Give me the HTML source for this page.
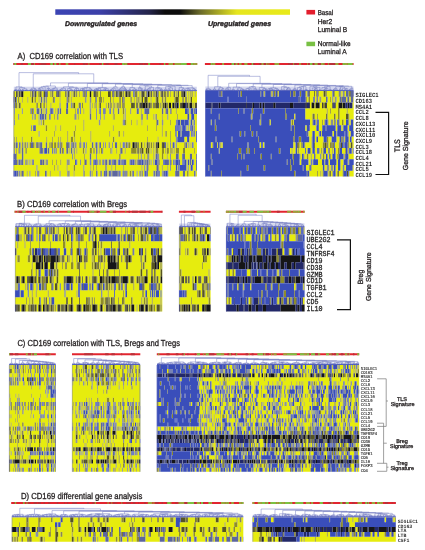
<!DOCTYPE html>
<html><head><meta charset="utf-8"><title>CD169 heatmaps</title>
<style>
html,body{margin:0;padding:0;background:#fff;width:425px;height:550px;overflow:hidden}
svg{display:block}
text{text-rendering:geometricPrecision}
.t{font-family:"Liberation Sans",Arial,sans-serif;fill:#231f20}
.s{stroke:#231f20;stroke-width:0.3px}
.s3{stroke:#231f20;stroke-width:0.35px}
.m{font-family:"Liberation Mono","DejaVu Sans Mono",monospace;fill:#2a2a2a;font-weight:bold}
</style></head>
<body>
<svg xmlns="http://www.w3.org/2000/svg" width="425" height="550" viewBox="0 0 425 550">
<defs>
<linearGradient id="cb" x1="55.3" y1="0" x2="290" y2="0" gradientUnits="userSpaceOnUse">
<stop offset="0" stop-color="#3b44b4"/>
<stop offset="0.19" stop-color="#3c40a8"/>
<stop offset="0.40" stop-color="#24244a"/>
<stop offset="0.467" stop-color="#0c0c0c"/>
<stop offset="0.531" stop-color="#0c0c0c"/>
<stop offset="0.617" stop-color="#6a6a2a"/>
<stop offset="0.774" stop-color="#e6e61e"/>
<stop offset="1" stop-color="#e8ea1a"/>
</linearGradient>
</defs>
<!-- colour bar -->
<rect x="55.3" y="9.3" width="234.7" height="5.5" fill="url(#cb)"/>
<text class="t s3" x="65.1" y="25.9" font-size="6.9" font-weight="bold" font-style="italic" textLength="72.1" lengthAdjust="spacingAndGlyphs">Downregulated genes</text>
<text class="t s3" x="207.9" y="26.2" font-size="7" font-weight="bold" font-style="italic" textLength="63.3" lengthAdjust="spacingAndGlyphs">Upregulated genes</text>
<!-- legend -->
<rect x="306.4" y="9.9" width="8.7" height="4.6" fill="#e31e2d"/>
<rect x="306.4" y="41.7" width="8.7" height="4.5" fill="#78c043"/>
<g class="t s" font-size="7.2">
<text x="317.7" y="15.2" textLength="15.5" lengthAdjust="spacingAndGlyphs">Basal</text>
<text x="317.7" y="23.8" textLength="14.5" lengthAdjust="spacingAndGlyphs">Her2</text>
<text x="317.7" y="32.4" textLength="29.6" lengthAdjust="spacingAndGlyphs">Luminal B</text>
<text x="317.7" y="46.2" textLength="32.9" lengthAdjust="spacingAndGlyphs">Normal-like</text>
<text x="317.7" y="54.4" textLength="29" lengthAdjust="spacingAndGlyphs">Luminal A</text>
</g>
<!-- titles -->
<g class="t s" font-size="8.7">
<text x="17.6" y="59.0" textLength="105.4" lengthAdjust="spacingAndGlyphs">A)&#160; CD169 correlation with TLS</text>
<text x="17.1" y="207.3" textLength="110" lengthAdjust="spacingAndGlyphs">B) CD169 correlation with Bregs</text>
<text x="17.4" y="346.2" textLength="162.6" lengthAdjust="spacingAndGlyphs">C) CD169 correlation with TLS, Bregs and Tregs</text>
<text x="20.9" y="499.2" textLength="121.4" lengthAdjust="spacingAndGlyphs">D) CD169 differential gene analysis</text>
</g>
<!-- annotation bars -->
<g>
<path stroke="#e2252f" stroke-width="2" d="M13.5 64H197.2"/>
<path stroke="#b8323a" stroke-width="2" d="M13.5 64h0.8M20.9 64h2M26.9 64h1M30.9 64h3.2M38.9 64h0.8M40.5 64h3.2M43.7 64h2.6M58.3 64h0.8M74.3 64h1M82.9 64h2.6M86.3 64h0.8M99.1 64h1M100.1 64h1M105.5 64h3.2M114.5 64h2M116.5 64h1M127.3 64h1M139.1 64h2.6M141.7 64h1.4M144.1 64h2.6M159.3 64h1M160.3 64h0.8"/>
<path stroke="#7cc242" stroke-width="2" d="M14.3 64h2M27.9 64h2M29.9 64h1M50.3 64h2.6M54.3 64h2M88.5 64h0.8M101.9 64h1.4M122.1 64h2.6M148.1 64h2M163.9 64h1.4M180.9 64h3.2M184.1 64h2.6M190.7 64h2.6M195.9 64h0.8"/>
<path stroke="#9aa83c" stroke-width="2" d="M34.1 64h0.8M59.1 64h1.4M65.7 64h2.6M124.7 64h2.6M168.5 64h2M170.5 64h2.6M174.5 64h3.2M177.7 64h3.2M193.3 64h2.6M196.7 64h0.5"/>
<path stroke="#e2252f" stroke-width="2" d="M204.9 64H353.6"/>
<path stroke="#b8323a" stroke-width="2" d="M234.1 64h1.4M253.1 64h2M258.9 64h2.6M263.5 64h2.6M267.5 64h1M288.1 64h1M289.1 64h3.2M294.1 64h3.2M302.1 64h0.8M307.9 64h2M312.5 64h2M317.7 64h3.2M329.5 64h2.6M332.1 64h3.2"/>
<path stroke="#7cc242" stroke-width="2" d="M210.7 64h2M231.5 64h2.6M239.3 64h0.8M251.7 64h1.4M293.3 64h0.8M299.3 64h1M309.9 64h2.6M323.5 64h1M327.9 64h0.8M342.5 64h1.4M343.9 64h1M347.5 64h2.6M350.1 64h2"/>
<path stroke="#9aa83c" stroke-width="2" d="M212.7 64h2.6M222.1 64h2M235.5 64h2M240.1 64h1.4M244.3 64h3.2M261.5 64h2M266.1 64h1.4M268.5 64h0.8M274.5 64h1.4M275.9 64h3.2M300.3 64h0.8M307.1 64h0.8M314.5 64h3.2M320.9 64h2.6M335.3 64h3.2M344.9 64h2.6M352.1 64h0.8"/>
<path stroke="#e2252f" stroke-width="2" d="M14.6 211.8H162.4"/>
<path stroke="#b8323a" stroke-width="2" d="M18.4 211.8h2.6M21 211.8h1.4M27.4 211.8h1M31 211.8h1.4M42.6 211.8h1M57.2 211.8h1M73.2 211.8h0.8M87.4 211.8h0.8M88.2 211.8h1M96.4 211.8h2M112.8 211.8h3.2M128.6 211.8h1.4M132 211.8h2.6M134.6 211.8h3.2M139.4 211.8h3.2M142.6 211.8h3.2M148.6 211.8h2M161.6 211.8h0.8"/>
<path stroke="#7cc242" stroke-width="2" d="M17.4 211.8h1M22.4 211.8h3.2M32.4 211.8h2.6M39.6 211.8h1M52.2 211.8h3.2M58.2 211.8h0.8M67.4 211.8h3.2M91.2 211.8h0.8M92 211.8h2.6M99.8 211.8h2.6M102.4 211.8h1.4M103.8 211.8h2.6M125.4 211.8h0.8M150.6 211.8h2.6"/>
<path stroke="#9aa83c" stroke-width="2" d="M14.6 211.8h0.8M36 211.8h0.8M37.6 211.8h2M43.6 211.8h1.4M48.2 211.8h2M89.2 211.8h2M95.4 211.8h1M109.6 211.8h3.2"/>
<path stroke="#e2252f" stroke-width="2" d="M178.9 211.8H210.6"/>
<path stroke="#b8323a" stroke-width="2" d="M183.5 211.8h2M191.5 211.8h0.8M192.3 211.8h2.6"/>
<path stroke="#7cc242" stroke-width="2" d="M197.9 211.8h1.4"/>
<path stroke="#9aa83c" stroke-width="2" d="M195.9 211.8h1M196.9 211.8h1M199.3 211.8h1M203.5 211.8h1"/>
<path stroke="#e2252f" stroke-width="2" d="M225.9 211.8H304.6"/>
<path stroke="#b8323a" stroke-width="2" d="M236.5 211.8h1M238.5 211.8h3.2M241.7 211.8h1M269.5 211.8h0.8M276.9 211.8h1.4M278.3 211.8h1.4"/>
<path stroke="#7cc242" stroke-width="2" d="M228.7 211.8h2M233.9 211.8h2.6M237.5 211.8h1M242.7 211.8h3.2M249.5 211.8h0.8M250.3 211.8h2.6M252.9 211.8h1M257.1 211.8h3.2M260.3 211.8h1.4M261.7 211.8h1.4M266.3 211.8h3.2M270.3 211.8h0.8M290.3 211.8h1M295.9 211.8h1M297.7 211.8h1.4"/>
<path stroke="#9aa83c" stroke-width="2" d="M225.9 211.8h2M227.9 211.8h0.8M230.7 211.8h3.2M245.9 211.8h0.8M263.1 211.8h3.2M287.1 211.8h3.2M292.7 211.8h3.2M296.9 211.8h0.8M299.1 211.8h2M303.1 211.8h1.4M304.5 211.8h0.1"/>
<path stroke="#e2252f" stroke-width="2" d="M9 354.3H55.8"/>
<path stroke="#b8323a" stroke-width="2" d="M9.8 354.3h3.2M15 354.3h1.4M16.4 354.3h1M17.4 354.3h1M27.8 354.3h3.2M32.4 354.3h1.4M45.4 354.3h0.8M46.2 354.3h2.6M48.8 354.3h0.8"/>
<path stroke="#7cc242" stroke-width="2" d="M9 354.3h0.8M33.8 354.3h3.2"/>
<path stroke="#9aa83c" stroke-width="2" d="M25.8 354.3h2M31 354.3h1.4M49.6 354.3h0.8"/>
<path stroke="#e2252f" stroke-width="2" d="M72 354.3H140.3"/>
<path stroke="#b8323a" stroke-width="2" d="M84.2 354.3h1.4M85.6 354.3h2M87.6 354.3h2M89.6 354.3h2.6M92.2 354.3h0.8M105.2 354.3h2M107.2 354.3h1.4M111.4 354.3h2M113.4 354.3h1.4M121.2 354.3h1M130.8 354.3h3.2M134 354.3h0.8"/>
<path stroke="#e2252f" stroke-width="2" d="M156.8 354.3H359.2"/>
<path stroke="#b8323a" stroke-width="2" d="M166.4 354.3h3.2M175.8 354.3h2.6M181.8 354.3h1M182.8 354.3h1M187.4 354.3h1M194.8 354.3h1M208.8 354.3h2.6M211.4 354.3h1M212.4 354.3h2M227.4 354.3h2M230.8 354.3h1.4M234.8 354.3h1.4M245.6 354.3h1.4M247 354.3h1M251.6 354.3h1M252.6 354.3h1M263 354.3h0.8M265.4 354.3h1M266.4 354.3h2.6M309.2 354.3h0.8M315 354.3h3.2M331.4 354.3h1.4M333.6 354.3h2.6M340.8 354.3h2.6M347.4 354.3h1.4M353 354.3h1.4"/>
<path stroke="#7cc242" stroke-width="2" d="M158.2 354.3h1M183.8 354.3h1M196.8 354.3h3.2M203.4 354.3h0.8M205.6 354.3h3.2M216.4 354.3h2M218.4 354.3h2.6M236.2 354.3h1M248.8 354.3h0.8M257.4 354.3h1.4M258.8 354.3h3.2M262 354.3h1M286.4 354.3h3.2M289.6 354.3h3.2M292.8 354.3h3.2M296 354.3h0.8M300 354.3h3.2M303.2 354.3h0.8M306.6 354.3h2.6M311 354.3h2M313 354.3h2M318.2 354.3h1M326 354.3h3.2M330.6 354.3h0.8M336.2 354.3h1M337.2 354.3h1.4M357.8 354.3h1.4"/>
<path stroke="#9aa83c" stroke-width="2" d="M221 354.3h3.2M229.4 354.3h1.4M263.8 354.3h0.8M264.6 354.3h0.8M271 354.3h1.4M273.4 354.3h3.2M283.2 354.3h3.2M304 354.3h2.6M319.2 354.3h1M344.8 354.3h2.6M348.8 354.3h1M357 354.3h0.8"/>
<path stroke="#e2252f" stroke-width="2" d="M11.2 503H243.4"/>
<path stroke="#b8323a" stroke-width="2" d="M13.8 503h1M28.4 503h2M33.6 503h3.2M37.8 503h3.2M43.6 503h1.4M48.2 503h2M56.8 503h1.4M64 503h0.8M66.8 503h1.4M72.2 503h2M74.2 503h0.8M75 503h0.8M75.8 503h1M87 503h2M92.2 503h2.6M110 503h1.4M113 503h2.6M116.4 503h0.8M122.2 503h0.8M126.2 503h2M128.2 503h2.6M132.8 503h2.6M138 503h0.8M144.2 503h0.8M145 503h0.8M155.4 503h3.2M161.6 503h1.4M166.2 503h1M175.4 503h1.4M177.6 503h1M184.2 503h3.2M194 503h2M203 503h1.4"/>
<path stroke="#7cc242" stroke-width="2" d="M23.2 503h1.4M26.6 503h0.8M167.2 503h3.2M178.6 503h1M187.4 503h3.2M190.6 503h1.4M192 503h2M201 503h2M208.4 503h1.4M209.8 503h0.8M224.2 503h1.4M227 503h0.8M241.6 503h1.8"/>
<path stroke="#9aa83c" stroke-width="2" d="M14.8 503h1.4M94.8 503h1M107.6 503h1M111.4 503h0.8M121.4 503h0.8M147.8 503h2.6M150.4 503h2M153.4 503h1M170.4 503h1M179.6 503h1.4M181 503h3.2M196.8 503h3.2M210.6 503h1.4M221 503h3.2M225.6 503h1.4M227.8 503h1.4M231.2 503h2.6M239 503h2.6"/>
<path stroke="#e2252f" stroke-width="2" d="M252.5 503H395.8"/>
<path stroke="#b8323a" stroke-width="2" d="M328.3 503h3.2M343.1 503h2.6M352.1 503h2.6M367.3 503h0.8M384.9 503h3.2M391.7 503h1M395.3 503h0.5"/>
<path stroke="#7cc242" stroke-width="2" d="M261.9 503h0.8M262.7 503h0.8M263.5 503h2M266.3 503h2M270.3 503h1.4M271.7 503h2.6M274.3 503h0.8M275.1 503h1.4M278.7 503h3.2M284.5 503h1M285.5 503h0.8M286.3 503h1M287.3 503h2.6M290.9 503h1.4M295.9 503h0.8M296.7 503h2.6M299.3 503h2M301.3 503h2M309.1 503h0.8M310.9 503h0.8M319.7 503h3.2M340.3 503h2M345.7 503h3.2M365.3 503h2M368.1 503h1M377.1 503h1.4M378.5 503h0.8M381.3 503h0.8"/>
<path stroke="#9aa83c" stroke-width="2" d="M252.5 503h2M257.7 503h1M258.7 503h3.2M265.5 503h0.8M276.5 503h0.8M277.3 503h1.4M281.9 503h2.6M289.9 503h1M294.9 503h1M305.9 503h3.2M311.7 503h1.4M331.5 503h1M357.5 503h2M359.5 503h2.6M371.7 503h2M373.7 503h1.4M379.3 503h2M382.1 503h0.8"/>
</g>
<!-- dendrograms -->
<g fill="none" stroke="#6870bc" stroke-width="0.45">
<rect x="13.8" y="86.7" width="183" height="4.5" fill="#d4d7ee" stroke="none"/><path d="M15.21 91.2V90.76H15.95V91.2M14.33 91.2V90.08H15.58V90.76M14.96 90.08V89.49H16.97V91.2M17.94 91.2V90.85H18.77V91.2M19.71 91.2V90.61H20.39V91.2M20.05 90.61V89.86H20.97V91.2M18.35 90.85V89.28H20.51V89.86M21.6 91.2V90.6H22.33V91.2M23.44 91.2V90.67H24.15V91.2M22.92 91.2V90.2H23.79V90.67M21.96 90.6V89.88H23.36V90.2M25.65 91.2V90.82H26.73V91.2M24.79 91.2V90.5H26.19V90.82M27.48 91.2V90.87H28.29V91.2M25.49 90.5V90.08H27.88V90.87M22.66 89.88V88.89H26.69V90.08M19.43 89.28V87.69H24.67V88.89M15.96 89.49V86.87H22.05V87.69M29.48 91.2V90.39H30.73V91.2M32.97 91.2V90.58H33.78V91.2M31.87 91.2V89.87H33.37V90.58M30.11 90.39V89.56H32.62V89.87M35.9 91.2V90.4H36.94V91.2M35.19 91.2V89.57H36.42V90.4M34.45 91.2V88.69H35.81V89.57M31.36 89.56V88.26H35.13V88.69M40.07 91.2V90.52H40.76V91.2M40.41 90.52V89.98H41.33V91.2M39.18 91.2V89.12H40.87V89.98M38.14 91.2V88.72H40.02V89.12M42.22 91.2V90.75H42.98V91.2M42.6 90.75V90.41H43.41V91.2M39.08 88.72V87.92H43.01V90.41M43.99 91.2V90.87H44.84V91.2M44.41 90.87V90.4H45.88V91.2M41.05 87.92V86.72H45.15V90.4M48.72 91.2V90.85H49.54V91.2M48 91.2V89.97H49.13V90.85M48.57 89.97V89.07H50.5V91.2M46.99 91.2V88.52H49.53V89.07M43.1 86.72V86.29H48.26V88.52M52.19 91.2V90.69H52.99V91.2M52.59 90.69V90.04H53.8V91.2M51.25 91.2V89.19H53.2V90.04M52.23 89.19V88.69H55.02V91.2M57.48 91.2V90.61H58.52V91.2M56.26 91.2V89.95H58V90.61M53.62 88.69V88.05H57.13V89.95M45.68 86.29V85.99H55.38V88.05M59.12 91.2V90.8H59.88V91.2M61.14 91.2V90.85H61.88V91.2M60.7 91.2V90.37H61.51V90.85M59.5 90.8V89.82H61.11V90.37M60.3 89.82V89.16H63.02V91.2M64.19 91.2V90.56H65.1V91.2M64.64 90.56V90.03H66.06V91.2M61.66 89.16V88.19H65.35V90.03M67.17 91.2V90.74H68.12V91.2M68.9 91.2V90.68H69.87V91.2M69.39 90.68V90.09H71.04V91.2M71.96 91.2V90.88H72.94V91.2M70.22 90.09V89.75H72.45V90.88M67.65 90.74V88.49H71.33V89.75M74.1 91.2V90.77H75.01V91.2M75.88 91.2V90.57H76.54V91.2M76.21 90.57V90.03H77.09V91.2M74.55 90.77V89.01H76.65V90.03M77.67 91.2V90.71H78.49V91.2M78.08 90.71V90.16H79.39V91.2M75.6 89.01V88.46H78.73V90.16M69.49 88.49V87.34H77.17V88.46M63.51 88.19V86.8H73.33V87.34M80.1 91.2V90.78H80.82V91.2M81.55 91.2V90.76H82.2V91.2M81.88 90.76V90.11H82.59V91.2M82.23 90.11V89.72H83.3V91.2M84.43 91.2V90.69H85.4V91.2M82.77 89.72V89.21H84.92V90.69M80.46 90.78V88.69H83.84V89.21M87.12 91.2V90.85H87.94V91.2M86.17 91.2V90.42H87.53V90.85M82.15 88.69V88.19H86.85V90.42M88.64 91.2V90.65H89.32V91.2M89.91 91.2V90.88H90.63V91.2M90.27 90.88V90.49H91.27V91.2M91.86 91.2V90.6H92.52V91.2M90.77 90.49V89.58H92.19V90.6M88.98 90.65V88.87H91.48V89.58M84.5 88.19V87.59H90.23V88.87M93.27 91.2V90.68H94.05V91.2M93.66 90.68V90.31H94.67V91.2M94.16 90.31V89.94H95.28V91.2M97.12 91.2V90.41H98.04V91.2M98.77 91.2V90.47H99.47V91.2M97.58 90.41V89.84H99.12V90.47M96.08 91.2V89.44H98.35V89.84M94.72 89.94V89.08H97.22V89.44M100.95 91.2V90.48H101.63V91.2M100.19 91.2V90.01H101.29V90.48M95.97 89.08V88.52H100.74V90.01M102.5 91.2V90.82H103.5V91.2M104.42 91.2V90.49H105.12V91.2M104.77 90.49V90.03H105.6V91.2M105.18 90.03V89.71H106.21V91.2M103 90.82V89.17H105.7V89.71M107.06 91.2V90.8H108.05V91.2M107.55 90.8V90.41H108.91V91.2M104.35 89.17V88.7H108.23V90.41M98.35 88.52V87.57H106.29V88.7M110.41 91.2V90.8H111.14V91.2M109.59 91.2V90.22H110.78V90.8M110.18 90.22V89.9H111.95V91.2M113.15 91.2V90.84H114.01V91.2M111.07 89.9V89.11H113.58V90.84M114.78 91.2V90.58H115.7V91.2M112.32 89.11V88.16H115.24V90.58M116.54 91.2V90.47H117.64V91.2M113.78 88.16V86.82H117.09V90.47M119.13 91.2V90.62H119.8V91.2M119.47 90.62V90.11H120.75V91.2M118.62 91.2V89.28H120.11V90.11M119.36 89.28V88.94H121.79V91.2M120.58 88.94V87.85H122.94V91.2M126.61 91.2V90.54H127.28V91.2M125.82 91.2V89.78H126.94V90.54M125.33 91.2V89.38H126.38V89.78M124.74 91.2V88.64H125.85V89.38M123.94 91.2V87.76H125.29V88.64M121.76 87.85V86.65H124.62V87.76M127.98 91.2V90.76H128.91V91.2M128.45 90.76V90.21H129.79V91.2M129.12 90.21V89.37H130.72V91.2M131.74 91.2V90.7H132.56V91.2M133.37 91.2V90.88H134.22V91.2M132.15 90.7V90.05H133.8V90.88M135.37 91.2V90.77H136.16V91.2M134.67 91.2V90.14H135.77V90.77M135.22 90.14V89.43H137.07V91.2M132.97 90.05V89H136.14V89.43M129.92 89.37V87.59H134.56V89M138.05 91.2V90.87H138.87V91.2M141.32 91.2V90.5H142.08V91.2M140.66 91.2V89.96H141.7V90.5M141.18 89.96V89.14H142.97V91.2M139.85 91.2V88.21H142.08V89.14M138.46 90.87V87.76H140.97V88.21M143.97 91.2V90.6H144.62V91.2M144.3 90.6V90.05H145.07V91.2M144.68 90.05V89.17H145.77V91.2M147.19 91.2V90.89H147.84V91.2M147.52 90.89V90.46H148.5V91.2M146.53 91.2V89.73H148.01V90.46M147.27 89.73V89.07H149.3V91.2M150.24 91.2V90.76H151.16V91.2M148.29 89.07V88.29H150.7V90.76M152.04 91.2V90.55H152.89V91.2M152.47 90.55V90.2H153.52V91.2M152.99 90.2V89.81H154.15V91.2M149.49 88.29V87.39H153.57V89.81M145.23 89.17V86.08H151.53V87.39M139.71 87.76V85.78H148.38V86.08M155.2 91.2V90.72H156.5V91.2M157.42 91.2V90.69H158.33V91.2M160.08 91.2V90.79H160.82V91.2M160.45 90.79V90.13H161.72V91.2M159.44 91.2V89.82H161.09V90.13M162.35 91.2V90.83H163.09V91.2M160.26 89.82V89.34H162.72V90.83M157.87 90.69V88.22H161.49V89.34M155.85 90.72V87.74H159.68V88.22M165.05 91.2V90.64H165.81V91.2M164.04 91.2V90.13H165.43V90.64M164.73 90.13V89.22H166.57V91.2M167.5 91.2V90.76H168.3V91.2M170.18 91.2V90.45H170.96V91.2M169.13 91.2V90.06H170.57V90.45M167.9 90.76V89.08H169.85V90.06M171.31 91.2V90.85H172.11V91.2M171.71 90.85V90.3H173.21V91.2M168.87 89.08V87.94H172.46V90.3M165.65 89.22V86.62H170.67V87.94M175.41 91.2V90.39H176.53V91.2M174.28 91.2V89.95H175.97V90.39M168.16 86.62V86.18H175.12V89.95M177.69 91.2V90.89H178.47V91.2M178.08 90.89V90.5H178.98V91.2M179.47 91.2V90.64H180.17V91.2M178.53 90.5V89.92H179.82V90.64M181.2 91.2V90.55H182.14V91.2M182.77 91.2V90.51H183.48V91.2M181.67 90.55V89.64H183.12V90.51M182.4 89.64V88.7H184.49V91.2M179.18 89.92V87.6H183.44V88.7M171.64 86.18V85.88H181.31V87.6M185.35 91.2V90.57H186.12V91.2M187.16 91.2V90.5H187.98V91.2M188.73 91.2V90.82H189.81V91.2M190.81 91.2V90.83H191.47V91.2M189.27 90.82V90.18H191.14V90.83M187.57 90.5V89.25H190.2V90.18M185.74 90.57V88.35H188.89V89.25M192.31 91.2V90.74H193.19V91.2M193.78 91.2V90.58H194.54V91.2M195.78 91.2V90.69H196.5V91.2M195.16 91.2V89.99H196.14V90.69M194.16 90.58V89.44H195.65V89.99M192.75 90.74V88.66H194.91V89.44M187.31 88.35V87.98H193.83V88.66M176.48 85.88V85.58H192.2V87.98M157.77 87.74V85.28H188.27V85.58M144.05 85.78V84.98H180.64V85.28M132.24 87.59V84.68H171.49V84.98M123.19 86.65V84.38H161.68V84.68M115.44 86.82V84.08H152.06V84.38M102.32 87.57V83.78H142.9V84.08M87.36 87.59V83.48H132.76V83.78M68.42 86.8V83.18H121.41V83.48M50.53 85.99V82.88H108.16V83.18M33.25 88.26V73.8H93.75V82.88M19.01 86.87V72.6H78.63V73.8"/><path stroke="#4a56b8" stroke-width="0.9" d="M13.8 90.85H196.8"/>
<rect x="205.4" y="86.5" width="148.1" height="4.5" fill="#d4d7ee" stroke="none"/><path d="M207.27 91V90.41H207.93V91M206.57 91V89.81H207.6V90.41M205.86 91V89.24H207.09V89.81M208.44 91V90.44H209.36V91M210.88 91V90.43H211.54V91M210.24 91V89.8H211.21V90.43M208.9 90.44V89.33H210.73V89.8M206.47 89.24V88.85H209.82V89.33M212.33 91V90.5H213.11V91M213.72 91V90.29H214.49V91M212.72 90.5V89.88H214.1V90.29M215.92 91V90.43H216.58V91M215.23 91V89.91H216.25V90.43M213.41 89.88V89.12H215.74V89.91M217.42 91V90.41H218.19V91M217.81 90.41V89.86H218.71V91M219.54 91V90.51H220.24V91M218.26 89.86V89.12H219.89V90.51M220.79 91V90.33H221.69V91M221.24 90.33V89.66H222.76V91M222 89.66V88.68H223.9V91M219.07 89.12V87.75H222.95V88.68M214.58 89.12V86.75H221.01V87.75M226.25 91V90.27H227.01V91M225.07 91V89.87H226.63V90.27M228.31 91V90.53H229V91M228.65 90.53V90.1H229.46V91M227.5 91V89.4H229.05V90.1M225.85 89.87V88.31H228.28V89.4M229.97 91V90.5H230.69V91M227.06 88.31V87.38H230.33V90.5M232.13 91V90.6H232.88V91M231.47 91V90.25H232.5V90.6M234.57 91V90.65H235.3V91M233.81 91V90.26H234.94V90.65M231.99 90.25V89.62H234.37V90.26M236.33 91V90.56H237.49V91M238.33 91V90.57H238.99V91M236.91 90.56V89.74H238.66V90.57M239.88 91V90.3H240.79V91M243.04 91V90.42H243.75V91M241.91 91V89.98H243.39V90.42M242.65 89.98V89.62H244.53V91M240.34 90.3V89.17H243.59V89.62M237.79 89.74V87.98H241.96V89.17M233.18 89.62V87.15H239.88V87.98M245.99 91V90.59H246.98V91M245.37 91V89.91H246.48V90.59M248.23 91V90.37H249.06V91M248.65 90.37V89.49H249.78V91M245.93 89.91V88.66H249.21V89.49M250.7 91V90.3H251.55V91M247.57 88.66V88.09H251.13V90.3M252.64 91V90.33H253.61V91M249.35 88.09V86.85H253.12V90.33M255.92 91V90.5H256.67V91M256.29 90.5V89.89H257.44V91M255.26 91V89.29H256.86V89.89M254.37 91V88.36H256.06V89.29M251.24 86.85V86.55H255.22V88.36M259.24 91V90.57H260.28V91M259.76 90.57V90.18H261.18V91M258.2 91V89.88H260.47V90.18M263.21 91V90.22H264.2V91M262.11 91V89.61H263.71V90.22M265.63 91V90.36H266.38V91M264.9 91V89.56H266.01V90.36M265.45 89.56V89.25H266.93V91M262.91 89.61V88.5H266.19V89.25M259.34 89.88V87.57H264.55V88.5M269.06 91V90.37H269.86V91M269.46 90.37V89.55H270.37V91M267.85 91V88.88H269.91V89.55M271.78 91V90.34H272.63V91M272.2 90.34V89.64H273.78V91M271.1 91V89.2H272.99V89.64M268.88 88.88V88.43H272.05V89.2M274.52 91V90.28H275.19V91M276.18 91V90.64H276.89V91M278.63 91V90.53H279.47V91M277.65 91V89.63H279.05V90.53M276.53 90.64V89.15H278.35V89.63M274.85 90.28V88.43H277.44V89.15M270.46 88.43V87.86H276.15V88.43M280.29 91V90.45H281.27V91M280.78 90.45V89.7H282.47V91M284.13 91V90.22H284.98V91M283.34 91V89.91H284.55V90.22M285.67 91V90.28H286.36V91M286.01 90.28V89.95H286.86V91M286.44 89.95V89.38H287.41V91M286.93 89.38V88.53H288.1V91M288.76 91V90.5H289.52V91M290.34 91V90.28H291.33V91M289.14 90.5V89.31H290.84V90.28M287.51 88.53V88.02H289.99V89.31M283.95 89.91V87.36H288.75V88.02M281.63 89.7V86.6H286.35V87.36M292.4 91V90.34H293.08V91M292.74 90.34V89.69H293.69V91M293.21 89.69V89.2H294.63V91M296.06 91V90.34H296.72V91M295.36 91V89.6H296.39V90.34M293.92 89.2V88.68H295.87V89.6M297.52 91V90.6H298.23V91M297.1 91V89.97H297.87V90.6M299.29 91V90.22H300.19V91M299.74 90.22V89.34H300.95V91M300.35 89.34V88.72H301.94V91M297.49 89.97V87.62H301.14V88.72M303.09 91V90.58H303.98V91M299.32 87.62V86.73H303.53V90.58M307.37 91V90.7H308.17V91M306.18 91V90.06H307.77V90.7M304.93 91V89.44H306.98V90.06M301.43 86.73V86.43H305.95V89.44M308.73 91V90.66H309.51V91M310.3 91V90.4H311.04V91M309.12 90.66V90.05H310.67V90.4M311.84 91V90.53H312.65V91M313.38 91V90.55H314.21V91M313.79 90.55V89.76H315.17V91M314.48 89.76V89.11H316.09V91M316.96 91V90.39H317.65V91M315.29 89.11V88.66H317.3V90.39M312.25 90.53V88H316.3V88.66M319.45 91V90.63H320.18V91M318.43 91V90.32H319.81V90.63M319.12 90.32V89.69H320.76V91M314.27 88V87.37H319.94V89.69M309.9 90.05V86.6H317.11V87.37M321.54 91V90.52H322.38V91M323.1 91V90.43H323.82V91M323.46 90.43V89.83H324.65V91M324.05 89.83V89.29H325.46V91M324.76 89.29V88.77H326.51V91M327.59 91V90.3H328.34V91M325.63 88.77V88.25H327.96V90.3M321.96 90.52V87.59H326.8V88.25M331.26 91V90.66H332.04V91M330.35 91V89.97H331.65V90.66M329.21 91V89.42H331V89.97M324.38 87.59V86.6H330.11V89.42M333.76 91V90.2H334.74V91M332.92 91V89.65H334.25V90.2M333.58 89.65V89.12H335.69V91M337.15 91V90.56H337.86V91M336.36 91V89.8H337.51V90.56M334.64 89.12V88.34H336.93V89.8M338.7 91V90.39H339.66V91M339.18 90.39V89.65H340.33V91M339.76 89.65V88.72H341V91M342.64 91V90.51H343.4V91M341.74 91V89.66H343.02V90.51M343.93 91V90.4H344.83V91M345.94 91V90.42H346.79V91M344.38 90.4V89.56H346.36V90.42M347.52 91V90.3H348.27V91M345.37 89.56V88.78H347.9V90.3M342.38 89.66V88.32H346.63V88.78M340.38 88.72V87.03H344.51V88.32M335.78 88.34V86.6H342.44V87.03M349.82 91V90.35H350.75V91M349.09 91V89.77H350.28V90.35M349.68 89.77V89.21H351.82V91M350.75 89.21V88.3H352.88V91M339.11 86.6V86.3H351.81V88.3M327.24 86.6V86H348.64V86.3M313.5 86.6V85.7H343.29V86M303.69 86.43V85.4H335.84V85.7M294.9 88.68V85.1H327.8V85.4M283.99 86.6V84.8H319.58V85.1M273.31 87.86V84.5H310.68V84.8M261.94 87.57V84.2H301.34V84.5M253.23 86.55V83.9H291.49V84.2M236.53 87.15V83.6H281.92V83.9M228.7 87.38V83.3H270.57V83.6M217.8 86.75V76.34H260.1V83.3M208.14 88.85V75.3H249.53V76.34"/><path stroke="#4a56b8" stroke-width="0.9" d="M205.4 90.65H353.5"/>
<rect x="15.2" y="223.63" width="146.9" height="3.57" fill="#d4d7ee" stroke="none"/><path d="M16.3 227.2V226.84H17.16V227.2M15.64 227.2V226.23H16.73V226.84M18.22 227.2V226.6H18.87V227.2M19.48 227.2V226.53H20.29V227.2M18.55 226.6V225.87H19.88V226.53M21.08 227.2V226.63H21.87V227.2M22.65 227.2V226.79H23.3V227.2M22.97 226.79V226.34H24.12V227.2M23.55 226.34V225.9H24.96V227.2M21.48 226.63V224.83H24.25V225.9M25.84 227.2V226.67H26.57V227.2M26.2 226.67V226H27.02V227.2M22.86 224.83V224.25H26.61V226M19.21 225.87V223.87H24.74V224.25M16.18 226.23V223.57H21.98V223.87M28.33 227.2V226.48H29.1V227.2M27.71 227.2V226.13H28.71V226.48M30.28 227.2V226.85H31.27V227.2M30.78 226.85V226.25H32.1V227.2M28.21 226.13V224.99H31.44V226.25M19.08 223.57V223.27H29.83V224.99M33.81 227.2V226.64H34.54V227.2M32.99 227.2V226.11H34.17V226.64M35.36 227.2V226.71H36.06V227.2M33.58 226.11V225.28H35.71V226.71M37.06 227.2V226.88H37.78V227.2M36.5 227.2V226.25H37.42V226.88M34.65 225.28V224.22H36.96V226.25M38.56 227.2V226.8H39.24V227.2M38.9 226.8V226.28H40.12V227.2M41.33 227.2V226.54H42.47V227.2M39.51 226.28V225.67H41.9V226.54M35.8 224.22V223.87H40.71V225.67M43.35 227.2V226.56H44.24V227.2M43.79 226.56V225.73H45.36V227.2M46.48 227.2V226.77H47.15V227.2M46.81 226.77V225.92H47.91V227.2M44.58 225.73V225.27H47.36V225.92M49.6 227.2V226.46H50.54V227.2M48.8 227.2V225.62H50.07V226.46M49.43 225.62V224.85H51.49V227.2M52.43 227.2V226.57H53.42V227.2M55.81 227.2V226.6H56.67V227.2M54.95 227.2V226.21H56.24V226.6M54.36 227.2V225.64H55.59V226.21M52.92 226.57V225.11H54.98V225.64M50.46 224.85V223.87H53.95V225.11M45.97 225.27V223.57H52.21V223.87M58.07 227.2V226.72H58.81V227.2M57.3 227.2V226.09H58.44V226.72M59.64 227.2V226.72H60.34V227.2M61.67 227.2V226.49H62.44V227.2M60.87 227.2V225.83H62.06V226.49M59.99 226.72V225.15H61.46V225.83M57.87 226.09V224.08H60.73V225.15M63.66 227.2V226.89H64.62V227.2M62.94 227.2V226.4H64.14V226.89M63.54 226.4V225.94H65.48V227.2M59.3 224.08V223.78H64.51V225.94M66.81 227.2V226.46H67.53V227.2M66.26 227.2V225.73H67.17V226.46M66.72 225.73V225.07H68.55V227.2M69.71 227.2V226.48H70.45V227.2M69.27 227.2V225.9H70.08V226.48M67.63 225.07V224.05H69.67V225.9M61.91 223.78V223.48H68.65V224.05M73.2 227.2V226.57H73.88V227.2M72.52 227.2V225.85H73.54V226.57M71.59 227.2V225.05H73.03V225.85M74.66 227.2V226.69H75.4V227.2M72.31 225.05V224.59H75.03V226.69M76.19 227.2V226.67H76.95V227.2M76.57 226.67V225.94H77.77V227.2M73.67 224.59V223.87H77.17V225.94M81.06 227.2V226.55H82.02V227.2M79.94 227.2V226.07H81.54V226.55M78.82 227.2V225.07H80.74V226.07M79.78 225.07V224.37H83.08V227.2M84.06 227.2V226.89H85V227.2M86.07 227.2V226.75H86.91V227.2M86.49 226.75V226.25H87.52V227.2M88.21 227.2V226.8H89.24V227.2M87.01 226.25V225.87H88.72V226.8M90.43 227.2V226.74H91.45V227.2M87.86 225.87V225.15H90.94V226.74M84.53 226.89V224.11H89.4V225.15M92.23 227.2V226.75H92.99V227.2M94.95 227.2V226.85H95.76V227.2M93.94 227.2V226.31H95.36V226.85M92.61 226.75V225.93H94.65V226.31M86.97 224.11V223.81H93.63V225.93M96.52 227.2V226.58H97.41V227.2M96.97 226.58V225.99H98.12V227.2M98.84 227.2V226.89H99.64V227.2M99.24 226.89V226.5H100.46V227.2M99.85 226.5V225.67H101.53V227.2M97.54 225.99V225H100.69V225.67M102.55 227.2V226.48H103.31V227.2M102.93 226.48V225.96H103.83V227.2M103.38 225.96V225.49H104.58V227.2M105.28 227.2V226.79H105.94V227.2M103.98 225.49V224.51H105.61V226.79M107 227.2V226.7H107.72V227.2M106.64 227.2V226.13H107.36V226.7M107 226.13V225.59H108.91V227.2M104.79 224.51V224.19H107.95V225.59M110.74 227.2V226.6H111.39V227.2M109.9 227.2V225.87H111.06V226.6M106.37 224.19V223.87H110.48V225.87M112.99 227.2V226.77H113.73V227.2M113.36 226.77V226.36H114.44V227.2M112.16 227.2V225.5H113.9V226.36M115.04 227.2V226.47H115.84V227.2M115.44 226.47V225.75H116.58V227.2M117.25 227.2V226.78H118.15V227.2M116.01 225.75V225.05H117.7V226.78M120.37 227.2V226.62H121.06V227.2M119.31 227.2V225.88H120.71V226.62M116.86 225.05V224.18H120.01V225.88M113.03 225.5V223.87H118.44V224.18M121.88 227.2V226.78H122.84V227.2M123.38 227.2V226.71H124.07V227.2M122.36 226.78V226.01H123.73V226.71M123.04 226.01V225.17H125.01V227.2M126.01 227.2V226.6H127.15V227.2M124.03 225.17V224.78H126.58V226.6M115.73 223.87V223.57H125.3V224.78M128.03 227.2V226.83H128.88V227.2M130.82 227.2V226.52H131.61V227.2M129.97 227.2V225.66H131.22V226.52M128.46 226.83V224.6H130.6V225.66M132.35 227.2V226.44H133.12V227.2M134.76 227.2V226.85H135.65V227.2M134.04 227.2V226.24H135.21V226.85M134.63 226.24V225.68H136.75V227.2M137.82 227.2V226.82H138.95V227.2M135.69 225.68V225.36H138.38V226.82M132.74 226.44V224.67H137.04V225.36M140.03 227.2V226.87H140.96V227.2M140.5 226.87V226.29H142.02V227.2M141.26 226.29V225.71H143.17V227.2M134.89 224.67V223.87H142.21V225.71M129.53 224.6V223.57H138.55V223.87M144.15 227.2V226.9H144.89V227.2M146.53 227.2V226.47H147.45V227.2M145.53 227.2V226H146.99V226.47M144.52 226.9V225.55H146.26V226M148.16 227.2V226.86H148.9V227.2M148.53 226.86V226.06H149.44V227.2M145.39 225.55V224.74H148.98V226.06M150.18 227.2V226.7H151.22V227.2M152.15 227.2V226.71H153.09V227.2M154.09 227.2V226.76H154.87V227.2M152.62 226.71V225.85H154.48V226.76M150.7 226.7V224.91H153.55V225.85M155.7 227.2V226.57H156.48V227.2M158.36 227.2V226.81H159.33V227.2M158.84 226.81V226.38H160.14V227.2M157.29 227.2V225.37H159.49V226.38M156.09 226.57V224.39H158.39V225.37M160.75 227.2V226.48H161.56V227.2M157.24 224.39V224.05H161.16V226.48M152.12 224.91V223.75H159.2V224.05M147.19 224.74V223.45H157.43V223.75M134.04 223.57V223.15H154.87V223.45M120.52 223.57V222.85H149.66V223.15M108.43 223.87V222.55H142.38V222.85M99.12 225V222.25H133.89V222.55M90.3 223.81V221.95H125.19V222.25M81.43 224.37V221.65H116.47V221.95M75.42 223.87V221.35H107.71V221.65M65.28 223.48V221.05H99.64V221.35M49.09 223.57V220.75H91.05V221.05M38.26 223.87V216.14H80.56V220.75M24.45 223.27V215.3H69.98V216.14"/><path stroke="#4a56b8" stroke-width="0.9" d="M15.2 226.85H162.1"/>
<rect x="179.2" y="223.54" width="31.2" height="3.66" fill="#d4d7ee" stroke="none"/><path d="M179.62 227.2V226.72H180.38V227.2M180 226.72V226.25H181.03V227.2M181.76 227.2V226.62H182.51V227.2M180.52 226.25V225.66H182.14V226.62M183.26 227.2V226.78H184.07V227.2M184.73 227.2V226.62H185.61V227.2M183.66 226.78V226.26H185.17V226.62M186.78 227.2V226.51H187.62V227.2M188.12 227.2V226.72H188.78V227.2M187.2 226.51V225.62H188.45V226.72M189.53 227.2V226.44H190.32V227.2M191.08 227.2V226.48H192.01V227.2M193.77 227.2V226.66H194.46V227.2M194.12 226.66V226.01H195.13V227.2M192.98 227.2V225.14H194.62V226.01M196.83 227.2V226.88H197.71V227.2M195.98 227.2V226.36H197.27V226.88M196.62 226.36V225.96H198.46V227.2M199.98 227.2V226.63H200.68V227.2M203.67 227.2V226.79H204.4V227.2M202.98 227.2V226.46H204.04V226.79M202.42 227.2V225.79H203.51V226.46M201.61 227.2V225H202.96V225.79M206.32 227.2V226.65H207.12V227.2M206.72 226.65V225.91H208.08V227.2M209 227.2V226.49H209.87V227.2M207.4 225.91V225.41H209.44V226.49M205.26 227.2V225.05H208.93V225.41M202.29 225V224.7H208.01V225.05M200.33 226.63V224.4H206.58V224.7M199.28 227.2V224.1H205.02V224.4M197.54 225.96V223.8H203.58V224.1M193.8 225.14V223.5H202.07V223.8M191.55 226.48V223.2H200V223.5M189.92 226.44V222.9H197.89V223.2M187.83 225.62V222.44H195.9V222.9M184.41 226.26V215.73H193.88V222.44M181.33 225.66V215H191.51V215.73"/><path stroke="#4a56b8" stroke-width="0.9" d="M179.2 226.85H210.4"/>
<rect x="226.2" y="223.3" width="78.2" height="3.9" fill="#d4d7ee" stroke="none"/><path d="M227.68 227.2V226.7H228.37V227.2M226.79 227.2V225.88H228.03V226.7M229.37 227.2V226.62H230.12V227.2M230.69 227.2V226.78H231.48V227.2M231.09 226.78V225.97H232.23V227.2M231.66 225.97V225.03H232.92V227.2M229.74 226.62V224.25H232.29V225.03M233.45 227.2V226.53H234.19V227.2M231.02 224.25V223.56H233.82V226.53M227.41 225.88V223.26H232.42V223.56M235.14 227.2V226.63H236.09V227.2M235.62 226.63V226.01H237.16V227.2M236.39 226.01V225.17H238.1V227.2M237.24 225.17V224.36H239.01V227.2M240.13 227.2V226.54H240.91V227.2M240.52 226.54V225.66H241.71V227.2M242.56 227.2V226.7H243.4V227.2M242.98 226.7V226.23H244.52V227.2M241.11 225.66V225.14H243.75V226.23M245.93 227.2V226.67H246.8V227.2M245.37 227.2V225.92H246.37V226.67M242.43 225.14V223.94H245.87V225.92M250.29 227.2V226.75H251.09V227.2M249.46 227.2V226.07H250.69V226.75M248.73 227.2V225.48H250.08V226.07M247.84 227.2V224.75H249.4V225.48M251.48 227.2V226.63H252.15V227.2M251.82 226.63V226.13H253.12V227.2M252.47 226.13V225.19H254.04V227.2M248.62 224.75V224.19H253.25V225.19M254.84 227.2V226.42H255.83V227.2M250.94 224.19V223.56H255.34V226.42M258.05 227.2V226.82H258.92V227.2M258.48 226.82V226.04H259.64V227.2M259.06 226.04V225.5H260.48V227.2M257.05 227.2V225.01H259.77V225.5M261.67 227.2V226.79H262.54V227.2M263.12 227.2V226.57H263.94V227.2M265.79 227.2V226.53H266.46V227.2M266.13 226.53V225.96H267.4V227.2M264.98 227.2V225.19H266.76V225.96M265.87 225.19V224.25H268.34V227.2M263.53 226.57V223.56H267.11V224.25M262.1 226.79V223.26H265.32V223.56M271.39 227.2V226.63H272.2V227.2M271.8 226.63V226.3H272.98V227.2M270.31 227.2V225.47H272.39V226.3M269.26 227.2V224.49H271.35V225.47M273.97 227.2V226.74H274.78V227.2M274.37 226.74V226.23H275.54V227.2M274.96 226.23V225.8H276.48V227.2M278.69 227.2V226.79H279.53V227.2M277.55 227.2V226.33H279.11V226.79M280.57 227.2V226.55H281.31V227.2M280.04 227.2V225.82H280.94V226.55M278.33 226.33V224.79H280.49V225.82M282.29 227.2V226.63H283.14V227.2M284.03 227.2V226.74H284.96V227.2M284.5 226.74V225.97H285.61V227.2M286.3 227.2V226.68H287.11V227.2M287.99 227.2V226.89H288.93V227.2M286.7 226.68V225.81H288.46V226.89M285.06 225.97V225.24H287.58V225.81M282.72 226.63V224.48H286.32V225.24M291.08 227.2V226.86H292.26V227.2M289.93 227.2V226.54H291.67V226.86M293.3 227.2V226.56H294.13V227.2M293.72 226.56V226.21H294.76V227.2M295.53 227.2V226.7H296.25V227.2M295.89 226.7V226.36H296.89V227.2M298.9 227.2V226.51H299.62V227.2M297.82 227.2V225.85H299.26V226.51M296.39 226.36V225.27H298.54V225.85M294.24 226.21V224.39H297.47V225.27M301.45 227.2V226.66H302.11V227.2M300.38 227.2V226.31H301.78V226.66M302.72 227.2V226.86H303.39V227.2M303.05 226.86V226.28H304.02V227.2M301.08 226.31V225.21H303.54V226.28M295.85 224.39V224.09H302.31V225.21M290.8 226.54V223.79H300.69V224.09M284.52 224.48V223.49H298.22V223.79M279.41 224.79V223.19H294.8V223.49M275.72 225.8V222.89H290.95V223.19M270.31 224.49V222.59H287.14V222.89M263.71 223.26V222.29H282.93V222.59M258.41 225.01V221.99H278.13V222.29M253.14 223.56V221.69H273.2V221.99M244.15 223.94V221.39H268.18V221.69M238.13 224.36V215.3H262.17V221.39M229.91 223.26V214.2H256.16V215.3"/><path stroke="#4a56b8" stroke-width="0.9" d="M226.2 226.85H304.4"/>
<rect x="9.2" y="362.98" width="46.4" height="1.92" fill="#d4d7ee" stroke="none"/><path d="M9.71 364.9V364.47H10.51V364.9M10.11 364.47V363.89H11.28V364.9M12.03 364.9V364.47H12.92V364.9M10.7 363.89V363.21H12.48V364.47M15.37 364.9V364.52H16.17V364.9M16.94 364.9V364.58H18.09V364.9M15.77 364.52V363.68H17.52V364.58M14.19 364.9V363.3H16.64V363.68M18.94 364.9V364.27H19.67V364.9M20.55 364.9V364.39H21.21V364.9M20.88 364.39V363.84H22.08V364.9M24.29 364.9V364.49H25.01V364.9M23.77 364.9V364.02H24.65V364.49M23.07 364.9V363.17H24.21V364.02M21.48 363.84V362.87H23.64V363.17M25.75 364.9V364.54H26.42V364.9M27.46 364.9V364.12H28.4V364.9M27.93 364.12V363.51H28.99V364.9M28.46 363.51V363.11H29.8V364.9M26.08 364.54V362.81H29.13V363.11M30.81 364.9V364.49H31.62V364.9M33.43 364.9V364.22H34.12V364.9M32.48 364.9V363.54H33.78V364.22M35.52 364.9V364.25H36.34V364.9M34.73 364.9V363.65H35.93V364.25M33.13 363.54V363.19H35.33V363.65M38.51 364.9V364.35H39.44V364.9M40.32 364.9V364.34H41.16V364.9M38.98 364.35V363.47H40.74V364.34M37.32 364.9V363.11H39.86V363.47M41.96 364.9V364.55H42.72V364.9M42.34 364.55V364.13H43.31V364.9M44.04 364.9V364.57H44.73V364.9M44.38 364.57V363.88H45.35V364.9M46.16 364.9V364.48H46.81V364.9M47.85 364.9V364.39H48.62V364.9M47.27 364.9V363.86H48.24V364.39M46.48 364.48V363.2H47.75V363.86M44.87 363.88V362.9H47.12V363.2M51.13 364.9V364.39H51.85V364.9M50.36 364.9V363.94H51.49V364.39M49.62 364.9V363.54H50.92V363.94M52.65 364.9V364.29H53.46V364.9M52.2 364.9V363.71H53.05V364.29M54.52 364.9V364.21H55.3V364.9M52.63 363.71V363.19H54.91V364.21M50.27 363.54V362.89H53.77V363.19M45.99 362.9V362.59H52.89V362.89M42.82 364.13V362.29H51.17V362.59M38.59 363.11V361.99H49.08V362.29M34.23 363.19V361.69H46.46V361.99M31.21 364.49V361.39H43.4V361.69M27.61 362.81V361.09H40.35V361.39M22.56 362.87V360.79H37.17V361.09M19.31 364.27V360.49H33.52V360.79M15.42 363.3V359.02H29.96V360.49M11.59 363.21V358.5H26.33V359.02"/><path stroke="#4a56b8" stroke-width="0.9" d="M9.2 364.55H55.6"/>
<rect x="72.2" y="362.98" width="67.9" height="1.92" fill="#d4d7ee" stroke="none"/><path d="M72.45 364.9V364.52H73.11V364.9M74.12 364.9V364.09H75.24V364.9M72.78 364.52V363.29H74.68V364.09M76.08 364.9V364.56H76.87V364.9M78.72 364.9V364.48H79.42V364.9M80.16 364.9V364.42H80.87V364.9M79.07 364.48V363.59H80.51V364.42M77.92 364.9V363.11H79.79V363.59M76.48 364.56V362.81H78.86V363.11M81.58 364.9V364.27H82.24V364.9M83.14 364.9V364.19H83.92V364.9M83.53 364.19V363.5H84.52V364.9M81.91 364.27V363.11H84.03V363.5M85.25 364.9V364.32H86.01V364.9M86.86 364.9V364.17H87.6V364.9M87.23 364.17V363.52H88.09V364.9M87.66 363.52V363.11H88.83V364.9M85.63 364.32V362.81H88.24V363.11M82.97 363.11V362.51H86.94V362.81M89.62 364.9V364.43H90.37V364.9M91.24 364.9V364.35H91.97V364.9M90 364.43V363.73H91.61V364.35M90.8 363.73V363.14H92.86V364.9M94.05 364.9V364.25H95.02V364.9M91.83 363.14V362.84H94.53V364.25M96.61 364.9V364.37H97.29V364.9M98.02 364.9V364.48H98.87V364.9M96.95 364.37V363.82H98.44V364.48M95.77 364.9V363.11H97.7V363.82M96.73 363.11V362.81H99.8V364.9M100.93 364.9V364.17H101.74V364.9M101.34 364.17V363.39H102.23V364.9M101.78 363.39V363.09H102.85V364.9M102.32 363.09V362.79H103.74V364.9M105.93 364.9V364.24H106.73V364.9M104.92 364.9V363.33H106.33V364.24M107.95 364.9V364.57H108.8V364.9M107.44 364.9V364.19H108.37V364.57M110.4 364.9V364.44H111.47V364.9M109.67 364.9V363.57H110.94V364.44M107.91 364.19V363.14H110.3V363.57M113.23 364.9V364.37H113.9V364.9M113.57 364.37V363.91H114.45V364.9M114.01 363.91V363.38H114.98V364.9M112.48 364.9V363.08H114.5V363.38M109.1 363.14V362.78H113.49V363.08M116.64 364.9V364.57H117.6V364.9M115.69 364.9V363.84H117.12V364.57M116.4 363.84V363.49H118.53V364.9M119.47 364.9V364.53H120.2V364.9M117.47 363.49V363.11H119.84V364.53M121.05 364.9V364.41H121.77V364.9M118.65 363.11V362.81H121.41V364.41M123.27 364.9V364.19H124.1V364.9M122.31 364.9V363.74H123.68V364.19M123 363.74V363.11H124.92V364.9M126.38 364.9V364.54H127.24V364.9M125.74 364.9V363.79H126.81V364.54M128.74 364.9V364.57H129.45V364.9M128.06 364.9V364.08H129.1V364.57M130.22 364.9V364.25H130.89V364.9M128.58 364.08V363.11H130.56V364.25M126.28 363.79V362.81H129.57V363.11M131.77 364.9V364.16H132.85V364.9M132.31 364.16V363.64H133.74V364.9M135.31 364.9V364.49H136.16V364.9M134.55 364.9V363.97H135.74V364.49M135.14 363.97V363.25H137.1V364.9M133.03 363.64V362.95H136.12V363.25M138.66 364.9V364.49H139.65V364.9M137.83 364.9V363.71H139.16V364.49M134.57 362.95V362.65H138.5V363.71M127.92 362.81V362.35H137.52V362.65M123.96 363.11V362.05H135.12V362.35M120.03 362.81V361.75H132.33V362.05M111.3 362.78V361.45H129.25V361.75M105.63 363.33V361.15H124.76V361.45M103.03 362.79V360.85H119.98V361.15M98.27 362.81V360.55H115.74V360.85M93.18 362.84V360.25H111.37V360.55M84.95 362.51V359.95H106.83V360.25M77.67 362.81V358.96H101.36V359.95M73.73 363.29V358.5H95.43V358.96"/><path stroke="#4a56b8" stroke-width="0.9" d="M72.2 364.55H140.1"/>
<rect x="157" y="362.98" width="202" height="1.92" fill="#d4d7ee" stroke="none"/><path d="M158.57 364.9V364.29H159.32V364.9M157.57 364.9V363.6H158.95V364.29M158.26 363.6V363.27H159.98V364.9M160.84 364.9V364.41H161.96V364.9M161.4 364.41V363.63H163.06V364.9M164.13 364.9V364.51H164.87V364.9M164.5 364.51V363.83H165.24V364.9M162.23 363.63V363.11H164.87V363.83M159.12 363.27V362.81H163.55V363.11M167.13 364.9V364.5H167.84V364.9M168.41 364.9V364.29H169.3V364.9M167.49 364.5V363.76H168.86V364.29M166.01 364.9V363.11H168.17V363.76M170.02 364.9V364.32H170.82V364.9M167.09 363.11V362.81H170.42V364.32M172.37 364.9V364.23H173.18V364.9M171.6 364.9V363.48H172.78V364.23M168.76 362.81V362.51H172.19V363.48M175.26 364.9V364.14H176.24V364.9M175.75 364.14V363.75H177.21V364.9M174.07 364.9V363.26H176.48V363.75M178.93 364.9V364.29H179.61V364.9M179.27 364.29V363.74H180.56V364.9M179.91 363.74V363.18H181.4V364.9M178.25 364.9V362.88H180.66V363.18M175.28 363.26V362.58H179.46V362.88M170.47 362.51V362.21H177.37V362.58M182.14 364.9V364.41H183V364.9M185.32 364.9V364.18H186V364.9M184.66 364.9V363.58H185.66V364.18M183.92 364.9V363.11H185.16V363.58M182.57 364.41V362.81H184.54V363.11M173.92 362.21V361.91H183.56V362.81M186.52 364.9V364.57H187.27V364.9M186.89 364.57V364.15H188.09V364.9M187.49 364.15V363.2H188.97V364.9M190.88 364.9V364.34H191.88V364.9M189.92 364.9V363.97H191.38V364.34M193.35 364.9V364.1H194.36V364.9M192.61 364.9V363.54H193.86V364.1M190.65 363.97V363.11H193.23V363.54M188.23 363.2V362.81H191.94V363.11M195.33 364.9V364.53H196.02V364.9M197.08 364.9V364.4H197.76V364.9M196.5 364.9V363.78H197.42V364.4M196.96 363.78V363.11H198.7V364.9M197.83 363.11V362.81H199.79V364.9M195.67 364.53V362.51H198.81V362.81M201.68 364.9V364.56H202.49V364.9M202.09 364.56V364.03H203.52V364.9M202.8 364.03V363.29H204.49V364.9M200.84 364.9V362.99H203.65V363.29M206.27 364.9V364.53H206.96V364.9M206.61 364.53V363.93H207.84V364.9M205.44 364.9V363.21H207.22V363.93M202.24 362.99V362.69H206.33V363.21M197.24 362.51V362.21H204.29V362.69M190.09 362.81V361.91H200.76V362.21M209.69 364.9V364.31H210.42V364.9M208.93 364.9V363.84H210.05V364.31M209.49 363.84V363.11H211.39V364.9M212.58 364.9V364.24H213.33V364.9M212.07 364.9V363.92H212.96V364.24M212.51 363.92V363.47H214.31V364.9M210.44 363.11V362.81H213.41V363.47M215.36 364.9V364.14H216.21V364.9M211.93 362.81V362.51H215.79V364.14M218.15 364.9V364.51H218.82V364.9M218.49 364.51V364.06H219.2V364.9M218.84 364.06V363.22H219.76V364.9M217.11 364.9V362.92H219.3V363.22M220.44 364.9V364.49H221.09V364.9M218.21 362.92V362.62H220.76V364.49M213.86 362.51V362.21H219.48V362.62M221.69 364.9V364.12H222.58V364.9M225 364.9V364.23H225.67V364.9M225.33 364.23V363.69H226.28V364.9M224.29 364.9V363.17H225.81V363.69M223.55 364.9V362.87H225.05V363.17M224.3 362.87V362.57H227.08V364.9M222.13 364.12V362.27H225.69V362.57M228.73 364.9V364.37H229.42V364.9M229.07 364.37V363.83H230.12V364.9M229.6 363.83V363.39H230.61V364.9M228.09 364.9V363.09H230.11V363.39M231.51 364.9V364.19H232.33V364.9M229.1 363.09V362.79H231.92V364.19M223.91 362.27V361.97H230.51V362.79M233.06 364.9V364.4H233.85V364.9M234.51 364.9V364.33H235.42V364.9M234.96 364.33V363.77H236.27V364.9M233.46 364.4V363.36H235.61V363.77M236.98 364.9V364.26H237.79V364.9M234.53 363.36V363.06H237.38V364.26M239.12 364.9V364.4H239.87V364.9M238.47 364.9V364.09H239.5V364.4M238.98 364.09V363.19H240.73V364.9M239.86 363.19V362.89H241.69V364.9M235.96 363.06V362.59H240.77V362.89M242.78 364.9V364.32H243.64V364.9M243.21 364.32V363.72H244.3V364.9M245.21 364.9V364.49H246.09V364.9M243.76 363.72V363.4H245.65V364.49M246.65 364.9V364.45H247.3V364.9M246.98 364.45V364.03H248.17V364.9M247.57 364.03V363.65H249.12V364.9M244.7 363.4V363.1H248.35V363.65M250.24 364.9V364.21H251.09V364.9M252.84 364.9V364.47H253.69V364.9M251.89 364.9V364.02H253.26V364.47M250.67 364.21V363.51H252.58V364.02M254.89 364.9V364.2H255.62V364.9M254.4 364.9V363.64H255.25V364.2M258.01 364.9V364.09H259.11V364.9M256.82 364.9V363.73H258.56V364.09M254.83 363.64V363.11H257.69V363.73M251.62 363.51V362.81H256.26V363.11M259.95 364.9V364.16H260.76V364.9M260.36 364.16V363.82H261.5V364.9M262.38 364.9V364.51H263.44V364.9M264.16 364.9V364.32H264.81V364.9M264.48 364.32V363.87H265.35V364.9M265.96 364.9V364.32H266.97V364.9M264.92 363.87V363.37H266.46V364.32M268.06 364.9V364.44H268.98V364.9M265.69 363.37V363.07H268.52V364.44M262.91 364.51V362.77H267.11V363.07M260.93 363.82V362.47H265.01V362.77M271.07 364.9V364.25H271.75V364.9M270.02 364.9V363.44H271.41V364.25M270.72 363.44V363.11H272.38V364.9M271.55 363.11V362.81H273.17V364.9M274.95 364.9V364.53H275.69V364.9M274.17 364.9V363.8H275.32V364.53M276.54 364.9V364.46H277.45V364.9M274.75 363.8V363.18H277V364.46M272.36 362.81V362.51H275.87V363.18M279.2 364.9V364.56H279.98V364.9M278.39 364.9V363.79H279.59V364.56M281.72 364.9V364.51H282.43V364.9M282.08 364.51V363.65H283.19V364.9M280.75 364.9V363.11H282.63V363.65M281.69 363.11V362.81H284.24V364.9M278.99 363.79V362.51H282.97V362.81M286.07 364.9V364.35H286.8V364.9M285.19 364.9V363.59H286.43V364.35M288.14 364.9V364.24H288.79V364.9M287.54 364.9V363.77H288.46V364.24M289.9 364.9V364.57H290.74V364.9M288 363.77V363.3H290.32V364.57M285.81 363.59V363H289.16V363.3M280.98 362.51V362.21H287.49V363M274.11 362.51V361.91H284.23V362.21M291.26 364.9V364.39H292.08V364.9M291.67 364.39V363.61H293.09V364.9M294.02 364.9V364.59H294.79V364.9M292.38 363.61V363.17H294.4V364.59M295.46 364.9V364.53H296.37V364.9M293.39 363.17V362.87H295.91V364.53M298.29 364.9V364.11H299.23V364.9M298.76 364.11V363.32H300.16V364.9M297.43 364.9V363.02H299.46V363.32M294.65 362.87V362.57H298.45V363.02M301.07 364.9V364.34H301.98V364.9M301.53 364.34V363.61H302.86V364.9M304.06 364.9V364.5H305.24V364.9M306.36 364.9V364.25H307.19V364.9M304.65 364.5V363.89H306.78V364.25M302.19 363.61V363.11H305.71V363.89M308.72 364.9V364.44H309.59V364.9M307.87 364.9V363.99H309.16V364.44M303.95 363.11V362.81H308.51V363.99M310.4 364.9V364.17H311.11V364.9M311.95 364.9V364.24H312.81V364.9M312.38 364.24V363.82H313.45V364.9M315.08 364.9V364.48H316.12V364.9M314.08 364.9V363.8H315.6V364.48M312.91 363.82V363.49H314.84V363.8M310.75 364.17V363.11H313.88V363.49M317.08 364.9V364.57H317.8V364.9M317.44 364.57V363.89H318.25V364.9M317.85 363.89V363.46H318.98V364.9M318.41 363.46V363.11H319.86V364.9M320.76 364.9V364.49H321.57V364.9M322.25 364.9V364.43H323.16V364.9M321.16 364.49V363.91H322.71V364.43M321.93 363.91V363.11H324.33V364.9M319.14 363.11V362.81H323.13V363.11M312.32 363.11V362.51H321.13V362.81M325.47 364.9V364.42H326.28V364.9M327.63 364.9V364.15H328.47V364.9M326.97 364.9V363.57H328.05V364.15M330.03 364.9V364.21H330.74V364.9M330.39 364.21V363.56H331.34V364.9M329.32 364.9V363.11H330.87V363.56M330.09 363.11V362.81H332.3V364.9M327.51 363.57V362.51H331.2V362.81M325.87 364.42V362.21H329.35V362.51M316.73 362.51V361.91H327.61V362.21M334.94 364.9V364.38H335.94V364.9M334.2 364.9V363.64H335.44V364.38M333.43 364.9V363.11H334.82V363.64M336.96 364.9V364.44H337.88V364.9M334.13 363.11V362.81H337.42V364.44M338.66 364.9V364.36H339.52V364.9M335.77 362.81V362.51H339.09V364.36M340.49 364.9V364.41H341.21V364.9M340.85 364.41V363.75H342V364.9M341.42 363.75V363.21H343.16V364.9M337.43 362.51V362.21H342.29V363.21M344.11 364.9V364.3H344.83V364.9M344.47 364.3V363.88H345.86V364.9M347.63 364.9V364.43H348.39V364.9M348.01 364.43V363.82H349.21V364.9M346.95 364.9V363.11H348.61V363.82M349.7 364.9V364.53H350.56V364.9M350.13 364.53V363.94H351.5V364.9M347.78 363.11V362.81H350.81V363.94M345.17 363.88V362.51H349.3V362.81M352.39 364.9V364.27H353.15V364.9M353.83 364.9V364.27H354.53V364.9M352.77 364.27V363.44H354.18V364.27M353.47 363.44V363.11H355.2V364.9M347.23 362.51V362.21H354.34V363.11M339.86 362.21V361.91H350.78V362.21M356.67 364.9V364.15H357.5V364.9M355.89 364.9V363.45H357.09V364.15M356.49 363.45V363.11H358.05V364.9M357.27 363.11V362.81H358.66V364.9M345.32 361.91V361.61H357.96V362.81M322.17 361.91V361.31H354.8V361.61M306.23 362.81V361.01H346.65V361.31M296.55 362.57V360.71H336.54V361.01M279.17 361.91V360.41H326.54V360.71M262.97 362.47V360.11H314.7V360.41M253.94 362.81V359.81H301.77V360.11M246.52 363.1V359.51H289.81V359.81M238.37 362.59V359.21H278.99V359.51M227.21 361.97V358.91H268.83V359.21M216.67 362.21V358.61H258.43V358.91M195.43 361.91V358.31H247.99V358.61M178.74 361.91V358.01H234.85V358.31M161.33 362.81V357.71H220.82V358.01"/><path stroke="#4a56b8" stroke-width="0.9" d="M157 364.55H359"/>
<rect x="11.9" y="514.6" width="231.3" height="2.7" fill="#d4d7ee" stroke="none"/><path d="M13.52 517.3V516.69H14.19V517.3M12.79 517.3V516.08H13.86V516.69M12.2 517.3V515.7H13.32V516.08M15.02 517.3V516.6H15.79V517.3M15.4 516.6V515.92H16.39V517.3M12.76 515.7V515.03H15.89V515.92M17.57 517.3V516.58H18.27V517.3M17.12 517.3V516.07H17.92V516.58M20.19 517.3V516.58H20.87V517.3M19.34 517.3V515.76H20.53V516.58M17.52 516.07V514.93H19.93V515.76M14.33 515.03V514.63H18.73V514.93M21.74 517.3V516.61H22.63V517.3M23.49 517.3V516.98H24.32V517.3M22.18 516.61V515.99H23.91V516.98M16.53 514.63V514.33H23.05V515.99M25.21 517.3V516.57H26.36V517.3M27.32 517.3V516.8H28.23V517.3M27.77 516.8V516.13H29.24V517.3M25.79 516.57V515.42H28.5V516.13M30.25 517.3V516.81H31V517.3M30.63 516.81V516.18H31.71V517.3M27.14 515.42V514.92H31.17V516.18M32.72 517.3V516.71H33.55V517.3M33.14 516.71V516.22H34.24V517.3M29.16 514.92V514.62H33.69V516.22M35.92 517.3V516.74H36.65V517.3M35.02 517.3V515.97H36.28V516.74M39.13 517.3V516.81H39.86V517.3M38.37 517.3V516.07H39.5V516.81M37.48 517.3V515.48H38.93V516.07M38.21 515.48V515H40.64V517.3M35.65 515.97V514.7H39.43V515M31.42 514.62V514.32H37.54V514.7M44.19 517.3V516.75H45.16V517.3M43.29 517.3V516.03H44.68V516.75M42.61 517.3V515.67H43.98V516.03M41.68 517.3V515.24H43.3V515.67M46.09 517.3V516.71H46.91V517.3M42.49 515.24V514.8H46.5V516.71M47.37 517.3V516.61H48.26V517.3M44.5 514.8V514.5H47.82V516.61M51.33 517.3V516.68H52.32V517.3M50.54 517.3V515.89H51.83V516.68M51.18 515.89V514.99H53.24V517.3M49.54 517.3V514.69H52.21V514.99M46.16 514.5V514.2H50.87V514.69M53.81 517.3V516.68H54.64V517.3M56.89 517.3V516.67H57.57V517.3M58.27 517.3V516.67H59.1V517.3M57.23 516.67V515.95H58.68V516.67M55.87 517.3V515.48H57.95V515.95M54.22 516.68V514.98H56.91V515.48M48.52 514.2V513.9H55.57V514.98M60.4 517.3V516.67H61.31V517.3M59.77 517.3V516.23H60.86V516.67M60.31 516.23V515.28H62.28V517.3M63.22 517.3V516.94H63.96V517.3M63.59 516.94V516.43H64.66V517.3M64.12 516.43V515.97H65.6V517.3M67.32 517.3V516.94H68.03V517.3M66.59 517.3V516.35H67.67V516.94M64.86 515.97V514.82H67.13V516.35M61.3 515.28V514.52H66V514.82M69.17 517.3V516.71H70.31V517.3M71.55 517.3V516.64H72.22V517.3M71.09 517.3V516.1H71.88V516.64M69.74 516.71V515.2H71.49V516.1M74.01 517.3V516.99H74.67V517.3M75.36 517.3V516.85H76.02V517.3M74.34 516.99V516.24H75.69V516.85M73.12 517.3V515.52H75.01V516.24M70.61 515.2V514.78H74.06V515.52M77.78 517.3V516.86H78.57V517.3M76.67 517.3V516.56H78.17V516.86M72.34 514.78V514.48H77.42V516.56M79.15 517.3V516.7H80.12V517.3M81.07 517.3V516.64H82.02V517.3M83.07 517.3V516.95H83.98V517.3M81.55 516.64V515.84H83.52V516.95M79.63 516.7V514.93H82.53V515.84M84.89 517.3V516.68H85.66V517.3M81.08 514.93V514.63H85.27V516.68M74.88 514.48V514.18H83.18V514.63M86.89 517.3V516.82H87.64V517.3M86.15 517.3V516.09H87.27V516.82M86.71 516.09V515.19H88.44V517.3M87.57 515.19V514.84H89.63V517.3M88.6 514.84V514.54H90.79V517.3M91.58 517.3V516.93H92.27V517.3M89.69 514.54V514.24H91.93V516.93M92.88 517.3V516.75H93.63V517.3M93.25 516.75V516.03H94.86V517.3M95.95 517.3V516.64H96.68V517.3M94.06 516.03V515.52H96.32V516.64M97.25 517.3V516.6H97.9V517.3M97.58 516.6V516.13H98.6V517.3M99.35 517.3V516.81H100.13V517.3M98.09 516.13V515.2H99.74V516.81M95.19 515.52V514.78H98.92V515.2M101.05 517.3V516.63H102.03V517.3M101.54 516.63V516.12H103.08V517.3M104.44 517.3V516.59H105.11V517.3M103.91 517.3V516.25H104.78V516.59M102.31 516.12V515.35H104.35V516.25M97.05 514.78V514.48H103.33V515.35M90.81 514.24V513.94H100.19V514.48M106.94 517.3V516.72H107.83V517.3M105.96 517.3V516.13H107.39V516.72M108.8 517.3V516.61H109.7V517.3M106.67 516.13V515.21H109.25V516.61M110.61 517.3V516.56H111.37V517.3M110.99 516.56V515.81H112.17V517.3M107.96 515.21V514.78H111.58V515.81M95.5 513.94V513.64H109.77V514.78M113.73 517.3V516.76H114.49V517.3M113.04 517.3V516.11H114.11V516.76M116.13 517.3V516.69H117.03V517.3M115.22 517.3V516.38H116.58V516.69M113.57 516.11V515.74H115.9V516.38M117.75 517.3V516.71H118.47V517.3M114.74 515.74V514.78H118.11V516.71M119.1 517.3V516.55H119.9V517.3M116.42 514.78V514.48H119.5V516.55M122.02 517.3V516.55H123.01V517.3M120.95 517.3V516.12H122.51V516.55M121.73 516.12V515.55H123.81V517.3M117.96 514.48V514.18H122.77V515.55M125.44 517.3V516.9H126.33V517.3M125.88 516.9V516.13H127.11V517.3M124.62 517.3V515.53H126.49V516.13M127.94 517.3V516.62H128.71V517.3M125.56 515.53V515.2H128.33V516.62M130.3 517.3V516.94H131.1V517.3M129.39 517.3V516.55H130.7V516.94M126.94 515.2V514.78H130.05V516.55M120.37 514.18V513.88H128.49V514.78M131.96 517.3V516.82H132.75V517.3M133.45 517.3V516.53H134.27V517.3M135.29 517.3V516.78H136.39V517.3M133.86 516.53V515.92H135.84V516.78M132.36 516.82V514.84H134.85V515.92M137.34 517.3V516.94H138.07V517.3M139.75 517.3V516.9H140.49V517.3M138.91 517.3V516.52H140.12V516.9M137.71 516.94V516.07H139.51V516.52M141.9 517.3V516.98H142.81V517.3M141.25 517.3V516.65H142.36V516.98M141.8 516.65V516.12H143.87V517.3M138.61 516.07V515.43H142.84V516.12M144.99 517.3V516.55H145.73V517.3M146.42 517.3V516.76H147.42V517.3M145.36 516.55V515.66H146.92V516.76M146.14 515.66V514.78H148.55V517.3M140.72 515.43V514.48H147.35V514.78M133.6 514.84V514.18H144.04V514.48M150.42 517.3V516.82H151.19V517.3M149.69 517.3V516H150.8V516.82M153.05 517.3V516.6H153.74V517.3M152.26 517.3V516.26H153.39V516.6M150.25 516V515.47H152.83V516.26M154.39 517.3V516.61H155.05V517.3M157.02 517.3V516.88H157.93V517.3M156.05 517.3V516.29H157.47V516.88M154.72 516.61V515.95H156.76V516.29M151.54 515.47V514.78H155.74V515.95M160.2 517.3V516.86H161.11V517.3M159.53 517.3V516.14H160.65V516.86M158.87 517.3V515.69H160.09V516.14M162.03 517.3V516.77H163.08V517.3M164.22 517.3V516.59H164.96V517.3M164.59 516.59V515.97H165.69V517.3M162.56 516.77V514.89H165.14V515.97M159.48 515.69V514.59H163.85V514.89M166.66 517.3V516.57H167.48V517.3M167.07 516.57V515.93H168.3V517.3M161.66 514.59V514.29H167.69V515.93M170.25 517.3V516.53H171.24V517.3M169.2 517.3V515.84H170.75V516.53M169.97 515.84V515.14H172.08V517.3M164.67 514.29V513.99H171.03V515.14M153.64 514.78V513.69H167.85V513.99M173.74 517.3V516.61H174.57V517.3M174.16 516.61V516.09H175.55V517.3M172.93 517.3V515.61H174.85V516.09M177.2 517.3V516.83H177.89V517.3M176.48 517.3V516.03H177.54V516.83M173.89 515.61V515.11H177.01V516.03M179.98 517.3V516.88H180.67V517.3M179.26 517.3V516.51H180.32V516.88M178.6 517.3V515.87H179.79V516.51M181.15 517.3V516.65H181.84V517.3M182.66 517.3V516.73H183.52V517.3M181.49 516.65V515.75H183.09V516.73M179.19 515.87V514.93H182.29V515.75M184.87 517.3V516.68H185.55V517.3M184.29 517.3V516.34H185.21V516.68M186.53 517.3V516.76H187.41V517.3M186.97 516.76V516.44H187.98V517.3M187.48 516.44V516.09H188.58V517.3M184.75 516.34V514.98H188.03V516.09M180.74 514.93V514.63H186.39V514.98M175.45 515.11V514.33H183.57V514.63M189.15 517.3V516.58H189.89V517.3M190.93 517.3V516.96H191.73V517.3M189.52 516.58V515.64H191.33V516.96M192.31 517.3V516.81H193.3V517.3M190.43 515.64V514.85H192.8V516.81M194.37 517.3V516.74H195.42V517.3M194.9 516.74V516.37H196.48V517.3M191.62 514.85V514.55H195.69V516.37M197.13 517.3V516.55H197.92V517.3M198.81 517.3V516.96H199.59V517.3M197.53 516.55V516.19H199.2V516.96M200.63 517.3V516.88H201.38V517.3M198.37 516.19V515.29H201.01V516.88M193.65 514.55V514.25H199.69V515.29M202.04 517.3V516.79H202.99V517.3M203.99 517.3V516.96H204.71V517.3M204.35 516.96V516.13H205.33V517.3M204.84 516.13V515.8H206.22V517.3M207.31 517.3V516.67H208.11V517.3M205.53 515.8V515H207.71V516.67M202.51 516.79V514.7H206.62V515M209.64 517.3V516.56H210.77V517.3M208.66 517.3V515.97H210.2V516.56M212.32 517.3V516.67H213.27V517.3M211.65 517.3V516.29H212.79V516.67M212.22 516.29V515.85H214.27V517.3M215.27 517.3V516.88H216.2V517.3M215.74 516.88V516.32H217.15V517.3M216.44 516.32V515.88H218.21V517.3M219.03 517.3V516.77H219.8V517.3M219.41 516.77V516.44H220.46V517.3M217.33 515.88V514.78H219.94V516.44M213.25 515.85V514.48H218.63V514.78M209.43 515.97V514.18H215.94V514.48M204.57 514.7V513.88H212.68V514.18M221.01 517.3V516.98H221.82V517.3M223.3 517.3V516.69H224.11V517.3M222.7 517.3V515.99H223.7V516.69M225.01 517.3V516.73H225.66V517.3M223.2 515.99V515.6H225.34V516.73M221.41 516.98V515.27H224.27V515.6M208.63 513.88V513.58H222.84V515.27M226.28 517.3V516.67H227.18V517.3M228.34 517.3V516.67H229.47V517.3M231.28 517.3V516.96H231.95V517.3M230.49 517.3V516.11H231.62V516.96M232.77 517.3V516.87H233.61V517.3M231.05 516.11V515.75H233.19V516.87M228.9 516.67V515.23H232.12V515.75M226.73 516.67V514.78H230.51V515.23M235.12 517.3V516.64H236V517.3M234.29 517.3V516.24H235.56V516.64M228.62 514.78V514.48H234.93V516.24M236.97 517.3V516.94H237.78V517.3M237.37 516.94V516.2H238.44V517.3M237.9 516.2V515.34H239.36V517.3M241.01 517.3V516.52H242.02V517.3M241.52 516.52V515.97H242.88V517.3M240.19 517.3V515.35H242.2V515.97M238.63 515.34V514.78H241.19V515.35M231.77 514.48V514.18H239.91V514.78M215.73 513.58V513.28H237.88V514.18M196.67 514.25V512.98H232.34V513.28M179.51 514.33V512.68H223.42V512.98M160.74 513.69V512.38H212.45V512.68M138.82 514.18V512.08H199.52V512.38M124.43 513.88V511.78H184.34V512.08M102.64 513.64V511.48H169.37V511.78M79.03 514.18V511.18H152.68V511.48M63.65 514.52V510.88H134.27V511.18M52.04 513.9V510.58H116.61V510.88M34.48 514.32V508.85H100.47V510.58M19.79 514.33V508.3H83.97V508.85"/><path stroke="#4a56b8" stroke-width="0.9" d="M11.9 516.95H243.2"/>
<rect x="252.6" y="514.81" width="143" height="2.49" fill="#d4d7ee" stroke="none"/><path d="M253.22 517.3V516.64H254.33V517.3M256.15 517.3V516.76H257V517.3M255.31 517.3V515.86H256.58V516.76M253.77 516.64V514.98H255.94V515.86M258.03 517.3V516.57H258.75V517.3M259.51 517.3V516.91H260.31V517.3M258.39 516.57V516H259.91V516.91M260.79 517.3V516.8H261.55V517.3M259.15 516V515.03H261.17V516.8M254.86 514.98V514.68H260.16V515.03M263.89 517.3V516.59H264.57V517.3M263.14 517.3V515.84H264.23V516.59M262.46 517.3V515.54H263.68V515.84M264.99 517.3V516.79H265.74V517.3M267.56 517.3V516.78H268.46V517.3M266.69 517.3V516.1H268.01V516.78M265.37 516.79V515.42H267.35V516.1M263.07 515.54V514.98H266.36V515.42M257.51 514.68V514.38H264.72V514.98M270.02 517.3V516.57H270.73V517.3M269.38 517.3V515.99H270.37V516.57M269.87 515.99V515.58H271.71V517.3M273.41 517.3V516.94H274.24V517.3M272.46 517.3V516.57H273.82V516.94M273.14 516.57V516.17H274.8V517.3M273.97 516.17V515.24H275.59V517.3M270.79 515.58V514.94H274.78V515.24M276.6 517.3V516.62H277.69V517.3M272.79 514.94V514.64H277.15V516.62M280.45 517.3V516.96H281.33V517.3M279.52 517.3V516.64H280.89V516.96M278.63 517.3V516.2H280.21V516.64M282.52 517.3V516.94H283.41V517.3M281.99 517.3V516.45H282.97V516.94M286.84 517.3V516.8H287.54V517.3M286.05 517.3V516.2H287.19V516.8M285.21 517.3V515.44H286.62V516.2M284.45 517.3V514.98H285.92V515.44M289.09 517.3V516.53H289.92V517.3M288.34 517.3V515.92H289.51V516.53M285.18 514.98V514.68H288.92V515.92M290.84 517.3V516.68H291.52V517.3M291.18 516.68V516.23H292.12V517.3M291.65 516.23V515.81H292.75V517.3M287.05 514.68V514.38H292.2V515.81M282.48 516.45V514.08H289.63V514.38M279.42 516.2V513.78H286.05V514.08M293.82 517.3V516.94H294.51V517.3M293.37 517.3V516.26H294.16V516.94M296.56 517.3V516.77H297.39V517.3M296.97 516.77V516.12H298.46V517.3M299.56 517.3V516.72H300.35V517.3M297.72 516.12V515.71H299.96V516.72M295.69 517.3V515.36H298.84V515.71M293.77 516.26V514.98H297.26V515.36M300.73 517.3V516.66H301.46V517.3M301.09 516.66V515.88H302.29V517.3M301.69 515.88V515.44H303.05V517.3M306.37 517.3V516.91H307.05V517.3M305.36 517.3V516.32H306.71V516.91M304.15 517.3V515.57H306.03V516.32M307.63 517.3V516.84H308.41V517.3M308.02 516.84V516.06H309.11V517.3M308.57 516.06V515.24H309.69V517.3M309.13 515.24V514.94H310.51V517.3M305.09 515.57V514.64H309.82V514.94M302.37 515.44V514.34H307.46V514.64M312.21 517.3V516.88H312.96V517.3M311.38 517.3V516.23H312.58V516.88M313.53 517.3V516.53H314.41V517.3M315.33 517.3V517H316V517.3M313.97 516.53V516.02H315.67V517M316.96 517.3V516.49H318.23V517.3M314.82 516.02V515.19H317.59V516.49M311.98 516.23V514.89H316.21V515.19M320.49 517.3V516.75H321.3V517.3M322.15 517.3V516.59H323.05V517.3M320.89 516.75V515.68H322.6V516.59M319.37 517.3V514.99H321.75V515.68M323.71 517.3V516.96H324.44V517.3M325.86 517.3V516.79H326.61V517.3M325.16 517.3V516.11H326.23V516.79M327.63 517.3V516.93H328.47V517.3M328.05 516.93V516.3H329.07V517.3M328.56 516.3V515.75H329.77V517.3M325.7 516.11V515.08H329.16V515.75M324.08 516.96V514.78H327.43V515.08M320.56 514.99V514.48H325.75V514.78M331.19 517.3V516.82H331.95V517.3M330.38 517.3V516.34H331.57V516.82M330.97 516.34V515.72H332.63V517.3M331.8 515.72V515.18H333.63V517.3M332.72 515.18V514.88H334.78V517.3M335.85 517.3V516.96H336.79V517.3M337.95 517.3V516.84H338.72V517.3M337.51 517.3V516.07H338.33V516.84M336.32 516.96V515.75H337.92V516.07M340.75 517.3V516.78H341.48V517.3M341.12 516.78V516.01H342.25V517.3M339.92 517.3V515.21H341.68V516.01M337.12 515.75V514.91H340.8V515.21M343.76 517.3V516.85H344.53V517.3M343 517.3V515.98H344.14V516.85M338.96 514.91V514.61H343.57V515.98M346.59 517.3V516.76H347.42V517.3M345.66 517.3V516.38H347V516.76M346.33 516.38V515.4H348.43V517.3M349.96 517.3V516.9H350.72V517.3M351.54 517.3V516.65H352.28V517.3M351.91 516.65V516H353.09V517.3M350.34 516.9V515.67H352.5V516M349.34 517.3V514.98H351.42V515.67M347.38 515.4V514.68H350.38V514.98M354.83 517.3V516.83H355.56V517.3M353.95 517.3V516.12H355.19V516.83M354.57 516.12V515.4H356.35V517.3M356.95 517.3V516.94H357.67V517.3M355.46 515.4V514.98H357.31V516.94M359.32 517.3V516.71H360V517.3M360.75 517.3V516.59H361.44V517.3M359.66 516.71V516.25H361.09V516.59M358.66 517.3V515.51H360.38V516.25M363.76 517.3V516.84H364.45V517.3M364.1 516.84V516.5H365.03V517.3M363.01 517.3V515.85H364.57V516.5M362.23 517.3V514.98H363.79V515.85M365.78 517.3V516.52H366.71V517.3M363.01 514.98V514.68H366.25V516.52M368.9 517.3V516.65H369.6V517.3M369.25 516.65V515.93H370.37V517.3M371.87 517.3V516.67H372.59V517.3M371.26 517.3V516.09H372.23V516.67M369.81 515.93V515.17H371.75V516.09M367.72 517.3V514.87H370.78V515.17M364.63 514.68V514.38H369.25V514.87M359.52 515.51V514.08H366.94V514.38M373.46 517.3V516.89H374.55V517.3M374 516.89V516.27H375.77V517.3M376.87 517.3V516.62H377.57V517.3M377.22 516.62V515.99H377.99V517.3M378.7 517.3V516.82H379.36V517.3M377.61 515.99V515.61H379.03V516.82M381.08 517.3V516.92H381.86V517.3M380.49 517.3V516.2H381.47V516.92M379.81 517.3V515.67H380.98V516.2M383.78 517.3V516.87H384.73V517.3M382.79 517.3V516.04H384.26V516.87M387.09 517.3V516.6H387.89V517.3M387.49 516.6V515.91H388.65V517.3M386.39 517.3V515.17H388.07V515.91M385.57 517.3V514.87H387.23V515.17M383.52 516.04V514.57H386.4V514.87M380.4 515.67V514.27H384.96V514.57M378.32 515.61V513.97H382.68V514.27M374.89 516.27V513.67H380.5V513.97M391.4 517.3V516.94H392.34V517.3M390.5 517.3V516.04H391.87V516.94M389.52 517.3V515.08H391.18V516.04M393.06 517.3V516.78H393.74V517.3M394.75 517.3V516.8H395.46V517.3M393.4 516.78V516.03H395.1V516.8M390.35 515.08V514.78H394.25V516.03M377.69 513.67V513.37H392.3V514.78M363.23 514.08V513.07H388.65V513.37M356.39 514.98V512.77H382.29V513.07M348.88 514.68V512.47H375.82V512.77M341.27 514.61V512.17H369.08V512.47M333.75 514.88V511.87H362.13V512.17M323.16 514.48V511.57H355.03V511.87M314.09 514.89V511.27H347.06V511.57M304.91 514.34V510.97H338.82V511.27M295.51 514.98V510.67H330.34V510.97M282.74 513.78V510.37H321.64V510.67M274.97 514.64V509.59H311.91V510.37M261.11 514.38V509H302.67V509.59"/><path stroke="#4a56b8" stroke-width="0.9" d="M252.6 516.95H395.6"/>
</g>
<!-- heatmaps -->
<g fill="none">
<path stroke="#e6ec0e" stroke-width="5.67" d="M14.9 94.14h1.4M17.7 94.14h0.7M23.3 94.14h7M31 94.14h0.7M33.8 94.14h0.7M36.6 94.14h2.1M39.4 94.14h0.7M41.5 94.14h2.1M47.8 94.14h2.8M51.3 94.14h0.7M53.4 94.14h2.8M60.4 94.14h4.9M66.7 94.14h0.7M69.5 94.14h2.1M72.3 94.14h1.4M75.1 94.14h0.7M77.2 94.14h2.1M80 94.14h2.8M84.9 94.14h0.7M87 94.14h2.8M91.2 94.14h2.1M98.2 94.14h2.1M101 94.14h7M110.8 94.14h1.4M114.3 94.14h1.4M122 94.14h0.7M124.1 94.14h1.4M131.1 94.14h2.1M137.4 94.14h2.1M140.2 94.14h0.7M145.1 94.14h0.7M150 94.14h0.7M152.1 94.14h1.4M154.9 94.14h0.7M158.4 94.14h2.1M163.3 94.14h0.7M166.1 94.14h0.7M168.9 94.14h1.4M171 94.14h2.8M175.2 94.14h1.4M177.3 94.14h0.7M178.7 94.14h2.8M186.4 94.14h2.1M189.2 94.14h1.4M191.3 94.14h0.7M192.7 94.14h2.1M195.5 94.14h1.5M17 99.81h1.4M19.1 99.81h2.8M22.6 99.81h4.9M28.2 99.81h3.5M33.1 99.81h1.4M35.9 99.81h2.8M39.4 99.81h1.4M42.2 99.81h1.4M45 99.81h0.7M47.1 99.81h5.6M54.8 99.81h4.9M60.4 99.81h6.3M69.5 99.81h1.4M71.6 99.81h13.3M86.3 99.81h3.5M91.2 99.81h4.2M96.8 99.81h2.1M101.7 99.81h1.4M103.8 99.81h6.3M110.8 99.81h2.1M113.6 99.81h5.6M120.6 99.81h1.4M124.8 99.81h5.6M131.8 99.81h2.1M134.6 99.81h1.4M136.7 99.81h0.7M138.8 99.81h0.7M140.2 99.81h1.4M143 99.81h1.4M147.9 99.81h2.8M151.4 99.81h4.2M158.4 99.81h3.5M163.3 99.81h1.4M166.1 99.81h8.4M178.7 99.81h3.5M183.6 99.81h1.4M187.1 99.81h1.4M189.2 99.81h1.4M192 99.81h5M17 105.48h0.7M18.4 105.48h0.7M20.5 105.48h16.1M38 105.48h2.1M41.5 105.48h2.1M45 105.48h1.4M47.1 105.48h3.5M51.3 105.48h8.4M60.4 105.48h5.6M68.1 105.48h2.8M71.6 105.48h0.7M75.1 105.48h3.5M80.7 105.48h1.4M82.8 105.48h7M90.5 105.48h1.4M92.6 105.48h2.1M95.4 105.48h0.7M96.8 105.48h2.1M99.6 105.48h0.7M101 105.48h4.9M106.6 105.48h1.4M109.4 105.48h0.7M111.5 105.48h1.4M113.6 105.48h0.7M115 105.48h0.7M116.4 105.48h0.7M118.5 105.48h0.7M120.6 105.48h1.4M124.8 105.48h6.3M134.6 105.48h1.4M138.1 105.48h0.7M150.7 105.48h0.7M152.1 105.48h1.4M159.1 105.48h1.4M161.2 105.48h1.4M167.5 105.48h1.4M171 105.48h1.4M174.5 105.48h0.7M178.7 105.48h1.4M188.5 105.48h0.7M192 105.48h0.7M193.4 105.48h1.4M13.5 111.16h0.7M14.9 111.16h7M22.6 111.16h7.7M33.8 111.16h2.8M39.4 111.16h1.4M42.2 111.16h1.4M44.3 111.16h1.4M47.1 111.16h2.8M53.4 111.16h2.1M56.2 111.16h1.4M59 111.16h0.7M61.1 111.16h4.9M68.1 111.16h7M75.8 111.16h1.4M78.6 111.16h1.4M80.7 111.16h2.8M84.2 111.16h5.6M91.2 111.16h4.9M96.8 111.16h2.1M101 111.16h2.1M105.9 111.16h3.5M110.8 111.16h2.1M114.3 111.16h3.5M119.2 111.16h3.5M124.1 111.16h0.7M125.5 111.16h4.9M131.1 111.16h5.6M138.8 111.16h2.1M141.6 111.16h2.8M149.3 111.16h12.6M163.3 111.16h2.1M168.2 111.16h2.1M171.7 111.16h4.2M176.6 111.16h8.4M189.2 111.16h1.4M193.4 111.16h0.7M13.5 116.83h0.7M14.9 116.83h3.5M19.1 116.83h13.3M33.1 116.83h1.4M35.9 116.83h2.8M39.4 116.83h0.7M44.3 116.83h0.7M46.4 116.83h2.8M50.6 116.83h3.5M54.8 116.83h2.1M58.3 116.83h16.1M76.5 116.83h1.4M78.6 116.83h11.2M91.2 116.83h4.9M96.8 116.83h3.5M101 116.83h2.8M104.5 116.83h8.4M113.6 116.83h0.7M115 116.83h8.4M124.1 116.83h0.7M125.5 116.83h15.4M143 116.83h3.5M147.9 116.83h5.6M154.2 116.83h1.4M157 116.83h4.9M162.6 116.83h4.9M168.2 116.83h9.1M178 116.83h9.1M189.2 116.83h2.1M194.1 116.83h2.8M13.5 122.5h0.7M14.9 122.5h23.8M39.4 122.5h1.4M41.5 122.5h1.4M44.3 122.5h39.2M84.2 122.5h14.7M100.3 122.5h22.4M126.2 122.5h4.9M131.8 122.5h4.9M137.4 122.5h4.2M142.3 122.5h14M158.4 122.5h3.5M163.3 122.5h7M171 122.5h4.9M180.1 122.5h0.7M189.2 122.5h1.4M192 122.5h0.7M193.4 122.5h0.7M194.8 122.5h2.1M13.5 128.18h17.5M31.7 128.18h1.4M35.9 128.18h9.8M47.1 128.18h8.4M56.2 128.18h4.2M61.1 128.18h14M75.8 128.18h7.7M84.2 128.18h28.7M113.6 128.18h33.6M147.9 128.18h8.4M157 128.18h4.9M162.6 128.18h12.6M180.8 128.18h0.7M186.4 128.18h1.4M188.5 128.18h1.4M193.4 128.18h0.7M194.8 128.18h2.2M13.5 133.85h25.2M39.4 133.85h14.7M54.8 133.85h12.6M68.1 133.85h5.6M75.1 133.85h15.4M91.2 133.85h18.2M110.1 133.85h8.4M119.9 133.85h3.5M124.1 133.85h37.8M162.6 133.85h2.8M166.8 133.85h3.5M171 133.85h4.2M176.6 133.85h1.4M180.8 133.85h0.7M189.9 133.85h1.4M192.7 133.85h0.7M194.8 133.85h1.4M13.5 139.52h0.7M14.9 139.52h1.4M17 139.52h4.9M22.6 139.52h8.4M32.4 139.52h14M47.1 139.52h4.9M52.7 139.52h5.6M59 139.52h1.4M61.1 139.52h6.3M68.1 139.52h2.8M73 139.52h1.4M75.1 139.52h4.9M80.7 139.52h9.8M91.2 139.52h21.7M114.3 139.52h32.9M147.9 139.52h9.8M158.4 139.52h11.9M171 139.52h4.9M176.6 139.52h0.7M184.3 139.52h2.8M189.2 139.52h7M13.5 145.2h0.7M14.9 145.2h0.7M17.7 145.2h1.4M20.5 145.2h1.4M23.3 145.2h1.4M26.1 145.2h0.7M28.2 145.2h1.4M34.5 145.2h1.4M42.2 145.2h3.5M47.1 145.2h2.1M49.9 145.2h0.7M52.7 145.2h1.4M56.2 145.2h1.4M59 145.2h0.7M62.5 145.2h3.5M69.5 145.2h1.4M74.4 145.2h0.7M76.5 145.2h2.8M81.4 145.2h1.4M84.9 145.2h1.4M87 145.2h4.9M93.3 145.2h2.1M97.5 145.2h1.4M101 145.2h2.1M103.8 145.2h1.4M105.9 145.2h2.8M110.1 145.2h2.1M112.9 145.2h2.1M117.1 145.2h2.8M120.6 145.2h2.1M124.8 145.2h0.7M127.6 145.2h0.7M130.4 145.2h2.1M137.4 145.2h0.7M138.8 145.2h2.1M142.3 145.2h2.1M145.1 145.2h1.4M150 145.2h0.7M152.1 145.2h1.4M154.2 145.2h1.4M159.1 145.2h2.8M166.1 145.2h1.4M168.2 145.2h2.1M171 145.2h1.4M174.5 145.2h1.4M176.6 145.2h7.7M187.1 145.2h1.4M189.2 145.2h1.4M191.3 145.2h0.7M193.4 145.2h3.6M13.5 150.87h0.7M14.9 150.87h1.4M17 150.87h1.4M19.8 150.87h0.7M21.2 150.87h0.7M23.3 150.87h2.1M26.8 150.87h12.6M42.9 150.87h0.7M47.1 150.87h0.7M49.2 150.87h2.8M53.4 150.87h0.7M54.8 150.87h0.7M56.9 150.87h2.8M61.1 150.87h0.7M63.9 150.87h2.1M68.1 150.87h0.7M69.5 150.87h1.4M72.3 150.87h1.4M75.1 150.87h1.4M77.2 150.87h5.6M84.2 150.87h1.4M86.3 150.87h3.5M91.9 150.87h1.4M94.7 150.87h1.4M97.5 150.87h1.4M99.6 150.87h1.4M103.1 150.87h7M110.8 150.87h0.7M112.2 150.87h4.2M117.1 150.87h2.8M122.7 150.87h2.1M125.5 150.87h5.6M136 150.87h0.7M139.5 150.87h0.7M143.7 150.87h2.1M149.3 150.87h1.4M151.4 150.87h2.1M154.2 150.87h1.4M158.4 150.87h3.5M164 150.87h1.4M166.1 150.87h0.7M168.9 150.87h1.4M171.7 150.87h0.7M173.1 150.87h0.7M174.5 150.87h1.4M178.7 150.87h4.2M185 150.87h9.1M194.8 150.87h2.2M17 156.54h4.9M23.3 156.54h49M73 156.54h1.4M75.1 156.54h9.1M84.9 156.54h4.9M91.2 156.54h4.9M96.8 156.54h22.4M120.6 156.54h17.5M138.8 156.54h2.1M141.6 156.54h2.8M145.1 156.54h2.1M149.3 156.54h4.2M154.2 156.54h1.4M159.1 156.54h2.8M163.3 156.54h3.5M167.5 156.54h2.8M171 156.54h4.9M178.7 156.54h3.5M185 156.54h4.9M192 156.54h4.2M17.7 162.22h0.7M23.3 162.22h2.1M26.8 162.22h0.7M28.2 162.22h1.4M30.3 162.22h1.4M33.8 162.22h6.3M44.3 162.22h1.4M47.8 162.22h4.2M52.7 162.22h3.5M56.9 162.22h3.5M61.1 162.22h5.6M69.5 162.22h5.6M77.2 162.22h2.8M80.7 162.22h3.5M87 162.22h2.8M91.2 162.22h2.1M98.2 162.22h0.7M99.6 162.22h0.7M101 162.22h1.4M103.8 162.22h0.7M107.3 162.22h1.4M110.8 162.22h0.7M116.4 162.22h1.4M120.6 162.22h0.7M126.2 162.22h3.5M134.6 162.22h0.7M136 162.22h0.7M143.7 162.22h0.7M148.6 162.22h0.7M150 162.22h0.7M151.4 162.22h2.1M154.2 162.22h0.7M159.8 162.22h3.5M168.9 162.22h0.7M171.7 162.22h1.4M174.5 162.22h0.7M180.1 162.22h2.1M186.4 162.22h1.4M189.2 162.22h0.7M191.3 162.22h0.7M194.1 162.22h2.1M13.5 167.89h23.1M37.3 167.89h16.8M54.8 167.89h2.8M58.3 167.89h8.4M67.4 167.89h6.3M75.1 167.89h8.4M84.2 167.89h6.3M91.2 167.89h2.1M94 167.89h2.1M96.8 167.89h8.4M106.6 167.89h4.9M112.2 167.89h2.8M115.7 167.89h7.7M124.1 167.89h17.5M142.3 167.89h2.1M145.1 167.89h1.4M148.6 167.89h7.7M159.1 167.89h2.8M162.6 167.89h4.9M168.2 167.89h2.1M171 167.89h4.9M177.3 167.89h0.7M178.7 167.89h0.7M186.4 167.89h1.4M188.5 167.89h2.1M192.7 167.89h3.5M18.4 173.56h0.7M20.5 173.56h0.7M24 173.56h2.8M27.5 173.56h2.1M30.3 173.56h4.9M35.9 173.56h1.4M39.4 173.56h5.6M47.1 173.56h2.8M50.6 173.56h9.1M60.4 173.56h7M69.5 173.56h4.2M74.4 173.56h9.1M84.9 173.56h4.9M91.2 173.56h0.7M92.6 173.56h3.5M97.5 173.56h2.8M101.7 173.56h2.1M107.3 173.56h1.4M111.5 173.56h0.7M120.6 173.56h2.1M127.6 173.56h2.1M131.1 173.56h0.7M133.9 173.56h2.8M137.4 173.56h2.1M140.9 173.56h0.7M143 173.56h1.4M147.9 173.56h5.6M154.9 173.56h0.7M159.8 173.56h2.1M162.6 173.56h0.7M168.2 173.56h7M179.4 173.56h3.5M185 173.56h2.1M188.5 173.56h5.6M195.5 173.56h1.4"/>
<path stroke="#8e8c2a" stroke-width="5.67" d="M13.5 94.14h1.4M18.4 94.14h0.7M20.5 94.14h0.7M30.3 94.14h0.7M31.7 94.14h0.7M35.9 94.14h0.7M52.7 94.14h0.7M59 94.14h0.7M66 94.14h0.7M71.6 94.14h0.7M76.5 94.14h0.7M79.3 94.14h0.7M93.3 94.14h0.7M94.7 94.14h0.7M96.1 94.14h2.1M118.5 94.14h0.7M123.4 94.14h0.7M127.6 94.14h0.7M130.4 94.14h0.7M134.6 94.14h1.4M136.7 94.14h0.7M139.5 94.14h0.7M140.9 94.14h0.7M144.4 94.14h0.7M145.8 94.14h0.7M149.3 94.14h0.7M154.2 94.14h0.7M160.5 94.14h0.7M164.7 94.14h1.4M166.8 94.14h0.7M168.2 94.14h0.7M170.3 94.14h0.7M174.5 94.14h0.7M185 94.14h0.7M188.5 94.14h0.7M192 94.14h0.7M194.8 94.14h0.7M21.9 99.81h0.7M27.5 99.81h0.7M34.5 99.81h1.4M38.7 99.81h0.7M46.4 99.81h0.7M52.7 99.81h1.4M59.7 99.81h0.7M68.1 99.81h1.4M70.9 99.81h0.7M84.9 99.81h0.7M98.9 99.81h2.1M103.1 99.81h0.7M112.9 99.81h0.7M119.2 99.81h0.7M122.7 99.81h0.7M124.1 99.81h0.7M130.4 99.81h1.4M133.9 99.81h0.7M136 99.81h0.7M137.4 99.81h1.4M139.5 99.81h0.7M147.2 99.81h0.7M150.7 99.81h0.7M155.6 99.81h0.7M162.6 99.81h0.7M164.7 99.81h0.7M174.5 99.81h1.4M182.2 99.81h0.7M185 99.81h0.7M186.4 99.81h0.7M188.5 99.81h0.7M13.5 105.48h0.7M14.9 105.48h1.4M17.7 105.48h0.7M37.3 105.48h0.7M44.3 105.48h0.7M46.4 105.48h0.7M50.6 105.48h0.7M66 105.48h0.7M72.3 105.48h1.4M78.6 105.48h0.7M91.9 105.48h0.7M96.1 105.48h0.7M105.9 105.48h0.7M108.7 105.48h0.7M110.1 105.48h0.7M112.9 105.48h0.7M114.3 105.48h0.7M115.7 105.48h0.7M117.1 105.48h0.7M119.2 105.48h0.7M122 105.48h0.7M123.4 105.48h1.4M136 105.48h0.7M137.4 105.48h0.7M138.8 105.48h0.7M147.9 105.48h0.7M154.2 105.48h2.1M164 105.48h0.7M166.1 105.48h0.7M30.3 111.16h0.7M31.7 111.16h1.4M43.6 111.16h0.7M55.5 111.16h0.7M75.1 111.16h0.7M83.5 111.16h0.7M90.5 111.16h0.7M98.9 111.16h0.7M105.2 111.16h0.7M113.6 111.16h0.7M122.7 111.16h1.4M140.9 111.16h0.7M165.4 111.16h0.7M171 111.16h0.7M175.9 111.16h0.7M14.2 116.83h0.7M35.2 116.83h0.7M54.1 116.83h0.7M56.9 116.83h0.7M74.4 116.83h0.7M75.8 116.83h0.7M77.9 116.83h0.7M112.9 116.83h0.7M114.3 116.83h0.7M123.4 116.83h0.7M140.9 116.83h0.7M142.3 116.83h0.7M146.5 116.83h0.7M153.5 116.83h0.7M156.3 116.83h0.7M161.9 116.83h0.7M177.3 116.83h0.7M187.1 116.83h0.7M38.7 122.5h0.7M42.9 122.5h1.4M83.5 122.5h0.7M99.6 122.5h0.7M122.7 122.5h0.7M124.8 122.5h1.4M131.1 122.5h0.7M136.7 122.5h0.7M141.6 122.5h0.7M156.3 122.5h0.7M162.6 122.5h0.7M170.3 122.5h0.7M45.7 128.18h1.4M55.5 128.18h0.7M60.4 128.18h0.7M75.1 128.18h0.7M83.5 128.18h0.7M112.9 128.18h0.7M147.2 128.18h0.7M156.3 128.18h0.7M161.9 128.18h0.7M54.1 133.85h0.7M67.4 133.85h0.7M73.7 133.85h1.4M90.5 133.85h0.7M109.4 133.85h0.7M118.5 133.85h1.4M123.4 133.85h0.7M161.9 133.85h0.7M165.4 133.85h1.4M170.3 133.85h0.7M14.2 139.52h0.7M16.3 139.52h0.7M21.9 139.52h0.7M31 139.52h1.4M46.4 139.52h0.7M52 139.52h0.7M58.3 139.52h0.7M60.4 139.52h0.7M67.4 139.52h0.7M70.9 139.52h2.1M74.4 139.52h0.7M80 139.52h0.7M90.5 139.52h0.7M112.9 139.52h1.4M147.2 139.52h0.7M157.7 139.52h0.7M170.3 139.52h0.7M25.4 145.2h0.7M27.5 145.2h0.7M29.6 145.2h1.4M33.1 145.2h1.4M38 145.2h0.7M39.4 145.2h0.7M49.2 145.2h0.7M51.3 145.2h0.7M54.1 145.2h2.1M61.1 145.2h1.4M71.6 145.2h0.7M75.8 145.2h0.7M79.3 145.2h0.7M80.7 145.2h0.7M82.8 145.2h0.7M98.9 145.2h0.7M109.4 145.2h0.7M119.9 145.2h0.7M125.5 145.2h0.7M128.3 145.2h2.1M134.6 145.2h0.7M144.4 145.2h0.7M146.5 145.2h0.7M147.9 145.2h0.7M149.3 145.2h0.7M150.7 145.2h1.4M155.6 145.2h0.7M167.5 145.2h0.7M172.4 145.2h0.7M184.3 145.2h1.4M190.6 145.2h0.7M16.3 150.87h0.7M18.4 150.87h0.7M20.5 150.87h0.7M25.4 150.87h1.4M39.4 150.87h0.7M43.6 150.87h0.7M52.7 150.87h0.7M56.2 150.87h0.7M61.8 150.87h1.4M66 150.87h0.7M68.8 150.87h0.7M74.4 150.87h0.7M76.5 150.87h0.7M82.8 150.87h1.4M89.8 150.87h2.1M93.3 150.87h1.4M98.9 150.87h0.7M101 150.87h1.4M110.1 150.87h0.7M116.4 150.87h0.7M119.9 150.87h0.7M122 150.87h0.7M124.8 150.87h0.7M131.1 150.87h4.9M137.4 150.87h0.7M138.8 150.87h0.7M140.9 150.87h0.7M143 150.87h0.7M147.2 150.87h0.7M150.7 150.87h0.7M153.5 150.87h0.7M155.6 150.87h0.7M157 150.87h1.4M161.9 150.87h2.1M165.4 150.87h0.7M166.8 150.87h2.1M170.3 150.87h1.4M172.4 150.87h0.7M173.8 150.87h0.7M175.9 150.87h2.1M182.9 150.87h1.4M194.1 150.87h0.7M16.3 156.54h0.7M74.4 156.54h0.7M84.2 156.54h0.7M119.2 156.54h1.4M138.1 156.54h0.7M144.4 156.54h0.7M147.2 156.54h0.7M148.6 156.54h0.7M153.5 156.54h0.7M157.7 156.54h0.7M161.9 156.54h1.4M166.8 156.54h0.7M17 162.22h0.7M20.5 162.22h0.7M26.1 162.22h0.7M31.7 162.22h0.7M42.2 162.22h0.7M46.4 162.22h0.7M52 162.22h0.7M56.2 162.22h0.7M60.4 162.22h0.7M66.7 162.22h0.7M68.1 162.22h0.7M84.2 162.22h0.7M86.3 162.22h0.7M97.5 162.22h0.7M100.3 162.22h0.7M104.5 162.22h0.7M111.5 162.22h0.7M135.3 162.22h0.7M137.4 162.22h0.7M145.8 162.22h0.7M149.3 162.22h0.7M157.7 162.22h0.7M159.1 162.22h0.7M169.6 162.22h0.7M171 162.22h0.7M54.1 167.89h0.7M57.6 167.89h0.7M66.7 167.89h0.7M73.7 167.89h1.4M90.5 167.89h0.7M93.3 167.89h0.7M96.1 167.89h0.7M105.2 167.89h0.7M111.5 167.89h0.7M115 167.89h0.7M123.4 167.89h0.7M141.6 167.89h0.7M147.9 167.89h0.7M156.3 167.89h0.7M158.4 167.89h0.7M161.9 167.89h0.7M167.5 167.89h0.7M19.8 173.56h0.7M21.2 173.56h0.7M23.3 173.56h0.7M26.8 173.56h0.7M35.2 173.56h0.7M38.7 173.56h0.7M46.4 173.56h0.7M49.9 173.56h0.7M68.1 173.56h0.7M73.7 173.56h0.7M84.2 173.56h0.7M91.9 173.56h0.7M100.3 173.56h0.7M117.8 173.56h0.7M124.1 173.56h0.7M125.5 173.56h0.7M126.9 173.56h0.7M129.7 173.56h1.4M131.8 173.56h0.7M140.2 173.56h0.7M142.3 173.56h0.7M187.1 173.56h1.4"/>
<path stroke="#565524" stroke-width="5.67" d="M17 94.14h0.7M19.8 94.14h0.7M34.5 94.14h0.7M40.1 94.14h1.4M43.6 94.14h1.4M47.1 94.14h0.7M50.6 94.14h0.7M52 94.14h0.7M56.2 94.14h0.7M59.7 94.14h0.7M65.3 94.14h0.7M68.8 94.14h0.7M74.4 94.14h0.7M75.8 94.14h0.7M82.8 94.14h0.7M84.2 94.14h0.7M100.3 94.14h0.7M108 94.14h2.8M112.2 94.14h0.7M115.7 94.14h0.7M117.1 94.14h0.7M119.2 94.14h2.8M122.7 94.14h0.7M126.9 94.14h0.7M128.3 94.14h2.1M136 94.14h0.7M141.6 94.14h0.7M143 94.14h1.4M146.5 94.14h0.7M151.4 94.14h0.7M153.5 94.14h0.7M155.6 94.14h0.7M161.2 94.14h0.7M162.6 94.14h0.7M164 94.14h0.7M167.5 94.14h0.7M176.6 94.14h0.7M182.2 94.14h1.4M190.6 94.14h0.7M13.5 99.81h0.7M14.9 99.81h1.4M18.4 99.81h0.7M31.7 99.81h1.4M44.3 99.81h0.7M66.7 99.81h0.7M90.5 99.81h0.7M95.4 99.81h0.7M101 99.81h0.7M110.1 99.81h0.7M119.9 99.81h0.7M122 99.81h0.7M141.6 99.81h1.4M144.4 99.81h2.8M156.3 99.81h2.1M161.9 99.81h0.7M165.4 99.81h0.7M175.9 99.81h2.8M182.9 99.81h0.7M185.7 99.81h0.7M190.6 99.81h1.4M16.3 105.48h0.7M19.1 105.48h1.4M36.6 105.48h0.7M40.1 105.48h1.4M43.6 105.48h0.7M73.7 105.48h1.4M79.3 105.48h0.7M82.1 105.48h0.7M94.7 105.48h0.7M98.9 105.48h0.7M108 105.48h0.7M110.8 105.48h0.7M117.8 105.48h0.7M119.9 105.48h0.7M122.7 105.48h0.7M131.1 105.48h2.8M139.5 105.48h0.7M140.9 105.48h1.4M145.1 105.48h0.7M147.2 105.48h0.7M148.6 105.48h0.7M150 105.48h0.7M151.4 105.48h0.7M157 105.48h1.4M160.5 105.48h0.7M162.6 105.48h1.4M180.1 105.48h2.1M187.8 105.48h0.7M189.2 105.48h0.7M192.7 105.48h0.7M194.8 105.48h1.4M196.9 105.48h0.1M57.6 111.16h0.7M14.2 145.2h0.7M21.9 145.2h0.7M24.7 145.2h0.7M35.9 145.2h0.7M37.3 145.2h0.7M50.6 145.2h0.7M52 145.2h0.7M57.6 145.2h0.7M59.7 145.2h0.7M66 145.2h0.7M68.1 145.2h0.7M73 145.2h0.7M126.2 145.2h0.7M135.3 145.2h1.4M138.1 145.2h0.7M140.9 145.2h1.4M148.6 145.2h0.7M153.5 145.2h0.7M157 145.2h0.7M162.6 145.2h1.4M136.7 150.87h0.7M138.1 150.87h0.7M140.2 150.87h0.7M141.6 150.87h1.4M145.8 150.87h1.4M147.9 150.87h1.4M156.3 150.87h0.7M178 150.87h0.7M184.3 150.87h0.7"/>
<path stroke="#161618" stroke-width="5.67" d="M16.3 94.14h0.7M19.1 94.14h0.7M21.2 94.14h2.1M32.4 94.14h0.7M35.2 94.14h0.7M38.7 94.14h0.7M56.9 94.14h0.7M58.3 94.14h0.7M68.1 94.14h0.7M73.7 94.14h0.7M85.6 94.14h0.7M89.8 94.14h1.4M94 94.14h0.7M95.4 94.14h0.7M113.6 94.14h0.7M116.4 94.14h0.7M125.5 94.14h1.4M142.3 94.14h0.7M147.9 94.14h1.4M150.7 94.14h0.7M156.3 94.14h0.7M157.7 94.14h0.7M161.9 94.14h0.7M173.8 94.14h0.7M178 94.14h0.7M181.5 94.14h0.7M183.6 94.14h1.4M100.3 105.48h0.7M133.9 105.48h0.7M136.7 105.48h0.7M140.2 105.48h0.7M142.3 105.48h2.8M145.8 105.48h1.4M149.3 105.48h0.7M153.5 105.48h0.7M156.3 105.48h0.7M158.4 105.48h0.7M164.7 105.48h1.4M166.8 105.48h0.7M168.9 105.48h2.1M172.4 105.48h2.1M175.2 105.48h0.7M176.6 105.48h1.4M182.2 105.48h2.8M186.4 105.48h1.4M189.9 105.48h2.1M196.2 105.48h0.7M132.5 145.2h2.1M136.7 145.2h0.7M147.2 145.2h0.7M156.3 145.2h0.7M157.7 145.2h1.4M161.9 145.2h0.7M164 145.2h0.7"/>
<path stroke="#222868" stroke-width="5.67" d="M175.9 105.48h0.7M178 105.48h0.7M185 105.48h1.4"/>
<path stroke="#5c669e" stroke-width="5.67" d="M33.1 94.14h0.7M45 94.14h2.1M57.6 94.14h0.7M67.4 94.14h0.7M83.5 94.14h0.7M86.3 94.14h0.7M112.9 94.14h0.7M117.8 94.14h0.7M133.2 94.14h1.4M147.2 94.14h0.7M157 94.14h0.7M185.7 94.14h0.7M14.2 99.81h0.7M16.3 99.81h0.7M40.8 99.81h1.4M43.6 99.81h0.7M45.7 99.81h0.7M54.1 99.81h0.7M67.4 99.81h0.7M85.6 99.81h0.7M89.8 99.81h0.7M96.1 99.81h0.7M123.4 99.81h0.7M14.2 111.16h0.7M21.9 111.16h0.7M31 111.16h0.7M33.1 111.16h0.7M36.6 111.16h2.8M40.8 111.16h1.4M46.4 111.16h0.7M50.6 111.16h1.4M52.7 111.16h0.7M59.7 111.16h1.4M66 111.16h2.1M77.2 111.16h0.7M89.8 111.16h0.7M96.1 111.16h0.7M99.6 111.16h0.7M103.1 111.16h0.7M104.5 111.16h0.7M109.4 111.16h0.7M112.9 111.16h0.7M117.8 111.16h1.4M124.8 111.16h0.7M130.4 111.16h0.7M136.7 111.16h2.1M144.4 111.16h4.9M161.9 111.16h1.4M166.1 111.16h2.1M170.3 111.16h0.7M187.1 111.16h1.4M194.1 111.16h1.4M18.4 116.83h0.7M32.4 116.83h0.7M34.5 116.83h0.7M38.7 116.83h0.7M41.5 116.83h2.8M45 116.83h1.4M49.2 116.83h1.4M75.1 116.83h0.7M89.8 116.83h1.4M96.1 116.83h0.7M100.3 116.83h0.7M103.8 116.83h0.7M124.8 116.83h0.7M141.6 116.83h0.7M147.2 116.83h0.7M155.6 116.83h0.7M167.5 116.83h0.7M14.2 122.5h0.7M40.8 122.5h0.7M98.9 122.5h0.7M123.4 122.5h1.4M157 122.5h1.4M161.9 122.5h0.7M175.9 122.5h0.7M177.3 122.5h0.7M184.3 122.5h0.7M188.5 122.5h0.7M31 128.18h0.7M33.1 128.18h2.8M176.6 128.18h0.7M178.7 128.18h0.7M180.1 128.18h0.7M181.5 128.18h0.7M185.7 128.18h0.7M187.8 128.18h0.7M189.9 128.18h0.7M191.3 128.18h2.1M194.1 128.18h0.7M38.7 133.85h0.7M175.2 133.85h0.7M180.1 133.85h0.7M189.2 133.85h0.7M192 133.85h0.7M193.4 133.85h1.4M15.6 145.2h2.1M19.1 145.2h1.4M22.6 145.2h0.7M26.8 145.2h0.7M31 145.2h2.1M36.6 145.2h0.7M38.7 145.2h0.7M40.1 145.2h2.1M45.7 145.2h1.4M58.3 145.2h0.7M60.4 145.2h0.7M66.7 145.2h1.4M70.9 145.2h0.7M72.3 145.2h0.7M73.7 145.2h0.7M75.1 145.2h0.7M80 145.2h0.7M83.5 145.2h0.7M86.3 145.2h0.7M91.9 145.2h1.4M95.4 145.2h2.1M99.6 145.2h1.4M103.1 145.2h0.7M105.2 145.2h0.7M108.7 145.2h0.7M112.2 145.2h0.7M115 145.2h2.1M122.7 145.2h0.7M124.1 145.2h0.7M126.9 145.2h0.7M164.7 145.2h1.4M170.3 145.2h0.7M175.9 145.2h0.7M185.7 145.2h1.4M188.5 145.2h0.7M192 145.2h0.7M14.2 150.87h0.7M19.1 150.87h0.7M21.9 150.87h1.4M40.1 150.87h2.8M47.8 150.87h1.4M54.1 150.87h0.7M55.5 150.87h0.7M59.7 150.87h1.4M63.2 150.87h0.7M66.7 150.87h1.4M70.9 150.87h1.4M73.7 150.87h0.7M85.6 150.87h0.7M96.1 150.87h1.4M102.4 150.87h0.7M111.5 150.87h0.7M120.6 150.87h1.4M13.5 156.54h2.8M21.9 156.54h1.4M72.3 156.54h0.7M89.8 156.54h1.4M96.1 156.54h0.7M140.9 156.54h0.7M147.9 156.54h0.7M155.6 156.54h2.1M158.4 156.54h0.7M170.3 156.54h0.7M175.9 156.54h2.8M182.2 156.54h2.8M189.9 156.54h2.1M196.2 156.54h0.8M14.9 162.22h2.1M18.4 162.22h2.1M21.2 162.22h2.1M25.4 162.22h0.7M27.5 162.22h0.7M29.6 162.22h0.7M32.4 162.22h1.4M40.1 162.22h2.1M42.9 162.22h1.4M45.7 162.22h0.7M47.1 162.22h0.7M67.4 162.22h0.7M68.8 162.22h0.7M76.5 162.22h0.7M80 162.22h0.7M84.9 162.22h1.4M89.8 162.22h0.7M93.3 162.22h0.7M94.7 162.22h1.4M96.8 162.22h0.7M98.9 162.22h0.7M102.4 162.22h1.4M105.2 162.22h2.1M108.7 162.22h1.4M112.2 162.22h0.7M113.6 162.22h2.8M117.8 162.22h0.7M119.9 162.22h0.7M121.3 162.22h1.4M123.4 162.22h2.8M130.4 162.22h2.1M133.9 162.22h0.7M136.7 162.22h0.7M138.1 162.22h3.5M143 162.22h0.7M144.4 162.22h1.4M146.5 162.22h2.1M150.7 162.22h0.7M153.5 162.22h0.7M157 162.22h0.7M158.4 162.22h0.7M164.7 162.22h4.2M173.1 162.22h0.7M175.2 162.22h0.7M178.7 162.22h1.4M182.2 162.22h0.7M183.6 162.22h0.7M189.9 162.22h1.4M193.4 162.22h0.7M36.6 167.89h0.7M83.5 167.89h0.7M105.9 167.89h0.7M144.4 167.89h0.7M146.5 167.89h1.4M157 167.89h1.4M170.3 167.89h0.7M13.5 173.56h0.7M16.3 173.56h2.1M19.1 173.56h0.7M21.9 173.56h1.4M29.6 173.56h0.7M37.3 173.56h1.4M45 173.56h1.4M59.7 173.56h0.7M67.4 173.56h0.7M68.8 173.56h0.7M83.5 173.56h0.7M89.8 173.56h0.7M96.1 173.56h1.4M101 173.56h0.7M103.8 173.56h1.4M105.9 173.56h1.4M108.7 173.56h1.4M110.8 173.56h0.7M112.2 173.56h5.6M118.5 173.56h0.7M119.9 173.56h0.7M123.4 173.56h0.7M126.2 173.56h0.7M132.5 173.56h1.4M136.7 173.56h0.7M139.5 173.56h0.7M141.6 173.56h0.7M144.4 173.56h0.7M146.5 173.56h1.4M153.5 173.56h1.4M155.6 173.56h2.1M158.4 173.56h1.4M161.9 173.56h0.7M163.3 173.56h2.1M167.5 173.56h0.7M175.2 173.56h4.2M182.9 173.56h2.1M194.1 173.56h1.4M196.9 173.56h0.1"/>
<path stroke="#3a4eba" stroke-width="5.67" d="M14.2 105.48h0.7M59.7 105.48h0.7M66.7 105.48h1.4M70.9 105.48h0.7M80 105.48h0.7M89.8 105.48h0.7M45.7 111.16h0.7M49.9 111.16h0.7M52 111.16h0.7M58.3 111.16h0.7M77.9 111.16h0.7M80 111.16h0.7M100.3 111.16h0.7M103.8 111.16h0.7M110.1 111.16h0.7M185 111.16h2.1M188.5 111.16h0.7M190.6 111.16h2.8M195.5 111.16h1.5M40.1 116.83h1.4M57.6 116.83h0.7M187.8 116.83h1.4M191.3 116.83h2.8M196.9 116.83h0.1M176.6 122.5h0.7M178 122.5h2.1M180.8 122.5h3.5M185 122.5h3.5M190.6 122.5h1.4M192.7 122.5h0.7M194.1 122.5h0.7M196.9 122.5h0.1M175.2 128.18h1.4M177.3 128.18h1.4M179.4 128.18h0.7M182.2 128.18h3.5M190.6 128.18h0.7M175.9 133.85h0.7M178 133.85h2.1M181.5 133.85h7.7M191.3 133.85h0.7M196.2 133.85h0.8M175.9 139.52h0.7M177.3 139.52h7M187.1 139.52h2.1M196.2 139.52h0.8M68.8 145.2h0.7M84.2 145.2h0.7M123.4 145.2h0.7M173.1 145.2h1.4M192.7 145.2h0.7M44.3 150.87h2.8M52 150.87h0.7M13.5 162.22h1.4M75.1 162.22h1.4M90.5 162.22h0.7M94 162.22h0.7M96.1 162.22h0.7M110.1 162.22h0.7M112.9 162.22h0.7M118.5 162.22h1.4M122.7 162.22h0.7M129.7 162.22h0.7M132.5 162.22h1.4M141.6 162.22h1.4M154.9 162.22h2.1M163.3 162.22h1.4M170.3 162.22h0.7M173.8 162.22h0.7M175.9 162.22h2.8M182.9 162.22h0.7M184.3 162.22h2.1M187.8 162.22h1.4M192 162.22h1.4M196.2 162.22h0.8M175.9 167.89h1.4M178 167.89h0.7M179.4 167.89h7M187.8 167.89h0.7M190.6 167.89h2.1M196.2 167.89h0.8M14.2 173.56h2.1M90.5 173.56h0.7M105.2 173.56h0.7M110.1 173.56h0.7M119.2 173.56h0.7M122.7 173.56h0.7M124.8 173.56h0.7M145.1 173.56h1.4M157.7 173.56h0.7M165.4 173.56h2.1"/>
<path stroke="#6f76c2" stroke-width="0.6" stroke-opacity="0.75" d="M13.8 91.3V176.4"/>
<path stroke="#e6ec0e" stroke-width="5.69" d="M263.6 93.94h0.8M271.6 93.94h0.8M278 93.94h0.8M306 93.94h0.8M310 93.94h4M314.8 93.94h1.6M318.8 93.94h4.8M326.8 93.94h5.6M334.8 93.94h4M341.2 93.94h1.6M344.4 93.94h1.6M306.8 99.63h1.6M310 99.63h3.2M314.8 99.63h1.6M318 99.63h1.6M321.2 99.63h4.8M327.6 99.63h2.4M330.8 99.63h1.6M333.2 99.63h1.6M336.4 99.63h3.2M346 99.63h0.8M349.2 99.63h1.6M353.2 99.63h0.5M310 105.32h1.6M314.8 105.32h0.8M319.6 105.32h2.4M326.8 105.32h5.6M335.6 105.32h2.4M352.4 105.32h1.3M305.2 111h21.6M327.6 111h2.4M330.8 111h7.2M339.6 111h7.2M347.6 111h6.1M251.6 116.69h0.8M294 116.69h0.8M305.2 116.69h7.2M314.8 116.69h2.4M318 116.69h8M327.6 116.69h6.4M335.6 116.69h2.4M339.6 116.69h6.4M349.2 116.69h4.5M210.8 122.38h0.8M259.6 122.38h0.8M270 122.38h0.8M290.8 122.38h0.8M293.2 122.38h0.8M310 122.38h2.4M315.6 122.38h0.8M318.8 122.38h3.2M322.8 122.38h1.6M328.4 122.38h2.4M333.2 122.38h0.8M335.6 122.38h1.6M339.6 122.38h2.4M343.6 122.38h2.4M349.2 122.38h1.6M353.2 122.38h0.5M305.2 128.06h1.6M310 128.06h6.4M318.8 128.06h3.2M335.6 128.06h1.6M341.2 128.06h1.6M347.6 128.06h1.6M353.2 128.06h0.5M308.4 133.75h4M314.8 133.75h4M321.2 133.75h0.8M332.4 133.75h1.6M336.4 133.75h0.8M348.4 133.75h2.4M309.2 139.44h2.4M314.8 139.44h1.6M318 139.44h5.6M328.4 139.44h3.2M336.4 139.44h3.2M344.4 139.44h0.8M349.2 139.44h0.8M351.6 139.44h2.1M210.8 145.12h1.6M217.2 145.12h0.8M219.6 145.12h0.8M221.2 145.12h1.6M247.6 145.12h0.8M259.6 145.12h1.6M262.8 145.12h1.6M293.2 145.12h2.4M299.6 145.12h1.6M305.2 145.12h6.4M314.8 145.12h8M328.4 145.12h1.6M334.8 145.12h4M349.2 145.12h1.6M352.4 145.12h1.3M218.8 150.81h0.8M290 150.81h1.6M292.4 150.81h3.2M297.2 150.81h0.8M298.8 150.81h6.4M306 150.81h1.6M310.8 150.81h1.6M314.8 150.81h2.4M319.6 150.81h1.6M322 150.81h0.8M326 150.81h2.4M330 150.81h2.4M333.2 150.81h0.8M335.6 150.81h2.4M342 150.81h3.2M347.6 150.81h0.8M352.4 150.81h0.8M300.4 156.5h1.6M304.4 156.5h2.4M308.4 156.5h2.4M311.6 156.5h2.4M315.6 156.5h4.8M321.2 156.5h1.6M324.4 156.5h1.6M327.6 156.5h1.6M330.8 156.5h1.6M335.6 156.5h1.6M343.6 156.5h0.8M348.4 156.5h5.3M299.6 162.18h1.6M308.4 162.18h2.4M312.4 162.18h0.8M318 162.18h4M324.4 162.18h0.8M328.4 162.18h1.6M336.4 162.18h1.6M340.4 162.18h3.2M348.4 162.18h0.8M306 167.87h3.2M311.6 167.87h11.2M324.4 167.87h2.4M329.2 167.87h1.6M333.2 167.87h0.8M335.6 167.87h2.4M340.4 167.87h2.4M344.4 167.87h1.6M353.2 167.87h0.5M309.2 173.56h8M318 173.56h2.4M321.2 173.56h1.6M328.4 173.56h0.8M330.8 173.56h1.6M335.6 173.56h1.6M338.8 173.56h4M349.2 173.56h4.5"/>
<path stroke="#8e8c2a" stroke-width="5.69" d="M221.2 93.94h0.8M240.4 93.94h1.6M260.4 93.94h0.8M264.4 93.94h0.8M270.8 93.94h0.8M272.4 93.94h0.8M274 93.94h1.6M277.2 93.94h0.8M290 93.94h0.8M293.2 93.94h2.4M299.6 93.94h1.6M305.2 93.94h0.8M306.8 93.94h0.8M318 93.94h0.8M325.2 93.94h1.6M334 93.94h0.8M340.4 93.94h0.8M348.4 93.94h1.6M306 99.63h0.8M308.4 99.63h1.6M316.4 99.63h0.8M320.4 99.63h0.8M330 99.63h0.8M334.8 99.63h0.8M341.2 99.63h0.8M346.8 99.63h0.8M314 105.32h0.8M322.8 105.32h2.4M338 105.32h0.8M342 105.32h0.8M210.8 111h0.8M238 111h0.8M243.6 111h0.8M251.6 111h1.6M262.8 111h1.6M285.2 111h0.8M326.8 111h0.8M330 111h0.8M338 111h1.6M346.8 111h0.8M218.8 116.69h0.8M250.8 116.69h0.8M260.4 116.69h0.8M285.2 116.69h1.6M294.8 116.69h0.8M312.4 116.69h0.8M314 116.69h0.8M317.2 116.69h0.8M326.8 116.69h0.8M334.8 116.69h0.8M338 116.69h1.6M348.4 116.69h0.8M214.8 122.38h0.8M260.4 122.38h0.8M269.2 122.38h0.8M291.6 122.38h1.6M312.4 122.38h0.8M316.4 122.38h0.8M322 122.38h0.8M324.4 122.38h0.8M327.6 122.38h0.8M330.8 122.38h0.8M332.4 122.38h0.8M334 122.38h0.8M338.8 122.38h0.8M342 122.38h1.6M348.4 122.38h0.8M214.8 128.06h1.6M250 128.06h0.8M290.8 128.06h0.8M294 128.06h0.8M239.6 133.75h1.6M244.4 133.75h0.8M251.6 133.75h1.6M256.4 133.75h0.8M294 133.75h0.8M215.6 139.44h0.8M231.6 139.44h0.8M258 139.44h0.8M275.6 139.44h0.8M293.2 139.44h1.6M298.8 139.44h2.4M311.6 139.44h0.8M326.8 139.44h1.6M341.2 139.44h1.6M343.6 139.44h0.8M348.4 139.44h0.8M212.4 145.12h0.8M220.4 145.12h0.8M298 145.12h1.6M301.2 145.12h1.6M304.4 145.12h0.8M311.6 145.12h0.8M322.8 145.12h1.6M326 145.12h0.8M327.6 145.12h0.8M330 145.12h1.6M332.4 145.12h1.6M338.8 145.12h0.8M343.6 145.12h0.8M348.4 145.12h0.8M238.8 150.81h2.4M246 150.81h1.6M248.4 150.81h1.6M254 150.81h0.8M278.8 150.81h1.6M291.6 150.81h0.8M298 150.81h0.8M310 150.81h0.8M318.8 150.81h0.8M321.2 150.81h0.8M322.8 150.81h0.8M329.2 150.81h0.8M332.4 150.81h0.8M338 150.81h1.6M345.2 150.81h0.8M348.4 150.81h0.8M351.6 150.81h0.8M210.8 156.5h0.8M237.2 156.5h0.8M241.2 156.5h0.8M243.6 156.5h0.8M260.4 156.5h1.6M270.8 156.5h0.8M292.4 156.5h1.6M299.6 156.5h0.8M303.6 156.5h0.8M306.8 156.5h1.6M310.8 156.5h0.8M314.8 156.5h0.8M322.8 156.5h1.6M330 156.5h0.8M337.2 156.5h1.6M344.4 156.5h0.8M211.6 162.18h0.8M286.8 162.18h0.8M290 162.18h0.8M293.2 162.18h0.8M208.4 167.87h0.8M246.8 167.87h1.6M263.6 167.87h1.6M290 167.87h1.6M302.8 167.87h0.8M309.2 167.87h0.8M310.8 167.87h0.8M326.8 167.87h0.8M328.4 167.87h0.8M330.8 167.87h0.8M332.4 167.87h0.8M343.6 167.87h0.8M352.4 167.87h0.8M210.8 173.56h0.8M221.2 173.56h0.8M240.4 173.56h0.8M294 173.56h1.6M317.2 173.56h0.8M320.4 173.56h0.8M327.6 173.56h0.8M329.2 173.56h0.8M332.4 173.56h0.8M337.2 173.56h0.8"/>
<path stroke="#565524" stroke-width="5.69" d="M309.2 93.94h0.8M314 93.94h0.8M316.4 93.94h0.8M323.6 93.94h1.6M338.8 93.94h0.8M343.6 93.94h0.8M350 93.94h0.8M313.2 116.69h0.8M326 116.69h0.8M334 116.69h0.8M346 116.69h2.4M297.2 145.12h0.8M314 145.12h0.8M324.4 145.12h1.6M326.8 145.12h0.8M331.6 145.12h0.8M340.4 145.12h1.6M347.6 145.12h0.8M350.8 145.12h1.6M306.8 173.56h0.8M322.8 173.56h0.8M330 173.56h0.8M338 173.56h0.8M342.8 173.56h0.8M346.8 173.56h1.6"/>
<path stroke="#161618" stroke-width="5.69" d="M211.6 105.32h0.8M218.8 105.32h1.6M246 105.32h0.8M252.4 105.32h1.6M259.6 105.32h1.6M262.8 105.32h1.6M273.2 105.32h2.4M290 105.32h3.2M305.2 105.32h1.6M309.2 105.32h0.8M311.6 105.32h2.4M315.6 105.32h4M322 105.32h0.8M325.2 105.32h1.6M332.4 105.32h0.8M334.8 105.32h0.8M338.8 105.32h3.2M342.8 105.32h2.4M347.6 105.32h1.6"/>
<path stroke="#222868" stroke-width="5.69" d="M205.2 105.32h6.4M212.4 105.32h6.4M220.4 105.32h25.6M246.8 105.32h5.6M254 105.32h5.6M261.2 105.32h1.6M264.4 105.32h8.8M275.6 105.32h14.4M293.2 105.32h12M306.8 105.32h2.4M333.2 105.32h1.6M345.2 105.32h2.4M349.2 105.32h3.2"/>
<path stroke="#5c669e" stroke-width="5.69" d="M218.8 93.94h2.4M222 93.94h0.8M238 93.94h0.8M307.6 93.94h1.6M317.2 93.94h0.8M332.4 93.94h1.6M339.6 93.94h0.8M342.8 93.94h0.8M346 93.94h2.4M350.8 93.94h2.9M227.6 99.63h0.8M246 99.63h0.8M298 99.63h2.4M305.2 99.63h0.8M313.2 99.63h1.6M317.2 99.63h0.8M319.6 99.63h0.8M326 99.63h1.6M332.4 99.63h0.8M335.6 99.63h0.8M339.6 99.63h1.6M342 99.63h4M347.6 99.63h1.6M350.8 99.63h2.4M309.2 128.06h0.8M322 128.06h0.8M325.2 128.06h1.6M337.2 128.06h0.8M342.8 128.06h0.8M306.8 133.75h1.6M318.8 133.75h0.8M344.4 133.75h0.8M347.6 133.75h0.8M301.2 162.18h0.8M311.6 162.18h0.8M347.6 162.18h0.8"/>
<path stroke="#3a4eba" stroke-width="5.69" d="M205.2 93.94h13.6M222.8 93.94h15.2M238.8 93.94h1.6M242 93.94h18.4M261.2 93.94h2.4M265.2 93.94h5.6M273.2 93.94h0.8M275.6 93.94h1.6M278.8 93.94h11.2M290.8 93.94h2.4M295.6 93.94h4M301.2 93.94h4M205.2 99.63h22.4M228.4 99.63h17.6M246.8 99.63h51.2M300.4 99.63h4.8M205.2 111h5.6M211.6 111h26.4M238.8 111h4.8M244.4 111h7.2M253.2 111h9.6M264.4 111h20.8M286 111h19.2M205.2 116.69h13.6M219.6 116.69h31.2M252.4 116.69h8M261.2 116.69h24M286.8 116.69h7.2M295.6 116.69h9.6M205.2 122.38h5.6M211.6 122.38h3.2M215.6 122.38h44M261.2 122.38h8M270.8 122.38h20M294 122.38h16M313.2 122.38h2.4M317.2 122.38h1.6M325.2 122.38h2.4M331.6 122.38h0.8M334.8 122.38h0.8M337.2 122.38h1.6M346 122.38h2.4M350.8 122.38h2.4M205.2 128.06h9.6M216.4 128.06h33.6M250.8 128.06h40M291.6 128.06h2.4M294.8 128.06h10.4M306.8 128.06h2.4M316.4 128.06h2.4M322.8 128.06h2.4M326.8 128.06h8.8M338 128.06h3.2M343.6 128.06h4M349.2 128.06h4M205.2 133.75h34.4M241.2 133.75h3.2M245.2 133.75h6.4M253.2 133.75h3.2M257.2 133.75h36.8M294.8 133.75h12M312.4 133.75h2.4M319.6 133.75h1.6M322 133.75h10.4M334 133.75h2.4M337.2 133.75h7.2M345.2 133.75h2.4M350.8 133.75h2.9M205.2 139.44h10.4M216.4 139.44h15.2M232.4 139.44h25.6M258.8 139.44h16.8M276.4 139.44h16.8M294.8 139.44h4M301.2 139.44h8M312.4 139.44h2.4M316.4 139.44h1.6M323.6 139.44h3.2M331.6 139.44h4.8M339.6 139.44h1.6M342.8 139.44h0.8M345.2 139.44h3.2M350 139.44h1.6M205.2 145.12h5.6M213.2 145.12h4M218 145.12h1.6M222.8 145.12h24.8M248.4 145.12h11.2M261.2 145.12h1.6M264.4 145.12h28.8M295.6 145.12h1.6M302.8 145.12h1.6M312.4 145.12h1.6M334 145.12h0.8M339.6 145.12h0.8M342 145.12h1.6M344.4 145.12h3.2M205.2 150.81h13.6M219.6 150.81h19.2M241.2 150.81h4.8M247.6 150.81h0.8M250 150.81h4M254.8 150.81h24M280.4 150.81h9.6M295.6 150.81h1.6M305.2 150.81h0.8M307.6 150.81h2.4M312.4 150.81h2.4M317.2 150.81h1.6M323.6 150.81h2.4M328.4 150.81h0.8M334 150.81h1.6M339.6 150.81h2.4M346 150.81h1.6M349.2 150.81h2.4M353.2 150.81h0.5M205.2 156.5h5.6M211.6 156.5h25.6M238 156.5h3.2M242 156.5h1.6M244.4 156.5h16M262 156.5h8.8M271.6 156.5h20.8M294 156.5h5.6M302 156.5h1.6M314 156.5h0.8M320.4 156.5h0.8M326 156.5h1.6M329.2 156.5h0.8M332.4 156.5h3.2M338.8 156.5h4.8M345.2 156.5h3.2M205.2 162.18h6.4M212.4 162.18h74.4M287.6 162.18h2.4M290.8 162.18h2.4M294 162.18h5.6M302 162.18h6.4M310.8 162.18h0.8M313.2 162.18h4.8M322 162.18h2.4M325.2 162.18h3.2M330 162.18h6.4M338 162.18h2.4M343.6 162.18h4M349.2 162.18h4.5M205.2 167.87h3.2M209.2 167.87h37.6M248.4 167.87h15.2M265.2 167.87h24.8M291.6 167.87h11.2M303.6 167.87h2.4M310 167.87h0.8M322.8 167.87h1.6M327.6 167.87h0.8M331.6 167.87h0.8M334 167.87h1.6M338 167.87h2.4M342.8 167.87h0.8M346 167.87h6.4M205.2 173.56h5.6M211.6 173.56h9.6M222 173.56h18.4M241.2 173.56h52.8M295.6 173.56h11.2M307.6 173.56h1.6M323.6 173.56h4M333.2 173.56h2.4M343.6 173.56h3.2M348.4 173.56h0.8"/>
<path stroke="#6f76c2" stroke-width="0.6" stroke-opacity="0.75" d="M205.5 91.1V176.4"/>
<path stroke="#e6ec0e" stroke-width="7.02" d="M15 230.71h1.6M19 230.71h4.8M26.2 230.71h1.6M29.4 230.71h1.6M33.4 230.71h3.2M37.4 230.71h1.6M41.4 230.71h3.2M47.8 230.71h0.8M51.8 230.71h0.8M55 230.71h1.6M57.4 230.71h0.8M59 230.71h4.8M64.6 230.71h1.6M67.8 230.71h0.8M73.4 230.71h2.4M80.6 230.71h2.4M83.8 230.71h0.8M87 230.71h2.4M91 230.71h0.8M92.6 230.71h0.8M95.8 230.71h4.8M112.6 230.71h0.8M115.8 230.71h5.6M122.2 230.71h3.2M126.2 230.71h0.8M127.8 230.71h2.4M135 230.71h2.4M138.2 230.71h2.4M142.2 230.71h0.8M143.8 230.71h0.8M147 230.71h0.8M159.8 230.71h0.8M161.4 230.71h0.9M15 237.72h0.8M19.8 237.72h0.8M21.4 237.72h2.4M24.6 237.72h1.6M33.4 237.72h3.2M37.4 237.72h1.6M40.6 237.72h1.6M45.4 237.72h3.2M49.4 237.72h3.2M54.2 237.72h0.8M58.2 237.72h0.8M60.6 237.72h2.4M63.8 237.72h0.8M65.4 237.72h1.6M69.4 237.72h1.6M73.4 237.72h2.4M76.6 237.72h0.8M80.6 237.72h0.8M83.8 237.72h4.8M90.2 237.72h1.6M93.4 237.72h1.6M96.6 237.72h2.4M116.6 237.72h0.8M119.8 237.72h0.8M122.2 237.72h0.8M126.2 237.72h0.8M131.8 237.72h0.8M135 237.72h3.2M139 237.72h1.6M146.2 237.72h0.8M148.6 237.72h2.4M15 244.74h2.4M18.2 244.74h6.4M25.4 244.74h4.8M31 244.74h8M39.8 244.74h10.4M51 244.74h12M65.4 244.74h5.6M72.6 244.74h5.6M79.8 244.74h6.4M87 244.74h5.6M96.6 244.74h1.6M99 244.74h1.6M102.2 244.74h8.8M111.8 244.74h6.4M119.8 244.74h9.6M130.2 244.74h32.1M16.6 251.76h12.8M31 251.76h0.8M34.2 251.76h0.8M41.4 251.76h0.8M48.6 251.76h0.8M56.6 251.76h0.8M59.8 251.76h4M66.2 251.76h4M72.6 251.76h4M81.4 251.76h2.4M87.8 251.76h4M94.2 251.76h0.8M96.6 251.76h1.6M99 251.76h1.6M101.4 251.76h2.4M110.2 251.76h0.8M115.8 251.76h1.6M119.8 251.76h3.2M124.6 251.76h0.8M128.6 251.76h4M134.2 251.76h4.8M143 251.76h2.4M146.2 251.76h4.8M159 251.76h1.6M15 258.77h2.4M19.8 258.77h8M30.2 258.77h2.4M43 258.77h0.8M60.6 258.77h0.8M64.6 258.77h2.4M67.8 258.77h0.8M69.4 258.77h2.4M72.6 258.77h4M77.4 258.77h1.6M82.2 258.77h1.6M87.8 258.77h4M92.6 258.77h0.8M95 258.77h3.2M103 258.77h0.8M105.4 258.77h1.6M116.6 258.77h0.8M119 258.77h2.4M122.2 258.77h2.4M131.8 258.77h8.8M142.2 258.77h2.4M146.2 258.77h5.6M155.8 258.77h0.8M15 265.79h16.8M32.6 265.79h3.2M40.6 265.79h0.8M43 265.79h0.8M47.8 265.79h2.4M54.2 265.79h1.6M57.4 265.79h4.8M63 265.79h2.4M67 265.79h4M73.4 265.79h3.2M79.8 265.79h4.8M85.4 265.79h6.4M93.4 265.79h0.8M99 265.79h0.8M100.6 265.79h3.2M104.6 265.79h3.2M119 265.79h7.2M127.8 265.79h13.6M142.2 265.79h0.8M144.6 265.79h6.4M159 265.79h1.6M161.4 265.79h0.8M15 272.81h16M32.6 272.81h3.2M36.6 272.81h1.6M40.6 272.81h4M48.6 272.81h0.8M53.4 272.81h0.8M55.8 272.81h0.8M58.2 272.81h20.8M79.8 272.81h12.8M93.4 272.81h5.6M99.8 272.81h3.2M103.8 272.81h2.4M108.6 272.81h5.6M115 272.81h4M119.8 272.81h20.8M142.2 272.81h4M147.8 272.81h3.2M152.6 272.81h1.6M155.8 272.81h4.8M162.2 272.81h0.1M15 279.82h0.8M19.8 279.82h1.6M24.6 279.82h2.4M36.6 279.82h1.6M40.6 279.82h0.8M47.8 279.82h1.6M51.8 279.82h0.8M53.4 279.82h3.2M58.2 279.82h5.6M73.4 279.82h2.4M77.4 279.82h0.8M80.6 279.82h1.6M83 279.82h2.4M87.8 279.82h1.6M90.2 279.82h1.6M97.4 279.82h2.4M104.6 279.82h0.8M119.8 279.82h0.8M128.6 279.82h1.6M134.2 279.82h2.4M139.8 279.82h0.8M147.8 279.82h3.2M153.4 279.82h0.8M155.8 279.82h0.8M158.2 279.82h2.4M162.2 279.82h0.1M15 286.84h0.8M16.6 286.84h0.8M19.8 286.84h5.6M26.2 286.84h0.8M28.6 286.84h1.6M33.4 286.84h3.2M37.4 286.84h1.6M41.4 286.84h0.8M47 286.84h4M53.4 286.84h1.6M57.4 286.84h2.4M60.6 286.84h3.2M65.4 286.84h0.8M70.2 286.84h0.8M72.6 286.84h5.6M80.6 286.84h0.8M87.8 286.84h1.6M91 286.84h0.8M93.4 286.84h3.2M102.2 286.84h0.8M104.6 286.84h0.8M107.8 286.84h0.8M110.2 286.84h0.8M111.8 286.84h0.8M113.4 286.84h0.8M115.8 286.84h2.4M119.8 286.84h0.8M123 286.84h1.6M127 286.84h6.4M134.2 286.84h4.8M144.6 286.84h4.8M157.4 286.84h0.8M159.8 286.84h2.5M19.8 293.86h0.8M23.8 293.86h4M28.6 293.86h3.2M32.6 293.86h3.2M36.6 293.86h11.2M48.6 293.86h16M65.4 293.86h11.2M77.4 293.86h0.8M79.8 293.86h21.6M102.2 293.86h5.6M108.6 293.86h5.6M115 293.86h8M123.8 293.86h1.6M127 293.86h15.2M143.8 293.86h1.6M147 293.86h3.2M151 293.86h0.8M153.4 293.86h0.8M155 293.86h0.8M159 293.86h1.6M161.4 293.86h0.9M15 300.88h11.2M27 300.88h2.4M30.2 300.88h1.6M33.4 300.88h5.6M40.6 300.88h3.2M44.6 300.88h0.8M47 300.88h2.4M50.2 300.88h0.8M54.2 300.88h12M67.8 300.88h3.2M72.6 300.88h6.4M79.8 300.88h6.4M90.2 300.88h1.6M92.6 300.88h1.6M95 300.88h5.6M103.8 300.88h0.8M110.2 300.88h0.8M115 300.88h3.2M119 300.88h3.2M124.6 300.88h6.4M132.6 300.88h8.8M142.2 300.88h1.6M145.4 300.88h0.8M147.8 300.88h4M152.6 300.88h8M161.4 300.88h0.9M19.8 307.89h1.6M26.2 307.89h1.6M36.6 307.89h1.6M41.4 307.89h1.6M49.4 307.89h0.8M54.2 307.89h0.8M55.8 307.89h1.6M60.6 307.89h0.8M67.8 307.89h0.8M73.4 307.89h3.2M81.4 307.89h1.6M91 307.89h0.8M97.4 307.89h2.4M103 307.89h1.6M105.4 307.89h0.8M116.6 307.89h0.8M122.2 307.89h2.4M127.8 307.89h0.8M130.2 307.89h0.8M134.2 307.89h2.4M137.4 307.89h1.6M143.8 307.89h0.8M147.8 307.89h0.8M152.6 307.89h0.8M155 307.89h1.6M159.8 307.89h0.8M161.4 307.89h0.9"/>
<path stroke="#8e8c2a" stroke-width="7.02" d="M18.2 230.71h0.8M23.8 230.71h0.8M31 230.71h0.8M40.6 230.71h0.8M44.6 230.71h1.6M48.6 230.71h0.8M50.2 230.71h0.8M54.2 230.71h0.8M56.6 230.71h0.8M58.2 230.71h0.8M68.6 230.71h1.6M72.6 230.71h0.8M77.4 230.71h0.8M79.8 230.71h0.8M83 230.71h0.8M91.8 230.71h0.8M100.6 230.71h2.4M104.6 230.71h0.8M107.8 230.71h1.6M110.2 230.71h0.8M115 230.71h0.8M121.4 230.71h0.8M127 230.71h0.8M130.2 230.71h2.4M137.4 230.71h0.8M143 230.71h0.8M159 230.71h0.8M19 237.72h0.8M23.8 237.72h0.8M30.2 237.72h0.8M59 237.72h0.8M67.8 237.72h1.6M72.6 237.72h0.8M82.2 237.72h1.6M120.6 237.72h0.8M123 237.72h0.8M130.2 237.72h0.8M134.2 237.72h0.8M138.2 237.72h0.8M143.8 237.72h0.8M147 237.72h1.6M17.4 244.74h0.8M24.6 244.74h0.8M30.2 244.74h0.8M39 244.74h0.8M50.2 244.74h0.8M63 244.74h2.4M71 244.74h1.6M78.2 244.74h1.6M86.2 244.74h0.8M100.6 244.74h1.6M118.2 244.74h0.8M129.4 244.74h0.8M15.8 251.76h0.8M29.4 251.76h1.6M70.2 251.76h0.8M79.8 251.76h1.6M83.8 251.76h0.8M86.2 251.76h1.6M91.8 251.76h0.8M93.4 251.76h0.8M98.2 251.76h0.8M100.6 251.76h0.8M112.6 251.76h1.6M115 251.76h0.8M126.2 251.76h0.8M127.8 251.76h0.8M155.8 251.76h1.6M160.6 251.76h0.8M162.2 251.76h0.1M17.4 258.77h2.4M27.8 258.77h2.4M38.2 258.77h0.8M59.8 258.77h0.8M61.4 258.77h0.8M63.8 258.77h0.8M71.8 258.77h0.8M85.4 258.77h0.8M87 258.77h0.8M91.8 258.77h0.8M93.4 258.77h1.6M99 258.77h1.6M102.2 258.77h0.8M103.8 258.77h1.6M107 258.77h0.8M115.8 258.77h0.8M124.6 258.77h0.8M131 258.77h0.8M141.4 258.77h0.8M153.4 258.77h0.8M31.8 265.79h0.8M56.6 265.79h0.8M62.2 265.79h0.8M66.2 265.79h0.8M71 265.79h2.4M76.6 265.79h1.6M91.8 265.79h1.6M94.2 265.79h0.8M96.6 265.79h1.6M99.8 265.79h0.8M103.8 265.79h0.8M143.8 265.79h0.8M151 265.79h0.8M31 272.81h1.6M38.2 272.81h0.8M47.8 272.81h0.8M55 272.81h0.8M56.6 272.81h0.8M92.6 272.81h0.8M106.2 272.81h0.8M107.8 272.81h0.8M114.2 272.81h0.8M119 272.81h0.8M147 272.81h0.8M151 272.81h0.8M155 272.81h0.8M33.4 279.82h1.6M41.4 279.82h0.8M43 279.82h2.4M49.4 279.82h0.8M65.4 279.82h0.8M76.6 279.82h0.8M87 279.82h0.8M89.4 279.82h0.8M91.8 279.82h0.8M96.6 279.82h0.8M107.8 279.82h0.8M110.2 279.82h0.8M119 279.82h0.8M127.8 279.82h0.8M130.2 279.82h0.8M133.4 279.82h0.8M138.2 279.82h0.8M141.4 279.82h2.4M155 279.82h0.8M15.8 286.84h0.8M17.4 286.84h0.8M25.4 286.84h0.8M27 286.84h0.8M43 286.84h1.6M45.4 286.84h1.6M51 286.84h0.8M79.8 286.84h0.8M90.2 286.84h0.8M96.6 286.84h0.8M100.6 286.84h0.8M105.4 286.84h0.8M108.6 286.84h1.6M111 286.84h0.8M112.6 286.84h0.8M118.2 286.84h0.8M120.6 286.84h0.8M122.2 286.84h0.8M124.6 286.84h0.8M133.4 286.84h0.8M143.8 286.84h0.8M150.2 286.84h0.8M156.6 286.84h0.8M158.2 286.84h0.8M31.8 293.86h0.8M35.8 293.86h0.8M47.8 293.86h0.8M76.6 293.86h0.8M107.8 293.86h0.8M123 293.86h0.8M142.2 293.86h1.6M26.2 300.88h0.8M29.4 300.88h0.8M31.8 300.88h1.6M45.4 300.88h0.8M51 300.88h0.8M87 300.88h1.6M89.4 300.88h0.8M94.2 300.88h0.8M100.6 300.88h3.2M104.6 300.88h1.6M107.8 300.88h0.8M109.4 300.88h0.8M112.6 300.88h0.8M114.2 300.88h0.8M118.2 300.88h0.8M123 300.88h1.6M131 300.88h1.6M141.4 300.88h0.8M143.8 300.88h1.6M146.2 300.88h1.6M151.8 300.88h0.8M160.6 300.88h0.8M24.6 307.89h1.6M27.8 307.89h1.6M30.2 307.89h0.8M34.2 307.89h0.8M45.4 307.89h0.8M50.2 307.89h0.8M52.6 307.89h0.8M55 307.89h0.8M59.8 307.89h0.8M63.8 307.89h0.8M67 307.89h0.8M72.6 307.89h0.8M89.4 307.89h1.6M102.2 307.89h0.8M104.6 307.89h0.8M107.8 307.89h0.8M121.4 307.89h0.8M124.6 307.89h0.8M128.6 307.89h0.8M136.6 307.89h0.8M144.6 307.89h0.8M148.6 307.89h2.4M153.4 307.89h1.6"/>
<path stroke="#565524" stroke-width="7.02" d="M24.6 230.71h0.8M27.8 230.71h1.6M32.6 230.71h0.8M36.6 230.71h0.8M39 230.71h0.8M47 230.71h0.8M51 230.71h0.8M52.6 230.71h0.8M67 230.71h0.8M70.2 230.71h0.8M75.8 230.71h1.6M79 230.71h0.8M84.6 230.71h0.8M86.2 230.71h0.8M90.2 230.71h0.8M93.4 230.71h0.8M95 230.71h0.8M107 230.71h0.8M109.4 230.71h0.8M111 230.71h1.6M113.4 230.71h0.8M125.4 230.71h0.8M132.6 230.71h0.8M134.2 230.71h0.8M141.4 230.71h0.8M144.6 230.71h2.4M147.8 230.71h0.8M151.8 230.71h0.8M153.4 230.71h2.4M158.2 230.71h0.8M160.6 230.71h0.8M20.6 237.72h0.8M26.2 237.72h1.6M29.4 237.72h0.8M32.6 237.72h0.8M39.8 237.72h0.8M42.2 237.72h0.8M43.8 237.72h0.8M48.6 237.72h0.8M57.4 237.72h0.8M59.8 237.72h0.8M64.6 237.72h0.8M75.8 237.72h0.8M77.4 237.72h0.8M79.8 237.72h0.8M88.6 237.72h0.8M92.6 237.72h0.8M95.8 237.72h0.8M99 237.72h0.8M121.4 237.72h0.8M125.4 237.72h0.8M127.8 237.72h2.4M131 237.72h0.8M140.6 237.72h2.4M144.6 237.72h0.8M153.4 237.72h0.8M159 237.72h0.8M92.6 244.74h1.6M98.2 244.74h0.8M111 244.74h0.8M119 244.74h0.8M47.8 251.76h0.8M57.4 251.76h0.8M71.8 251.76h0.8M76.6 251.76h1.6M95 251.76h1.6M103.8 251.76h1.6M111.8 251.76h0.8M114.2 251.76h0.8M125.4 251.76h0.8M132.6 251.76h0.8M139.8 251.76h0.8M145.4 251.76h0.8M151.8 251.76h1.6M157.4 251.76h0.8M161.4 251.76h0.8M35 258.77h1.6M37.4 258.77h0.8M41.4 258.77h0.8M45.4 258.77h0.8M47.8 258.77h3.2M55.8 258.77h0.8M58.2 258.77h1.6M62.2 258.77h1.6M67 258.77h0.8M68.6 258.77h0.8M76.6 258.77h0.8M80.6 258.77h1.6M83.8 258.77h0.8M86.2 258.77h0.8M98.2 258.77h0.8M100.6 258.77h0.8M110.2 258.77h0.8M112.6 258.77h0.8M115 258.77h0.8M117.4 258.77h1.6M121.4 258.77h0.8M125.4 258.77h3.2M130.2 258.77h0.8M140.6 258.77h0.8M144.6 258.77h1.6M151.8 258.77h0.8M156.6 258.77h0.8M162.2 258.77h0.1M43.8 265.79h0.8M55.8 265.79h0.8M65.4 265.79h0.8M78.2 265.79h1.6M84.6 265.79h0.8M95 265.79h1.6M98.2 265.79h0.8M116.6 265.79h2.4M126.2 265.79h1.6M141.4 265.79h0.8M143 265.79h0.8M151.8 265.79h3.2M156.6 265.79h0.8M160.6 265.79h0.8M35.8 272.81h0.8M51 272.81h1.6M54.2 272.81h0.8M79 272.81h0.8M99 272.81h0.8M103 272.81h0.8M107 272.81h0.8M140.6 272.81h1.6M146.2 272.81h0.8M151.8 272.81h0.8M154.2 272.81h0.8M160.6 272.81h1.6M15.8 279.82h0.8M18.2 279.82h1.6M21.4 279.82h1.6M27 279.82h0.8M28.6 279.82h1.6M35 279.82h1.6M38.2 279.82h0.8M39.8 279.82h0.8M42.2 279.82h0.8M45.4 279.82h0.8M51 279.82h0.8M52.6 279.82h0.8M56.6 279.82h1.6M63.8 279.82h0.8M66.2 279.82h0.8M71.8 279.82h1.6M75.8 279.82h0.8M78.2 279.82h0.8M79.8 279.82h0.8M82.2 279.82h0.8M85.4 279.82h0.8M93.4 279.82h3.2M102.2 279.82h2.4M105.4 279.82h2.4M111 279.82h0.8M115.8 279.82h1.6M118.2 279.82h0.8M120.6 279.82h0.8M122.2 279.82h0.8M131 279.82h2.4M136.6 279.82h1.6M139 279.82h0.8M140.6 279.82h0.8M143.8 279.82h0.8M147 279.82h0.8M151.8 279.82h1.6M154.2 279.82h0.8M156.6 279.82h0.8M32.6 286.84h0.8M42.2 286.84h0.8M51.8 286.84h0.8M55 286.84h2.4M63.8 286.84h0.8M69.4 286.84h0.8M83 286.84h0.8M99 286.84h1.6M101.4 286.84h0.8M106.2 286.84h1.6M119 286.84h0.8M126.2 286.84h0.8M139 286.84h0.8M142.2 286.84h1.6M149.4 286.84h0.8M153.4 286.84h0.8M155.8 286.84h0.8M159 286.84h0.8M39 300.88h0.8M43.8 300.88h0.8M46.2 300.88h0.8M66.2 300.88h1.6M71 300.88h1.6M79 300.88h0.8M86.2 300.88h0.8M88.6 300.88h0.8M91.8 300.88h0.8M106.2 300.88h1.6M108.6 300.88h0.8M111 300.88h1.6M113.4 300.88h0.8M122.2 300.88h0.8M15.8 307.89h0.8M17.4 307.89h2.4M21.4 307.89h0.8M29.4 307.89h0.8M31 307.89h1.6M33.4 307.89h0.8M35 307.89h1.6M38.2 307.89h0.8M40.6 307.89h0.8M44.6 307.89h0.8M46.2 307.89h0.8M47.8 307.89h0.8M51 307.89h1.6M53.4 307.89h0.8M57.4 307.89h0.8M62.2 307.89h1.6M64.6 307.89h0.8M69.4 307.89h1.6M76.6 307.89h1.6M80.6 307.89h0.8M83 307.89h0.8M85.4 307.89h4M91.8 307.89h0.8M95.8 307.89h1.6M99.8 307.89h0.8M109.4 307.89h1.6M111.8 307.89h0.8M115 307.89h1.6M117.4 307.89h0.8M119.8 307.89h1.6M126.2 307.89h0.8M131 307.89h0.8M139 307.89h1.6M151 307.89h1.6M156.6 307.89h3.2M160.6 307.89h0.8"/>
<path stroke="#161618" stroke-width="7.02" d="M16.6 230.71h0.8M25.4 230.71h0.8M39.8 230.71h0.8M53.4 230.71h0.8M63.8 230.71h0.8M66.2 230.71h0.8M71.8 230.71h0.8M78.2 230.71h0.8M85.4 230.71h0.8M94.2 230.71h0.8M103 230.71h1.6M105.4 230.71h1.6M114.2 230.71h0.8M133.4 230.71h0.8M140.6 230.71h0.8M150.2 230.71h1.6M155.8 230.71h0.8M18.2 237.72h0.8M44.6 237.72h0.8M63 237.72h0.8M67 237.72h0.8M81.4 237.72h0.8M95 237.72h0.8M94.2 244.74h2.4M15 251.76h0.8M33.4 251.76h0.8M40.6 251.76h0.8M42.2 251.76h0.8M55.8 251.76h0.8M78.2 251.76h0.8M92.6 251.76h0.8M119 251.76h0.8M123.8 251.76h0.8M127 251.76h0.8M139 251.76h0.8M140.6 251.76h0.8M142.2 251.76h0.8M151 251.76h0.8M158.2 251.76h0.8M32.6 258.77h2.4M36.6 258.77h0.8M39 258.77h2.4M42.2 258.77h0.8M43.8 258.77h1.6M46.2 258.77h1.6M51 258.77h4.8M56.6 258.77h1.6M79 258.77h1.6M84.6 258.77h0.8M101.4 258.77h0.8M107.8 258.77h2.4M111 258.77h1.6M113.4 258.77h1.6M128.6 258.77h1.6M152.6 258.77h0.8M154.2 258.77h1.6M157.4 258.77h4.8M35.8 265.79h4.8M41.4 265.79h1.6M44.6 265.79h3.2M50.2 265.79h4M107.8 265.79h8.8M155 265.79h1.6M157.4 265.79h1.6M162.2 265.79h0.1M49.4 272.81h0.8M57.4 272.81h0.8M16.6 279.82h1.6M23 279.82h1.6M27.8 279.82h0.8M30.2 279.82h3.2M39 279.82h0.8M46.2 279.82h1.6M50.2 279.82h0.8M64.6 279.82h0.8M67 279.82h4.8M79 279.82h0.8M86.2 279.82h0.8M92.6 279.82h0.8M99.8 279.82h2.4M108.6 279.82h1.6M111.8 279.82h4M117.4 279.82h0.8M121.4 279.82h0.8M123 279.82h4.8M144.6 279.82h2.4M151 279.82h0.8M157.4 279.82h0.8M160.6 279.82h1.6M15 307.89h0.8M16.6 307.89h0.8M22.2 307.89h2.4M32.6 307.89h0.8M39 307.89h1.6M43 307.89h1.6M47 307.89h0.8M48.6 307.89h0.8M58.2 307.89h1.6M61.4 307.89h0.8M65.4 307.89h1.6M68.6 307.89h0.8M71 307.89h1.6M78.2 307.89h2.4M83.8 307.89h1.6M92.6 307.89h3.2M100.6 307.89h1.6M106.2 307.89h1.6M108.6 307.89h0.8M111 307.89h0.8M112.6 307.89h2.4M118.2 307.89h1.6M125.4 307.89h0.8M127 307.89h0.8M129.4 307.89h0.8M131.8 307.89h2.4M140.6 307.89h3.2M145.4 307.89h2.4"/>
<path stroke="#222868" stroke-width="7.02" d="M32.6 251.76h0.8M35 251.76h2.4M43 251.76h0.8M45.4 251.76h0.8M49.4 251.76h1.6M54.2 251.76h1.6"/>
<path stroke="#5c669e" stroke-width="7.02" d="M143 237.72h0.8"/>
<path stroke="#3a4eba" stroke-width="7.02" d="M17.4 230.71h0.8M31.8 230.71h0.8M46.2 230.71h0.8M49.4 230.71h0.8M71 230.71h0.8M89.4 230.71h0.8M148.6 230.71h1.6M152.6 230.71h0.8M156.6 230.71h1.6M15.8 237.72h2.4M27.8 237.72h1.6M31 237.72h1.6M36.6 237.72h0.8M39 237.72h0.8M43 237.72h0.8M52.6 237.72h1.6M55 237.72h2.4M71 237.72h1.6M78.2 237.72h1.6M89.4 237.72h0.8M91.8 237.72h0.8M99.8 237.72h16.8M117.4 237.72h2.4M123.8 237.72h1.6M127 237.72h0.8M132.6 237.72h1.6M145.4 237.72h0.8M151 237.72h2.4M154.2 237.72h4.8M159.8 237.72h2.5M31.8 251.76h0.8M37.4 251.76h3.2M43.8 251.76h1.6M46.2 251.76h1.6M51 251.76h3.2M58.2 251.76h1.6M63.8 251.76h2.4M71 251.76h0.8M79 251.76h0.8M84.6 251.76h1.6M105.4 251.76h4.8M111 251.76h0.8M117.4 251.76h1.6M123 251.76h0.8M133.4 251.76h0.8M141.4 251.76h0.8M153.4 251.76h2.4M39 272.81h1.6M44.6 272.81h3.2M50.2 272.81h0.8M52.6 272.81h0.8M18.2 286.84h1.6M27.8 286.84h0.8M30.2 286.84h2.4M36.6 286.84h0.8M39 286.84h2.4M44.6 286.84h0.8M52.6 286.84h0.8M59.8 286.84h0.8M64.6 286.84h0.8M66.2 286.84h3.2M71 286.84h1.6M78.2 286.84h1.6M81.4 286.84h1.6M83.8 286.84h4M89.4 286.84h0.8M91.8 286.84h1.6M97.4 286.84h1.6M103 286.84h1.6M114.2 286.84h1.6M121.4 286.84h0.8M125.4 286.84h0.8M139.8 286.84h2.4M151 286.84h2.4M154.2 286.84h1.6M15 293.86h4.8M20.6 293.86h3.2M27.8 293.86h0.8M64.6 293.86h0.8M78.2 293.86h1.6M101.4 293.86h0.8M114.2 293.86h0.8M125.4 293.86h1.6M145.4 293.86h1.6M150.2 293.86h0.8M151.8 293.86h1.6M154.2 293.86h0.8M155.8 293.86h3.2M160.6 293.86h0.8M39.8 300.88h0.8M49.4 300.88h0.8M51.8 300.88h2.4"/>
<path stroke="#6f76c2" stroke-width="0.6" stroke-opacity="0.75" d="M15.3 227.2V311.4"/>
<path stroke="#e6ec0e" stroke-width="7.02" d="M183 230.71h1.6M185.4 230.71h2.4M190.2 230.71h1.6M193.4 230.71h0.8M195.8 230.71h4M201.4 230.71h0.8M203 230.71h1.6M207 230.71h3.2M179 237.72h0.8M185.4 237.72h0.8M187 237.72h1.6M189.4 237.72h3.2M193.4 237.72h0.8M195.8 237.72h0.8M198.2 237.72h1.6M205.4 237.72h1.6M179 244.74h0.8M180.6 244.74h30M180.6 251.76h4.8M186.2 251.76h0.8M188.6 251.76h5.6M197.4 251.76h4.8M206.2 251.76h0.8M209.4 251.76h0.8M179 258.77h24M207 258.77h3.6M179 265.79h23.2M203 265.79h7.6M179 272.81h0.8M181.4 272.81h27.2M209.4 272.81h1.2M179.8 279.82h0.8M183.8 279.82h1.6M187 279.82h0.8M189.4 279.82h3.2M193.4 279.82h1.6M196.6 279.82h1.6M201.4 279.82h2.4M207.8 279.82h1.6M210.2 279.82h0.4M179 286.84h0.8M181.4 286.84h11.2M196.6 286.84h5.6M203.8 286.84h0.8M205.4 286.84h0.8M187 293.86h10.4M200.6 293.86h1.6M205.4 293.86h1.6M207.8 293.86h0.8M209.4 293.86h1.2M179 300.88h12M191.8 300.88h16.8M210.2 300.88h0.4M180.6 307.89h0.8M190.2 307.89h1.6M195.8 307.89h0.8M199 307.89h3.2"/>
<path stroke="#8e8c2a" stroke-width="7.02" d="M187.8 230.71h0.8M202.2 230.71h0.8M179.8 244.74h0.8M179 251.76h1.6M185.4 251.76h0.8M187 251.76h1.6M194.2 251.76h0.8M195.8 251.76h1.6M203 251.76h0.8M208.6 251.76h0.8M204.6 258.77h2.4M202.2 265.79h0.8M179.8 272.81h1.6M208.6 272.81h0.8M179 279.82h0.8M180.6 279.82h0.8M200.6 279.82h0.8M207 279.82h0.8M209.4 279.82h0.8M179.8 286.84h0.8M206.2 286.84h0.8M209.4 286.84h0.8M186.2 293.86h0.8M198.2 293.86h0.8M204.6 293.86h0.8M207 293.86h0.8M191 300.88h0.8M208.6 300.88h1.6"/>
<path stroke="#565524" stroke-width="7.02" d="M179 230.71h0.8M180.6 230.71h0.8M182.2 230.71h0.8M184.6 230.71h0.8M188.6 230.71h1.6M191.8 230.71h1.6M195 230.71h0.8M199.8 230.71h1.6M204.6 230.71h0.8M206.2 230.71h0.8M179.8 237.72h0.8M183.8 237.72h0.8M186.2 237.72h0.8M196.6 237.72h1.6M202.2 251.76h0.8M204.6 251.76h1.6M210.2 251.76h0.4M203 258.77h1.6M181.4 279.82h1.6M186.2 279.82h0.8M187.8 279.82h0.8M192.6 279.82h0.8M198.2 279.82h1.6M203.8 279.82h0.8M205.4 279.82h1.6M180.6 286.84h0.8M192.6 286.84h1.6M202.2 286.84h1.6M204.6 286.84h0.8M207 286.84h0.8M208.6 286.84h0.8M197.4 293.86h0.8M199 293.86h1.6M202.2 293.86h2.4M208.6 293.86h0.8M179.8 307.89h0.8M181.4 307.89h2.4M185.4 307.89h0.8M187 307.89h1.6M191.8 307.89h0.8M193.4 307.89h2.4M196.6 307.89h1.6M204.6 307.89h1.6"/>
<path stroke="#161618" stroke-width="7.02" d="M179.8 230.71h0.8M181.4 230.71h0.8M194.2 230.71h0.8M205.4 230.71h0.8M210.2 230.71h0.4M184.6 237.72h0.8M188.6 237.72h0.8M192.6 237.72h0.8M194.2 237.72h0.8M199.8 237.72h0.8M201.4 237.72h0.8M203 237.72h0.8M207 237.72h2.4M195 251.76h0.8M203.8 251.76h0.8M207 251.76h1.6M183 279.82h0.8M185.4 279.82h0.8M188.6 279.82h0.8M195 279.82h1.6M199.8 279.82h0.8M204.6 279.82h0.8M179 307.89h0.8M183.8 307.89h1.6M186.2 307.89h0.8M188.6 307.89h1.6M192.6 307.89h0.8M198.2 307.89h0.8M202.2 307.89h2.4M206.2 307.89h4.4"/>
<path stroke="#5c669e" stroke-width="7.02" d="M180.6 237.72h3.2M195 237.72h0.8M204.6 237.72h0.8M194.2 286.84h2.4M207.8 286.84h0.8M210.2 286.84h0.4M182.2 293.86h0.8M184.6 293.86h1.6"/>
<path stroke="#3a4eba" stroke-width="7.02" d="M200.6 237.72h0.8M202.2 237.72h0.8M203.8 237.72h0.8M209.4 237.72h1.2M179 293.86h3.2M183 293.86h1.6"/>
<path stroke="#6f76c2" stroke-width="0.6" stroke-opacity="0.75" d="M179.3 227.2V311.4"/>
<path stroke="#e6ec0e" stroke-width="7.02" d="M242.8 230.71h1.6M255.6 230.71h1.6M281.2 230.71h0.8M299.6 230.71h0.8M304.4 230.71h0.2M230 237.72h1.6M233.2 237.72h1.6M237.2 237.72h0.8M243.6 237.72h0.8M246 237.72h5.6M260.4 237.72h1.6M263.6 237.72h0.8M268.4 237.72h1.6M271.6 237.72h3.2M276.4 237.72h2.4M281.2 237.72h3.2M289.2 237.72h6.4M231.6 251.76h1.6M282.8 251.76h1.6M289.2 251.76h2.4M226 258.77h2.4M226 272.81h2.4M230 272.81h2.4M234 272.81h1.6M246.8 272.81h3.2M257.2 272.81h0.8M266.8 272.81h0.8M277.2 272.81h1.6M298.8 272.81h0.8M237.2 286.84h0.8M242.8 286.84h0.8M250 286.84h0.8M271.6 286.84h0.8M294 286.84h1.6M302.8 286.84h0.8M226.8 300.88h1.6M230 300.88h1.6M248.4 300.88h1.6M277.2 300.88h1.6M287.6 300.88h0.8M290.8 300.88h0.8M302.8 300.88h1.6"/>
<path stroke="#8e8c2a" stroke-width="7.02" d="M226.8 230.71h0.8M232.4 230.71h1.6M239.6 230.71h0.8M246 230.71h1.6M250.8 230.71h1.6M261.2 230.71h1.6M266.8 230.71h0.8M271.6 230.71h1.6M276.4 230.71h1.6M280.4 230.71h0.8M283.6 230.71h2.4M286.8 230.71h0.8M290 230.71h1.6M292.4 230.71h3.2M298 230.71h1.6M300.4 230.71h0.8M303.6 230.71h0.8M231.6 237.72h1.6M240.4 237.72h1.6M245.2 237.72h0.8M254.8 237.72h0.8M258 237.72h0.8M262 237.72h0.8M264.4 237.72h0.8M274.8 237.72h1.6M286 237.72h0.8M295.6 237.72h0.8M297.2 237.72h0.8M250 244.74h1.6M257.2 244.74h0.8M281.2 244.74h2.4M226.8 251.76h0.8M240.4 251.76h1.6M248.4 251.76h0.8M250 251.76h1.6M257.2 251.76h4M265.2 251.76h0.8M276.4 251.76h1.6M282 251.76h0.8M291.6 251.76h0.8M228.4 258.77h3.2M235.6 258.77h0.8M276.4 258.77h2.4M228.4 272.81h1.6M232.4 272.81h1.6M250 272.81h0.8M281.2 272.81h0.8M289.2 272.81h0.8M250.8 279.82h0.8M261.2 279.82h1.6M272.4 279.82h0.8M274.8 279.82h1.6M280.4 279.82h4M294.8 279.82h0.8M227.6 286.84h0.8M232.4 286.84h0.8M238 286.84h0.8M243.6 286.84h0.8M250.8 286.84h0.8M265.2 286.84h1.6M270.8 286.84h0.8M278 286.84h1.6M295.6 286.84h0.8M303.6 286.84h0.8M227.6 293.86h0.8M261.2 293.86h1.6M266.8 293.86h0.8M278 293.86h0.8M283.6 293.86h2.4M294 293.86h0.8M226 300.88h0.8M228.4 300.88h1.6M246 300.88h0.8M250 300.88h1.6M258 300.88h0.8M261.2 300.88h0.8M270 300.88h0.8M278.8 300.88h0.8M281.2 300.88h2.4M286.8 300.88h0.8M288.4 300.88h0.8M290 300.88h0.8M294 300.88h2.4M304.4 300.88h0.2"/>
<path stroke="#161618" stroke-width="7.02" d="M231.6 258.77h1.6M234 258.77h1.6M236.4 258.77h2.4M240.4 258.77h3.2M246 258.77h0.8M248.4 258.77h4M253.2 258.77h2.4M256.4 258.77h6.4M266 258.77h1.6M268.4 258.77h2.4M271.6 258.77h4.8M278.8 258.77h0.8M280.4 258.77h20M302 258.77h2.6M226.8 265.79h0.8M232.4 265.79h0.8M238.8 265.79h6.4M246 265.79h1.6M248.4 265.79h3.2M258 265.79h1.6M262 265.79h0.8M263.6 265.79h4M269.2 265.79h0.8M270.8 265.79h3.2M275.6 265.79h2.4M280.4 265.79h4M286.8 265.79h4.8M294 265.79h1.6M303.6 265.79h0.8M227.6 279.82h0.8M234 279.82h0.8M237.2 279.82h2.4M240.4 279.82h0.8M242.8 279.82h1.6M246 279.82h1.6M251.6 279.82h0.8M254.8 279.82h6.4M262.8 279.82h0.8M266.8 279.82h0.8M271.6 279.82h0.8M273.2 279.82h1.6M276.4 279.82h4M288.4 279.82h3.2M293.2 279.82h1.6M295.6 279.82h4.8M302.8 279.82h1.8M236.4 307.89h2.4M243.6 307.89h0.8M248.4 307.89h3.2M255.6 307.89h2.4M262.8 307.89h3.2M280.4 307.89h15.2M297.2 307.89h2.4M302 307.89h2.6"/>
<path stroke="#222868" stroke-width="7.02" d="M227.6 251.76h0.8M233.2 251.76h0.8M238 251.76h2.4M242 251.76h2.4M246.8 251.76h1.6M249.2 251.76h0.8M251.6 251.76h0.8M256.4 251.76h0.8M262.8 251.76h2.4M266 251.76h2.4M271.6 251.76h4.8M278 251.76h4M288.4 251.76h0.8M292.4 251.76h1.6M295.6 251.76h1.6M298.8 251.76h0.8M233.2 258.77h0.8M238.8 258.77h1.6M243.6 258.77h2.4M246.8 258.77h1.6M252.4 258.77h0.8M255.6 258.77h0.8M262.8 258.77h3.2M267.6 258.77h0.8M270.8 258.77h0.8M279.6 258.77h0.8M300.4 258.77h1.6M226 265.79h0.8M227.6 265.79h4.8M233.2 265.79h5.6M245.2 265.79h0.8M247.6 265.79h0.8M251.6 265.79h1.6M254 265.79h2.4M257.2 265.79h0.8M259.6 265.79h2.4M262.8 265.79h0.8M267.6 265.79h1.6M270 265.79h0.8M274 265.79h1.6M278 265.79h2.4M284.4 265.79h2.4M291.6 265.79h2.4M295.6 265.79h8M304.4 265.79h0.2M226 279.82h1.6M228.4 279.82h5.6M234.8 279.82h2.4M239.6 279.82h0.8M241.2 279.82h1.6M244.4 279.82h1.6M247.6 279.82h3.2M252.4 279.82h2.4M263.6 279.82h3.2M267.6 279.82h4M284.4 279.82h4M291.6 279.82h1.6M300.4 279.82h2.4M234 300.88h0.8M240.4 300.88h1.6M245.2 300.88h0.8M251.6 300.88h0.8M254 300.88h4M258.8 300.88h0.8M260.4 300.88h0.8M264.4 300.88h0.8M269.2 300.88h0.8M271.6 300.88h1.6M276.4 300.88h0.8M279.6 300.88h1.6M286 300.88h0.8M289.2 300.88h0.8M291.6 300.88h0.8M293.2 300.88h0.8M296.4 300.88h0.8M299.6 300.88h1.6M302 300.88h0.8M226 307.89h10.4M238.8 307.89h4.8M244.4 307.89h4M251.6 307.89h4M258 307.89h4.8M266 307.89h14.4M295.6 307.89h1.6M299.6 307.89h2.4"/>
<path stroke="#5c669e" stroke-width="7.02" d="M250 230.71h0.8M258.8 230.71h0.8M262.8 230.71h0.8M264.4 230.71h2.4M278 230.71h0.8M286 230.71h0.8M291.6 230.71h0.8M302.8 230.71h0.8M227.6 237.72h1.6M236.4 237.72h0.8M238 237.72h0.8M242.8 237.72h0.8M244.4 237.72h0.8M254 237.72h0.8M257.2 237.72h0.8M262.8 237.72h0.8M270.8 237.72h0.8M280.4 237.72h0.8M285.2 237.72h0.8M296.4 237.72h0.8M298 237.72h4.8M244.4 244.74h0.8M249.2 244.74h0.8M280.4 244.74h0.8M303.6 244.74h0.8M253.2 265.79h0.8M256.4 265.79h0.8M241.2 272.81h0.8M250.8 272.81h0.8M260.4 272.81h0.8M266 272.81h0.8M272.4 272.81h0.8M276.4 272.81h0.8M278.8 272.81h0.8M282 272.81h0.8M242.8 293.86h0.8M258 293.86h0.8M298.8 293.86h0.8"/>
<path stroke="#3a4eba" stroke-width="7.02" d="M226 230.71h0.8M227.6 230.71h4.8M234 230.71h5.6M240.4 230.71h2.4M244.4 230.71h1.6M247.6 230.71h2.4M252.4 230.71h3.2M257.2 230.71h1.6M259.6 230.71h1.6M263.6 230.71h0.8M267.6 230.71h4M273.2 230.71h3.2M278.8 230.71h1.6M282 230.71h1.6M287.6 230.71h2.4M295.6 230.71h2.4M301.2 230.71h1.6M226 237.72h1.6M229.2 237.72h0.8M234.8 237.72h1.6M238.8 237.72h1.6M242 237.72h0.8M251.6 237.72h2.4M255.6 237.72h1.6M258.8 237.72h1.6M265.2 237.72h3.2M270 237.72h0.8M278.8 237.72h1.6M284.4 237.72h0.8M286.8 237.72h2.4M302.8 237.72h1.8M226 244.74h18.4M245.2 244.74h4M251.6 244.74h5.6M258 244.74h22.4M283.6 244.74h20M304.4 244.74h0.2M226 251.76h0.8M228.4 251.76h3.2M234 251.76h4M244.4 251.76h2.4M252.4 251.76h4M261.2 251.76h1.6M268.4 251.76h3.2M284.4 251.76h4M294 251.76h1.6M297.2 251.76h1.6M299.6 251.76h5M235.6 272.81h5.6M242 272.81h4.8M251.6 272.81h5.6M258 272.81h2.4M261.2 272.81h4.8M267.6 272.81h4.8M273.2 272.81h3.2M279.6 272.81h1.6M282.8 272.81h6.4M290 272.81h8.8M299.6 272.81h5M226 286.84h1.6M228.4 286.84h4M233.2 286.84h4M238.8 286.84h4M244.4 286.84h5.6M251.6 286.84h13.6M266.8 286.84h4M272.4 286.84h5.6M279.6 286.84h14.4M296.4 286.84h6.4M304.4 286.84h0.2M226 293.86h1.6M228.4 293.86h14.4M243.6 293.86h14.4M258.8 293.86h2.4M262.8 293.86h4M267.6 293.86h10.4M278.8 293.86h4.8M286 293.86h8M294.8 293.86h4M299.6 293.86h5M231.6 300.88h2.4M234.8 300.88h5.6M242 300.88h3.2M246.8 300.88h1.6M252.4 300.88h1.6M259.6 300.88h0.8M262 300.88h2.4M265.2 300.88h4M270.8 300.88h0.8M273.2 300.88h3.2M283.6 300.88h2.4M292.4 300.88h0.8M297.2 300.88h2.4M301.2 300.88h0.8"/>
<path stroke="#6f76c2" stroke-width="0.6" stroke-opacity="0.75" d="M226.3 227.2V311.4"/>
<path stroke="#e6ec0e" stroke-width="4.11" d="M9 366.96h0.6M10.2 366.96h0.6M11.4 366.96h1.8M13.8 366.96h0.6M16.2 366.96h0.6M19.2 366.96h0.6M20.4 366.96h1.8M22.8 366.96h0.6M24 366.96h1.2M25.8 366.96h1.8M28.2 366.96h1.2M31.8 366.96h1.2M33.6 366.96h0.6M35.4 366.96h1.8M38.4 366.96h0.6M40.8 366.96h1.2M43.2 366.96h1.2M45 366.96h1.2M49.2 366.96h0.6M50.4 366.96h0.6M52.2 366.96h0.6M54 366.96h1.2M12 371.07h2.4M16.2 371.07h1.2M19.8 371.07h1.8M22.2 371.07h0.6M24 371.07h1.2M25.8 371.07h2.4M28.8 371.07h1.2M31.2 371.07h3.6M36 371.07h1.2M37.8 371.07h0.6M40.8 371.07h2.4M43.8 371.07h1.2M45.6 371.07h0.6M46.8 371.07h0.6M48.6 371.07h2.4M52.2 371.07h0.6M53.4 371.07h0.6M54.6 371.07h0.6M9 375.18h3.6M13.2 375.18h4.2M18 375.18h0.6M20.4 375.18h3M24 375.18h3.6M28.2 375.18h3M31.8 375.18h2.4M34.8 375.18h4.2M40.2 375.18h4.2M45 375.18h1.8M48 375.18h3M52.2 375.18h1.8M54.6 375.18h1.2M12 379.29h0.6M13.8 379.29h1.2M16.2 379.29h0.6M18 379.29h0.6M20.4 379.29h1.8M24 379.29h3M33.6 379.29h0.6M36 379.29h1.2M37.8 379.29h1.2M40.8 379.29h0.6M43.8 379.29h2.4M46.8 379.29h0.6M49.2 379.29h0.6M54.6 379.29h0.6M9 383.4h0.6M12 383.4h0.6M14.4 383.4h0.6M15.6 383.4h1.2M18.6 383.4h4.8M24.6 383.4h3.6M29.4 383.4h0.6M33.6 383.4h1.8M36 383.4h1.2M37.8 383.4h0.6M40.8 383.4h3.6M45 383.4h1.2M46.8 383.4h0.6M48.6 383.4h1.2M50.4 383.4h0.6M54 383.4h1.2M9 387.51h22.2M31.8 387.51h7.8M40.2 387.51h6M46.8 387.51h0.6M52.2 387.51h0.6M53.4 387.51h0.6M54.6 387.51h1.2M9 391.62h36M45.6 391.62h1.2M47.4 391.62h0.6M48.6 391.62h1.8M9 395.74h0.6M10.2 395.74h5.4M16.2 395.74h2.4M19.2 395.74h12M31.8 395.74h8.4M40.8 395.74h6M47.4 395.74h3M54.6 395.74h0.6M9 399.85h1.2M10.8 399.85h6.6M18.6 399.85h0.6M19.8 399.85h13.2M33.6 399.85h5.4M40.2 399.85h10.8M51.6 399.85h4.2M9 403.96h1.2M10.8 403.96h0.6M12 403.96h3M16.2 403.96h0.6M20.4 403.96h1.2M22.8 403.96h1.2M25.8 403.96h2.4M28.8 403.96h1.2M33.6 403.96h1.8M36 403.96h3M40.8 403.96h0.6M43.8 403.96h0.6M45 403.96h1.2M48.6 403.96h1.2M50.4 403.96h0.6M52.2 403.96h0.6M54.6 403.96h0.6M9 408.07h0.6M10.2 408.07h0.6M12 408.07h1.2M13.8 408.07h0.6M16.2 408.07h0.6M18 408.07h1.2M20.4 408.07h1.8M24 408.07h1.2M25.8 408.07h1.8M28.8 408.07h1.2M31.8 408.07h0.6M33 408.07h1.2M36 408.07h1.2M37.8 408.07h0.6M40.8 408.07h5.4M47.4 408.07h1.2M49.2 408.07h1.2M52.2 408.07h0.6M54 408.07h1.2M9 412.18h6M15.6 412.18h1.8M19.2 412.18h3M23.4 412.18h7.8M31.8 412.18h7.2M40.8 412.18h3.6M45 412.18h3M48.6 412.18h3M52.2 412.18h1.2M54 412.18h1.8M9 416.29h0.6M10.2 416.29h0.6M11.4 416.29h6M18 416.29h1.2M19.8 416.29h10.8M31.2 416.29h1.8M33.6 416.29h6.6M40.8 416.29h0.6M42.6 416.29h0.6M43.8 416.29h0.6M45 416.29h2.4M48.6 416.29h2.4M52.2 416.29h0.6M53.4 416.29h1.8M9 420.41h6M15.6 420.41h1.8M18 420.41h21M40.8 420.41h7.2M48.6 420.41h3M52.2 420.41h0.6M53.4 420.41h2.4M9 424.52h1.8M11.4 424.52h7.2M19.2 424.52h3M22.8 424.52h0.6M24 424.52h10.8M36 424.52h1.2M37.8 424.52h1.2M40.8 424.52h1.2M42.6 424.52h0.6M43.8 424.52h0.6M45 424.52h3M48.6 424.52h1.2M50.4 424.52h0.6M52.2 424.52h0.6M54.6 424.52h0.6M10.8 428.63h1.8M13.8 428.63h1.2M16.2 428.63h0.6M20.4 428.63h2.4M23.4 428.63h0.6M25.8 428.63h1.2M32.4 428.63h0.6M33.6 428.63h1.2M36 428.63h1.2M38.4 428.63h0.6M40.8 428.63h0.6M43.8 428.63h0.6M45.6 428.63h0.6M46.8 428.63h0.6M52.2 428.63h0.6M9 432.74h0.6M10.8 432.74h1.8M13.2 432.74h1.2M15.6 432.74h1.8M18 432.74h1.8M20.4 432.74h1.2M23.4 432.74h4.2M28.2 432.74h1.8M31.2 432.74h7.8M40.8 432.74h2.4M43.8 432.74h0.6M45 432.74h1.2M47.4 432.74h0.6M48.6 432.74h1.2M52.2 432.74h0.6M54.6 432.74h0.6M9 436.85h1.8M12 436.85h0.6M13.2 436.85h3.6M18 436.85h0.6M20.4 436.85h1.8M24 436.85h5.4M31.8 436.85h1.2M33.6 436.85h0.6M36 436.85h1.2M40.8 436.85h1.2M42.6 436.85h1.8M45 436.85h1.2M46.8 436.85h0.6M48.6 436.85h1.2M52.2 436.85h0.6M54 436.85h1.2M9 440.96h0.6M12 440.96h0.6M13.8 440.96h1.2M16.2 440.96h1.2M19.2 440.96h3.6M24.6 440.96h1.2M27 440.96h1.8M29.4 440.96h1.2M31.8 440.96h2.4M35.4 440.96h3.6M40.8 440.96h6M47.4 440.96h0.6M49.2 440.96h1.8M52.2 440.96h1.2M54.6 440.96h0.6M9 445.07h8.4M18 445.07h7.8M26.4 445.07h2.4M29.4 445.07h0.6M30.6 445.07h8.4M40.2 445.07h7.2M48 445.07h3.6M52.2 445.07h3M9 449.19h0.6M10.2 449.19h3.6M15 449.19h0.6M16.2 449.19h1.2M19.2 449.19h0.6M20.4 449.19h1.8M22.8 449.19h2.4M25.8 449.19h1.2M33 449.19h1.2M36 449.19h1.2M40.8 449.19h0.6M42 449.19h2.4M45 449.19h1.2M46.8 449.19h0.6M48.6 449.19h1.2M52.2 449.19h0.6M54.6 449.19h0.6M9 453.3h1.8M11.4 453.3h3M16.2 453.3h0.6M20.4 453.3h1.2M22.2 453.3h0.6M23.4 453.3h6.6M33.6 453.3h0.6M36 453.3h0.6M37.8 453.3h0.6M40.8 453.3h0.6M43.2 453.3h1.2M45.6 453.3h0.6M49.2 453.3h0.6M54.6 453.3h0.6M9.6 457.41h5.4M16.2 457.41h1.2M18 457.41h0.6M19.8 457.41h1.8M22.8 457.41h6M29.4 457.41h0.6M30.6 457.41h8.4M40.2 457.41h4.2M45 457.41h1.8M47.4 457.41h4.2M52.2 457.41h0.6M53.4 457.41h1.8M12 461.52h0.6M20.4 461.52h1.2M22.2 461.52h0.6M26.4 461.52h1.2M28.2 461.52h0.6M33.6 461.52h1.2M36 461.52h1.2M40.8 461.52h0.6M43.2 461.52h1.2M45.6 461.52h1.2M49.2 461.52h0.6M54 461.52h1.2M10.2 465.63h4.2M15.6 465.63h1.8M19.8 465.63h11.4M31.8 465.63h7.2M40.8 465.63h1.2M42.6 465.63h3.6M49.2 465.63h1.8M52.2 465.63h0.6M53.4 465.63h0.6M54.6 465.63h1.2M10.2 469.74h3M13.8 469.74h1.2M16.2 469.74h1.2M18.6 469.74h0.6M20.4 469.74h1.2M24 469.74h4.2M30 469.74h0.6M31.8 469.74h2.4M34.8 469.74h0.6M36 469.74h1.2M37.8 469.74h1.2M40.8 469.74h1.2M43.2 469.74h3.6M48.6 469.74h2.4M52.2 469.74h0.6M54 469.74h1.8"/>
<path stroke="#8e8c2a" stroke-width="4.11" d="M9.6 366.96h0.6M10.8 366.96h0.6M13.2 366.96h0.6M14.4 366.96h0.6M18.6 366.96h0.6M22.2 366.96h0.6M25.2 366.96h0.6M27.6 366.96h0.6M33 366.96h0.6M34.2 366.96h0.6M37.8 366.96h0.6M42.6 366.96h0.6M44.4 366.96h0.6M46.2 366.96h1.2M48.6 366.96h0.6M49.8 366.96h0.6M10.8 371.07h1.2M14.4 371.07h0.6M18 371.07h0.6M21.6 371.07h0.6M22.8 371.07h1.2M25.2 371.07h0.6M38.4 371.07h0.6M45 371.07h0.6M46.2 371.07h0.6M55.2 371.07h0.6M12.6 375.18h0.6M17.4 375.18h0.6M19.8 375.18h0.6M23.4 375.18h0.6M27.6 375.18h0.6M44.4 375.18h0.6M46.8 375.18h0.6M51.6 375.18h0.6M54 375.18h0.6M10.2 379.29h0.6M11.4 379.29h0.6M13.2 379.29h0.6M19.2 379.29h0.6M28.8 379.29h0.6M48.6 379.29h0.6M51 379.29h0.6M52.2 379.29h0.6M10.2 383.4h1.2M13.2 383.4h1.2M16.8 383.4h0.6M24 383.4h0.6M28.8 383.4h0.6M31.2 383.4h0.6M38.4 383.4h0.6M44.4 383.4h0.6M52.2 383.4h0.6M53.4 383.4h0.6M31.2 387.51h0.6M9.6 395.74h0.6M15.6 395.74h0.6M18.6 395.74h0.6M31.2 395.74h0.6M40.2 395.74h0.6M10.2 399.85h0.6M18 399.85h0.6M39 399.85h0.6M51 399.85h0.6M18 403.96h0.6M19.8 403.96h0.6M24.6 403.96h1.2M32.4 403.96h0.6M41.4 403.96h0.6M10.8 408.07h0.6M13.2 408.07h0.6M14.4 408.07h0.6M15.6 408.07h0.6M17.4 408.07h0.6M22.2 408.07h0.6M23.4 408.07h0.6M25.2 408.07h0.6M30.6 408.07h0.6M34.8 408.07h0.6M38.4 408.07h0.6M46.2 408.07h1.2M48.6 408.07h0.6M50.4 408.07h0.6M15 412.18h0.6M17.4 412.18h1.2M22.2 412.18h0.6M31.2 412.18h0.6M39 412.18h0.6M40.2 412.18h0.6M48 412.18h0.6M51.6 412.18h0.6M53.4 412.18h0.6M9.6 416.29h0.6M10.8 416.29h0.6M17.4 416.29h0.6M19.2 416.29h0.6M30.6 416.29h0.6M15 420.41h0.6M17.4 420.41h0.6M39.6 420.41h1.2M48 420.41h0.6M51.6 420.41h0.6M10.8 424.52h0.6M23.4 424.52h0.6M35.4 424.52h0.6M37.2 424.52h0.6M42 424.52h0.6M43.2 424.52h0.6M44.4 424.52h0.6M9 428.63h1.8M12.6 428.63h0.6M15 428.63h1.2M18.6 428.63h0.6M24 428.63h0.6M28.8 428.63h1.2M34.8 428.63h0.6M37.8 428.63h0.6M42.6 428.63h0.6M49.2 428.63h1.2M51 428.63h0.6M54.6 428.63h0.6M12.6 432.74h0.6M14.4 432.74h0.6M19.8 432.74h0.6M21.6 432.74h0.6M22.8 432.74h0.6M27.6 432.74h0.6M11.4 436.85h0.6M12.6 436.85h0.6M19.2 436.85h0.6M29.4 436.85h0.6M37.8 436.85h1.2M44.4 436.85h0.6M46.2 436.85h0.6M47.4 436.85h1.2M50.4 436.85h0.6M53.4 436.85h0.6M55.2 436.85h0.6M9.6 440.96h1.8M12.6 440.96h1.2M15 440.96h0.6M17.4 440.96h0.6M18.6 440.96h0.6M22.8 440.96h0.6M24 440.96h0.6M26.4 440.96h0.6M28.8 440.96h0.6M30.6 440.96h0.6M34.2 440.96h1.2M40.2 440.96h0.6M46.8 440.96h0.6M48.6 440.96h0.6M51 440.96h0.6M53.4 440.96h1.2M17.4 445.07h0.6M25.8 445.07h0.6M28.8 445.07h0.6M30 445.07h0.6M39 445.07h1.2M47.4 445.07h0.6M51.6 445.07h0.6M55.2 445.07h0.6M9.6 449.19h0.6M13.8 449.19h1.2M22.2 449.19h0.6M14.4 453.3h0.6M16.8 453.3h1.8M19.2 453.3h0.6M21.6 453.3h0.6M31.8 453.3h0.6M38.4 453.3h0.6M49.8 453.3h0.6M54 453.3h0.6M55.2 453.3h0.6M9 457.41h0.6M15 457.41h1.2M17.4 457.41h0.6M18.6 457.41h1.2M21.6 457.41h1.2M30 457.41h0.6M44.4 457.41h0.6M46.8 457.41h0.6M52.8 457.41h0.6M9 465.63h1.2M14.4 465.63h1.2M19.2 465.63h0.6M42 465.63h0.6M46.2 465.63h1.2M48.6 465.63h0.6M9 469.74h1.2M13.2 469.74h0.6M15 469.74h0.6M18 469.74h0.6M21.6 469.74h0.6M22.8 469.74h0.6M28.8 469.74h1.2M31.2 469.74h0.6M34.2 469.74h0.6M35.4 469.74h0.6M42.6 469.74h0.6"/>
<path stroke="#565524" stroke-width="4.11" d="M23.4 366.96h0.6M34.8 366.96h0.6M37.2 366.96h0.6M42 366.96h0.6M51 366.96h0.6M9.6 371.07h1.2M15.6 371.07h0.6M19.2 371.07h0.6M28.2 371.07h0.6M30 371.07h0.6M34.8 371.07h0.6M37.2 371.07h0.6M40.2 371.07h0.6M52.8 371.07h0.6M54 371.07h0.6M9 379.29h0.6M15 379.29h0.6M27 379.29h1.8M29.4 379.29h0.6M31.8 379.29h1.8M35.4 379.29h0.6M41.4 379.29h1.2M46.2 379.29h0.6M47.4 379.29h0.6M50.4 379.29h0.6M52.8 379.29h0.6M55.2 379.29h0.6M9.6 383.4h0.6M15 383.4h0.6M28.2 383.4h0.6M30 383.4h1.2M35.4 383.4h0.6M47.4 383.4h0.6M11.4 403.96h0.6M15 403.96h0.6M17.4 403.96h0.6M22.2 403.96h0.6M28.2 403.96h0.6M31.2 403.96h1.2M35.4 403.96h0.6M44.4 403.96h0.6M47.4 403.96h0.6M49.8 403.96h0.6M51 403.96h0.6M53.4 403.96h0.6M11.4 408.07h0.6M15 408.07h0.6M16.8 408.07h0.6M19.2 408.07h0.6M28.2 408.07h0.6M31.2 408.07h0.6M34.2 408.07h0.6M37.2 408.07h0.6M53.4 408.07h0.6M55.2 408.07h0.6M18.6 424.52h0.6M22.2 424.52h0.6M34.8 424.52h0.6M54 424.52h0.6M13.2 428.63h0.6M16.8 428.63h0.6M19.2 428.63h0.6M25.2 428.63h0.6M27.6 428.63h1.2M30.6 428.63h0.6M35.4 428.63h0.6M37.2 428.63h0.6M41.4 428.63h1.2M43.2 428.63h0.6M45 428.63h0.6M9.6 432.74h1.2M15 432.74h0.6M17.4 432.74h0.6M22.2 432.74h0.6M30 432.74h1.2M43.2 432.74h0.6M46.8 432.74h0.6M10.8 436.85h0.6M16.8 436.85h1.2M18.6 436.85h0.6M19.8 436.85h0.6M22.2 436.85h1.8M30 436.85h0.6M33 436.85h0.6M34.2 436.85h1.8M37.2 436.85h0.6M39 436.85h0.6M42 436.85h0.6M49.8 436.85h0.6M52.8 436.85h0.6M11.4 440.96h0.6M15.6 440.96h0.6M18 440.96h0.6M23.4 440.96h0.6M25.8 440.96h0.6M31.2 440.96h0.6M39 440.96h1.2M48 440.96h0.6M51.6 440.96h0.6M55.2 440.96h0.6M15.6 449.19h0.6M17.4 449.19h1.8M19.8 449.19h0.6M27 449.19h0.6M28.8 449.19h0.6M35.4 449.19h0.6M38.4 449.19h0.6M40.2 449.19h0.6M41.4 449.19h0.6M44.4 449.19h0.6M46.2 449.19h0.6M47.4 449.19h1.2M49.8 449.19h1.2M9 461.52h0.6M12.6 461.52h0.6M13.8 461.52h0.6M19.2 461.52h1.2M22.8 461.52h0.6M24 461.52h0.6M25.8 461.52h0.6M27.6 461.52h0.6M37.2 461.52h0.6M38.4 461.52h0.6M42 461.52h0.6M46.8 461.52h0.6M50.4 461.52h0.6M52.2 461.52h0.6"/>
<path stroke="#161618" stroke-width="4.11" d="M39 432.74h0.6M40.2 432.74h0.6M44.4 432.74h0.6M46.2 432.74h0.6M49.8 432.74h1.2M54 432.74h0.6M30.6 436.85h1.2M39.6 436.85h1.2M51 436.85h1.2M25.2 449.19h0.6M27.6 449.19h1.2M29.4 449.19h3.6M34.2 449.19h1.2M37.2 449.19h1.2M39 449.19h0.6M52.8 449.19h1.8M55.2 449.19h0.6M9.6 461.52h0.6M10.8 461.52h0.6M13.2 461.52h0.6M14.4 461.52h4.8M21.6 461.52h0.6M23.4 461.52h0.6M24.6 461.52h1.2M28.8 461.52h1.2M30.6 461.52h3M34.8 461.52h1.2M37.8 461.52h0.6M39 461.52h0.6M40.2 461.52h0.6M41.4 461.52h0.6M42.6 461.52h0.6M44.4 461.52h1.2M47.4 461.52h1.8M49.8 461.52h0.6M51 461.52h0.6M53.4 461.52h0.6M55.2 461.52h0.6"/>
<path stroke="#5c669e" stroke-width="4.11" d="M15 366.96h1.2M30.6 366.96h1.2M40.2 366.96h0.6M53.4 366.96h0.6M55.2 366.96h0.6M9 371.07h0.6M15 371.07h0.6M18.6 371.07h0.6M30.6 371.07h0.6M35.4 371.07h0.6M39 371.07h0.6M43.2 371.07h0.6M48 371.07h0.6M18.6 375.18h1.2M31.2 375.18h0.6M34.2 375.18h0.6M47.4 375.18h0.6M12.6 379.29h0.6M15.6 379.29h0.6M16.8 379.29h1.2M18.6 379.29h0.6M22.2 379.29h0.6M37.2 379.29h0.6M42.6 379.29h1.2M48 379.29h0.6M49.8 379.29h0.6M54 379.29h0.6M12.6 383.4h0.6M18 383.4h0.6M23.4 383.4h0.6M31.8 383.4h0.6M33 383.4h0.6M46.2 383.4h0.6M48 383.4h0.6M49.8 383.4h0.6M51 383.4h1.2M52.8 383.4h0.6M55.2 383.4h0.6M39.6 387.51h0.6M47.4 387.51h3.6M45 391.62h0.6M48 391.62h0.6M50.4 391.62h0.6M52.2 391.62h0.6M54.6 391.62h1.2M46.8 395.74h0.6M50.4 395.74h0.6M53.4 395.74h1.2M55.2 395.74h0.6M17.4 399.85h0.6M19.2 399.85h0.6M33 399.85h0.6M39.6 399.85h0.6M10.2 403.96h0.6M21.6 403.96h0.6M24 403.96h0.6M30 403.96h0.6M39 403.96h0.6M42 403.96h0.6M43.2 403.96h0.6M46.2 403.96h1.2M48 403.96h0.6M54 403.96h0.6M9.6 408.07h0.6M19.8 408.07h0.6M22.8 408.07h0.6M27.6 408.07h0.6M30 408.07h0.6M32.4 408.07h0.6M35.4 408.07h0.6M39 408.07h0.6M51 408.07h0.6M52.8 408.07h0.6M18.6 412.18h0.6M22.8 412.18h0.6M39.6 412.18h0.6M44.4 412.18h0.6M33 416.29h0.6M42 416.29h0.6M44.4 416.29h0.6M52.8 416.29h0.6M55.2 416.29h0.6M39 420.41h0.6M52.8 420.41h0.6M39 424.52h0.6M48 424.52h0.6M49.8 424.52h0.6M52.8 424.52h0.6M18 428.63h0.6M19.8 428.63h0.6M22.8 428.63h0.6M24.6 428.63h0.6M27 428.63h0.6M30 428.63h0.6M31.8 428.63h0.6M33 428.63h0.6M39 428.63h0.6M46.2 428.63h0.6M48.6 428.63h0.6M50.4 428.63h0.6M51.6 428.63h0.6M52.8 428.63h1.2M55.2 428.63h0.6M39.6 432.74h0.6M48 432.74h0.6M51 432.74h1.2M52.8 432.74h1.2M55.2 432.74h0.6M39.6 449.19h0.6M51 449.19h1.2M10.8 453.3h0.6M15 453.3h1.2M19.8 453.3h0.6M22.8 453.3h0.6M30 453.3h1.2M33 453.3h0.6M34.2 453.3h0.6M35.4 453.3h0.6M36.6 453.3h1.2M41.4 453.3h0.6M45 453.3h0.6M46.2 453.3h0.6M48.6 453.3h0.6M52.2 453.3h0.6M28.8 457.41h0.6M39 457.41h1.2M51.6 457.41h0.6M55.2 457.41h0.6M10.2 461.52h0.6M11.4 461.52h0.6M30 461.52h0.6M39.6 461.52h0.6M51.6 461.52h0.6M52.8 461.52h0.6M17.4 465.63h0.6M18.6 465.63h0.6M31.2 465.63h0.6M40.2 465.63h0.6M47.4 465.63h1.2M54 465.63h0.6M15.6 469.74h0.6M17.4 469.74h0.6M19.2 469.74h1.2M22.2 469.74h0.6M23.4 469.74h0.6M28.2 469.74h0.6M42 469.74h0.6M46.8 469.74h1.2M51 469.74h1.2M53.4 469.74h0.6"/>
<path stroke="#3a4eba" stroke-width="4.11" d="M16.8 366.96h1.8M19.8 366.96h0.6M29.4 366.96h1.2M39 366.96h1.2M47.4 366.96h1.2M51.6 366.96h0.6M52.8 366.96h0.6M17.4 371.07h0.6M39.6 371.07h0.6M47.4 371.07h0.6M51 371.07h1.2M39 375.18h1.2M51 375.18h0.6M9.6 379.29h0.6M10.8 379.29h0.6M19.8 379.29h0.6M22.8 379.29h1.2M30 379.29h1.8M34.2 379.29h1.2M39 379.29h1.8M51.6 379.29h0.6M53.4 379.29h0.6M11.4 383.4h0.6M17.4 383.4h0.6M32.4 383.4h0.6M37.2 383.4h0.6M39 383.4h1.8M46.2 387.51h0.6M51 387.51h1.2M52.8 387.51h0.6M54 387.51h0.6M46.8 391.62h0.6M51 391.62h1.2M52.8 391.62h1.8M51 395.74h2.4M15.6 403.96h0.6M16.8 403.96h0.6M18.6 403.96h1.2M30.6 403.96h0.6M33 403.96h0.6M39.6 403.96h1.2M42.6 403.96h0.6M51.6 403.96h0.6M52.8 403.96h0.6M55.2 403.96h0.6M39.6 408.07h1.2M51.6 408.07h0.6M40.2 416.29h0.6M41.4 416.29h0.6M43.2 416.29h0.6M47.4 416.29h1.2M51 416.29h1.2M39.6 424.52h1.2M51 424.52h1.2M53.4 424.52h0.6M55.2 424.52h0.6M17.4 428.63h0.6M31.2 428.63h0.6M39.6 428.63h1.2M44.4 428.63h0.6M47.4 428.63h1.2M54 428.63h0.6M18.6 453.3h0.6M31.2 453.3h0.6M32.4 453.3h0.6M34.8 453.3h0.6M39 453.3h1.8M42 453.3h1.2M44.4 453.3h0.6M46.8 453.3h1.8M50.4 453.3h1.8M52.8 453.3h1.2M18 465.63h0.6M39 465.63h1.2M51 465.63h1.2M52.8 465.63h0.6M30.6 469.74h0.6M37.2 469.74h0.6M39 469.74h1.8M48 469.74h0.6M52.8 469.74h0.6"/>
<path stroke="#6f76c2" stroke-width="0.6" stroke-opacity="0.75" d="M9.3 364.9V471.8"/>
<path stroke="#5a66c0" stroke-width="0.7" stroke-opacity="0.8" d="M55.45 364.9V471.8"/>
<path stroke="#e6ec0e" stroke-width="4.11" d="M72 366.96h4.2M77.4 366.96h1.2M79.2 366.96h3.6M84 366.96h0.6M87 366.96h1.8M89.4 366.96h1.8M93.6 366.96h1.8M97.8 366.96h0.6M99 366.96h2.4M102 366.96h1.2M104.4 366.96h1.2M109.2 366.96h0.6M110.4 366.96h2.4M114.6 366.96h5.4M120.6 366.96h1.8M123 366.96h0.6M124.8 366.96h0.6M126 366.96h1.2M127.8 366.96h1.8M132.6 366.96h0.6M133.8 366.96h1.8M136.2 366.96h2.4M139.8 366.96h0.5M72 371.07h3.6M77.4 371.07h1.2M79.8 371.07h1.2M81.6 371.07h1.8M84 371.07h0.6M87 371.07h1.2M89.4 371.07h1.8M93 371.07h2.4M96 371.07h0.6M97.8 371.07h0.6M100.2 371.07h0.6M103.8 371.07h1.8M109.2 371.07h0.6M110.4 371.07h0.6M111.6 371.07h1.2M116.4 371.07h1.8M119.4 371.07h3M123.6 371.07h3.6M128.4 371.07h1.2M131.4 371.07h0.6M133.2 371.07h1.8M136.8 371.07h1.8M139.8 371.07h0.5M72 375.18h0.6M73.2 375.18h3M77.4 375.18h1.8M79.8 375.18h3.6M84 375.18h1.8M87.6 375.18h0.6M89.4 375.18h1.2M93.6 375.18h1.2M99 375.18h0.6M104.4 375.18h1.2M106.2 375.18h0.6M109.2 375.18h0.6M110.4 375.18h2.4M113.4 375.18h0.6M116.4 375.18h2.4M119.4 375.18h3M124.8 375.18h1.8M127.8 375.18h1.8M130.2 375.18h0.6M131.4 375.18h1.2M133.8 375.18h2.4M136.8 375.18h1.8M139.2 375.18h1.1M74.4 379.29h1.2M77.4 379.29h1.8M82.2 379.29h3.6M87.6 379.29h1.2M89.4 379.29h1.2M93.6 379.29h1.8M99 379.29h1.2M100.8 379.29h0.6M103.8 379.29h1.8M109.2 379.29h0.6M110.4 379.29h0.6M112.8 379.29h0.6M116.4 379.29h4.2M124.8 379.29h2.4M128.4 379.29h2.4M132.6 379.29h0.6M133.8 379.29h1.8M136.8 379.29h1.8M72 383.4h0.6M73.2 383.4h6M79.8 383.4h3.6M84 383.4h0.6M85.2 383.4h1.8M87.6 383.4h4.2M92.4 383.4h4.2M99.6 383.4h1.8M104.4 383.4h1.2M109.2 383.4h0.6M110.4 383.4h2.4M114 383.4h0.6M115.8 383.4h3M119.4 383.4h3.6M124.2 383.4h3M127.8 383.4h3M132 383.4h3.6M136.8 383.4h3.5M72 387.51h19.2M92.4 387.51h4.8M97.8 387.51h9M108.6 387.51h1.2M110.4 387.51h8.4M119.4 387.51h3.6M123.6 387.51h7.8M132.6 387.51h7.7M72 391.62h25.2M97.8 391.62h5.4M103.8 391.62h2.4M107.4 391.62h32.9M72 395.74h68.3M72 399.85h14.4M87 399.85h1.8M89.4 399.85h1.8M91.8 399.85h5.4M98.4 399.85h8.4M109.2 399.85h3.6M114 399.85h8.4M123.6 399.85h3.6M127.8 399.85h5.4M133.8 399.85h6.5M72 403.96h1.2M73.8 403.96h1.8M76.8 403.96h2.4M80.4 403.96h1.2M82.8 403.96h1.2M85.2 403.96h0.6M87.6 403.96h1.2M89.4 403.96h1.8M92.4 403.96h3M99 403.96h0.6M100.2 403.96h3M103.8 403.96h1.8M106.2 403.96h0.6M110.4 403.96h3M114.6 403.96h0.6M115.8 403.96h2.4M119.4 403.96h0.6M121.2 403.96h1.2M124.8 403.96h2.4M129 403.96h0.6M131.4 403.96h0.6M133.8 403.96h1.8M136.8 403.96h1.8M139.8 403.96h0.5M72 408.07h0.6M73.2 408.07h2.4M76.2 408.07h2.4M80.4 408.07h1.2M82.2 408.07h0.6M83.4 408.07h1.2M85.2 408.07h0.6M87.6 408.07h0.6M89.4 408.07h1.8M92.4 408.07h1.8M94.8 408.07h0.6M96.6 408.07h0.6M97.8 408.07h0.6M99 408.07h1.2M102 408.07h1.2M104.4 408.07h1.2M106.2 408.07h0.6M110.4 408.07h1.2M112.2 408.07h1.2M114.6 408.07h0.6M116.4 408.07h2.4M119.4 408.07h0.6M121.2 408.07h1.8M124.2 408.07h3.6M128.4 408.07h0.6M130.2 408.07h0.6M133.8 408.07h1.2M136.8 408.07h1.2M138.6 408.07h1.2M72 412.18h0.6M73.2 412.18h2.4M76.2 412.18h2.4M79.8 412.18h1.8M82.2 412.18h1.2M85.2 412.18h0.6M87.6 412.18h1.2M89.4 412.18h1.2M92.4 412.18h1.2M96 412.18h0.6M100.2 412.18h0.6M102 412.18h1.2M103.8 412.18h0.6M105 412.18h1.2M110.4 412.18h2.4M113.4 412.18h0.6M114.6 412.18h0.6M116.4 412.18h1.8M118.8 412.18h3.6M124.8 412.18h1.2M128.4 412.18h0.6M130.2 412.18h0.6M132.6 412.18h0.6M133.8 412.18h1.8M136.8 412.18h1.2M139.8 412.18h0.5M72 416.29h3.6M77.4 416.29h1.8M79.8 416.29h3.6M87 416.29h1.2M89.4 416.29h1.2M94.8 416.29h0.6M99 416.29h1.8M102 416.29h0.6M104.4 416.29h1.8M110.4 416.29h0.6M111.6 416.29h1.2M116.4 416.29h6M124.8 416.29h1.8M128.4 416.29h1.2M130.2 416.29h0.6M132.6 416.29h0.6M133.8 416.29h1.8M136.8 416.29h0.6M138 416.29h0.6M72 420.41h14.4M87.6 420.41h1.2M89.4 420.41h2.4M92.4 420.41h0.6M93.6 420.41h3.6M97.8 420.41h9.6M109.2 420.41h0.6M110.4 420.41h3.6M115.2 420.41h3.6M119.4 420.41h3M123.6 420.41h0.6M125.4 420.41h1.8M128.4 420.41h1.2M130.2 420.41h1.2M132.6 420.41h0.6M133.8 420.41h6.5M72 424.52h0.6M73.2 424.52h3M76.8 424.52h1.8M79.8 424.52h3.6M84 424.52h0.6M87.6 424.52h1.2M89.4 424.52h1.2M93 424.52h1.2M94.8 424.52h0.6M96 424.52h0.6M99 424.52h1.8M104.4 424.52h1.2M109.2 424.52h0.6M111.6 424.52h1.2M114.6 424.52h0.6M116.4 424.52h6M123.6 424.52h0.6M125.4 424.52h0.6M128.4 424.52h1.2M132 424.52h1.2M133.8 424.52h1.2M136.2 424.52h1.2M138 424.52h0.6M139.8 424.52h0.5M73.2 428.63h2.4M77.4 428.63h1.8M79.8 428.63h1.8M84 428.63h0.6M86.4 428.63h0.6M87.6 428.63h0.6M89.4 428.63h1.2M93 428.63h1.2M99 428.63h1.8M102 428.63h0.6M104.4 428.63h1.2M110.4 428.63h2.4M116.4 428.63h0.6M117.6 428.63h0.6M119.4 428.63h1.2M121.2 428.63h0.6M128.4 428.63h0.6M130.2 428.63h0.6M131.4 428.63h0.6M135 428.63h0.6M136.8 428.63h0.6M138.6 428.63h1.7M72 432.74h3.6M77.4 432.74h3.6M81.6 432.74h1.2M84 432.74h0.6M85.2 432.74h3.6M89.4 432.74h1.2M92.4 432.74h1.8M94.8 432.74h2.4M99.6 432.74h0.6M100.8 432.74h0.6M103.8 432.74h1.8M106.2 432.74h0.6M109.2 432.74h0.6M110.4 432.74h1.8M116.4 432.74h6.6M124.8 432.74h1.8M128.4 432.74h0.6M132.6 432.74h0.6M133.8 432.74h2.4M136.8 432.74h0.6M138 432.74h0.6M139.8 432.74h0.5M72 436.85h3.6M77.4 436.85h1.8M80.4 436.85h5.4M86.4 436.85h5.4M93 436.85h0.6M94.8 436.85h0.6M96 436.85h1.2M99 436.85h1.8M102 436.85h1.2M104.4 436.85h1.2M106.2 436.85h0.6M109.2 436.85h0.6M110.4 436.85h2.4M114 436.85h1.8M116.4 436.85h6M125.4 436.85h1.2M127.8 436.85h1.8M133.8 436.85h1.8M139.2 436.85h1.1M72 440.96h3.6M77.4 440.96h6M84 440.96h3M87.6 440.96h3M93 440.96h2.4M96 440.96h1.2M98.4 440.96h0.6M100.2 440.96h3.6M104.4 440.96h2.4M107.4 440.96h0.6M109.2 440.96h0.6M110.4 440.96h2.4M113.4 440.96h9.6M124.2 440.96h4.8M132 440.96h3M135.6 440.96h0.6M136.8 440.96h3M72 445.07h12.6M85.2 445.07h0.6M86.4 445.07h5.4M92.4 445.07h10.2M103.2 445.07h2.4M106.2 445.07h0.6M107.4 445.07h2.4M110.4 445.07h0.6M111.6 445.07h2.4M114.6 445.07h8.4M124.2 445.07h3M127.8 445.07h3M131.4 445.07h8.9M72 449.19h1.2M74.4 449.19h1.2M81 449.19h1.8M87.6 449.19h1.2M89.4 449.19h1.2M93.6 449.19h0.6M94.8 449.19h0.6M96 449.19h0.6M102 449.19h1.2M103.8 449.19h1.8M110.4 449.19h0.6M111.6 449.19h1.2M116.4 449.19h0.6M117.6 449.19h0.6M119.4 449.19h1.2M121.2 449.19h1.2M124.8 449.19h1.2M128.4 449.19h0.6M130.2 449.19h0.6M133.8 449.19h1.2M136.8 449.19h0.6M72 453.3h3.6M77.4 453.3h1.8M80.4 453.3h1.2M82.2 453.3h0.6M83.4 453.3h1.8M87.6 453.3h3M93 453.3h1.2M94.8 453.3h2.4M99 453.3h0.6M102.6 453.3h0.6M105 453.3h1.2M107.4 453.3h0.6M110.4 453.3h2.4M115.2 453.3h0.6M116.4 453.3h1.8M118.8 453.3h3M124.2 453.3h3M128.4 453.3h0.6M130.2 453.3h0.6M134.4 453.3h0.6M136.8 453.3h0.6M138 453.3h1.2M72 457.41h7.2M79.8 457.41h4.8M85.2 457.41h1.2M87.6 457.41h3M91.2 457.41h0.6M92.4 457.41h4.2M97.8 457.41h6M104.4 457.41h2.4M109.2 457.41h0.6M110.4 457.41h2.4M114.6 457.41h1.2M116.4 457.41h2.4M119.4 457.41h3.6M124.2 457.41h3M127.8 457.41h3M131.4 457.41h8.9M72 461.52h0.6M73.2 461.52h3M77.4 461.52h4.2M82.8 461.52h0.6M87.6 461.52h1.2M89.4 461.52h1.2M93 461.52h3M99.6 461.52h0.6M104.4 461.52h0.6M108.6 461.52h1.2M110.4 461.52h1.2M112.2 461.52h0.6M116.4 461.52h2.4M119.4 461.52h3.6M123.6 461.52h0.6M124.8 461.52h1.8M129 461.52h0.6M132.6 461.52h0.6M133.8 461.52h1.8M136.2 461.52h1.2M138 461.52h0.6M72 465.63h4.8M77.4 465.63h1.8M79.8 465.63h3.6M84 465.63h1.2M86.4 465.63h0.6M87.6 465.63h1.2M89.4 465.63h7.8M97.8 465.63h3.6M103.8 465.63h3M109.2 465.63h0.6M110.4 465.63h5.4M116.4 465.63h3.6M120.6 465.63h2.4M124.8 465.63h2.4M127.8 465.63h1.2M130.2 465.63h0.6M132.6 465.63h3M136.8 465.63h2.4M139.8 465.63h0.5M72 469.74h0.6M73.8 469.74h2.4M77.4 469.74h1.8M79.8 469.74h4.8M87.6 469.74h3.6M92.4 469.74h1.8M94.8 469.74h1.2M98.4 469.74h3.6M103.8 469.74h2.4M109.2 469.74h0.6M110.4 469.74h3M114.6 469.74h0.6M115.8 469.74h3M119.4 469.74h3M123 469.74h4.2M127.8 469.74h1.8M131.4 469.74h1.8M133.8 469.74h2.4M136.8 469.74h3.5"/>
<path stroke="#8e8c2a" stroke-width="4.11" d="M78.6 366.96h0.6M83.4 366.96h0.6M88.8 366.96h0.6M91.2 366.96h0.6M93 366.96h0.6M95.4 366.96h0.6M108.6 366.96h0.6M122.4 366.96h0.6M125.4 366.96h0.6M133.2 366.96h0.6M138.6 366.96h1.2M78.6 371.07h1.2M84.6 371.07h0.6M88.2 371.07h0.6M92.4 371.07h0.6M95.4 371.07h0.6M96.6 371.07h0.6M99 371.07h1.2M102.6 371.07h0.6M108.6 371.07h0.6M109.8 371.07h0.6M114.6 371.07h0.6M118.2 371.07h1.2M127.2 371.07h0.6M132.6 371.07h0.6M135 371.07h0.6M72.6 375.18h0.6M83.4 375.18h0.6M85.8 375.18h0.6M90.6 375.18h0.6M94.8 375.18h0.6M97.2 375.18h0.6M99.6 375.18h0.6M100.8 375.18h0.6M112.8 375.18h0.6M115.8 375.18h0.6M126.6 375.18h0.6M130.8 375.18h0.6M132.6 375.18h0.6M73.8 379.29h0.6M75.6 379.29h1.2M79.2 379.29h0.6M80.4 379.29h0.6M81.6 379.29h0.6M86.4 379.29h0.6M88.8 379.29h0.6M92.4 379.29h0.6M96.6 379.29h0.6M102 379.29h1.8M111 379.29h1.8M120.6 379.29h1.8M139.2 379.29h0.6M72.6 383.4h0.6M79.2 383.4h0.6M84.6 383.4h0.6M96.6 383.4h0.6M99 383.4h0.6M102.6 383.4h1.8M105.6 383.4h2.4M113.4 383.4h0.6M114.6 383.4h1.2M118.8 383.4h0.6M123.6 383.4h0.6M136.2 383.4h0.6M91.2 387.51h0.6M108 387.51h0.6M109.8 387.51h0.6M123 387.51h0.6M131.4 387.51h1.2M97.2 391.62h0.6M103.2 391.62h0.6M106.2 391.62h1.2M86.4 399.85h0.6M88.8 399.85h0.6M91.2 399.85h0.6M97.2 399.85h1.2M106.8 399.85h2.4M112.8 399.85h1.2M122.4 399.85h1.2M127.2 399.85h0.6M133.2 399.85h0.6M73.2 403.96h0.6M82.2 403.96h0.6M91.2 403.96h0.6M105.6 403.96h0.6M118.2 403.96h0.6M120 403.96h1.2M124.2 403.96h0.6M129.6 403.96h0.6M139.2 403.96h0.6M75.6 408.07h0.6M81.6 408.07h0.6M82.8 408.07h0.6M84.6 408.07h0.6M94.2 408.07h0.6M96 408.07h0.6M98.4 408.07h0.6M100.2 408.07h0.6M103.8 408.07h0.6M105.6 408.07h0.6M109.2 408.07h0.6M111.6 408.07h0.6M118.8 408.07h0.6M120 408.07h0.6M123.6 408.07h0.6M130.8 408.07h0.6M135 408.07h0.6M139.8 408.07h0.5M72.6 412.18h0.6M79.2 412.18h0.6M91.2 412.18h0.6M93.6 412.18h0.6M99.6 412.18h0.6M104.4 412.18h0.6M123.6 412.18h1.2M126 412.18h0.6M75.6 416.29h1.2M84 416.29h0.6M86.4 416.29h0.6M88.2 416.29h0.6M91.2 416.29h0.6M96 416.29h1.2M102.6 416.29h0.6M107.4 416.29h0.6M114 416.29h1.2M115.8 416.29h0.6M124.2 416.29h0.6M127.8 416.29h0.6M135.6 416.29h1.2M137.4 416.29h0.6M139.8 416.29h0.5M86.4 420.41h0.6M93 420.41h0.6M97.2 420.41h0.6M109.8 420.41h0.6M114.6 420.41h0.6M124.2 420.41h1.2M127.8 420.41h0.6M133.2 420.41h0.6M72.6 424.52h0.6M86.4 424.52h0.6M94.2 424.52h0.6M98.4 424.52h0.6M110.4 424.52h0.6M126.6 424.52h0.6M129.6 424.52h0.6M137.4 424.52h0.6M138.6 424.52h1.2M72 428.63h0.6M75.6 428.63h0.6M85.8 428.63h0.6M88.2 428.63h0.6M90.6 428.63h0.6M92.4 428.63h0.6M98.4 428.63h0.6M114.6 428.63h0.6M117 428.63h0.6M118.2 428.63h0.6M138 428.63h0.6M75.6 432.74h1.2M82.8 432.74h0.6M90.6 432.74h0.6M99 432.74h0.6M102 432.74h0.6M115.8 432.74h0.6M129 432.74h0.6M137.4 432.74h0.6M75.6 436.85h0.6M79.8 436.85h0.6M85.8 436.85h0.6M93.6 436.85h1.2M95.4 436.85h0.6M98.4 436.85h0.6M100.8 436.85h0.6M105.6 436.85h0.6M108.6 436.85h0.6M124.8 436.85h0.6M126.6 436.85h0.6M129.6 436.85h1.2M132.6 436.85h0.6M135.6 436.85h0.6M136.8 436.85h2.4M75.6 440.96h0.6M76.8 440.96h0.6M83.4 440.96h0.6M87 440.96h0.6M92.4 440.96h0.6M95.4 440.96h0.6M97.2 440.96h1.2M99 440.96h1.2M108 440.96h1.2M112.8 440.96h0.6M123.6 440.96h0.6M129 440.96h0.6M136.2 440.96h0.6M84.6 445.07h0.6M85.8 445.07h0.6M91.8 445.07h0.6M102.6 445.07h0.6M105.6 445.07h0.6M106.8 445.07h0.6M109.8 445.07h0.6M111 445.07h0.6M114 445.07h0.6M123 445.07h1.2M127.2 445.07h0.6M130.8 445.07h0.6M76.2 453.3h0.6M82.8 453.3h0.6M86.4 453.3h0.6M92.4 453.3h0.6M97.8 453.3h0.6M100.2 453.3h0.6M104.4 453.3h0.6M106.2 453.3h0.6M109.2 453.3h0.6M114.6 453.3h0.6M115.8 453.3h0.6M118.2 453.3h0.6M121.8 453.3h0.6M129 453.3h1.2M130.8 453.3h0.6M135.6 453.3h0.6M137.4 453.3h0.6M84.6 457.41h0.6M86.4 457.41h1.2M96.6 457.41h1.2M103.8 457.41h0.6M109.8 457.41h0.6M114 457.41h0.6M115.8 457.41h0.6M127.2 457.41h0.6M130.8 457.41h0.6M76.8 465.63h0.6M85.8 465.63h0.6M88.8 465.63h0.6M97.2 465.63h0.6M107.4 465.63h0.6M109.8 465.63h0.6M120 465.63h0.6M123 465.63h1.2M127.2 465.63h0.6M129.6 465.63h0.6M130.8 465.63h1.2M139.2 465.63h0.6M73.2 469.74h0.6M76.2 469.74h1.2M84.6 469.74h1.2M94.2 469.74h0.6M96 469.74h1.2M97.8 469.74h0.6M102 469.74h0.6M109.8 469.74h0.6M114 469.74h0.6M115.2 469.74h0.6M118.8 469.74h0.6M133.2 469.74h0.6M136.2 469.74h0.6"/>
<path stroke="#565524" stroke-width="4.11" d="M76.2 366.96h1.2M84.6 366.96h2.4M91.8 366.96h1.2M96.6 366.96h0.6M101.4 366.96h0.6M107.4 366.96h0.6M109.8 366.96h0.6M112.8 366.96h1.8M120 366.96h0.6M123.6 366.96h0.6M127.2 366.96h0.6M130.2 366.96h1.2M135.6 366.96h0.6M75.6 371.07h1.2M81 371.07h0.6M83.4 371.07h0.6M85.2 371.07h0.6M91.2 371.07h0.6M97.2 371.07h0.6M102 371.07h0.6M106.2 371.07h0.6M107.4 371.07h1.2M111 371.07h0.6M112.8 371.07h0.6M115.2 371.07h1.2M122.4 371.07h0.6M130.2 371.07h0.6M132 371.07h0.6M136.2 371.07h0.6M138.6 371.07h1.2M76.2 375.18h0.6M87 375.18h0.6M88.2 375.18h1.2M91.2 375.18h0.6M92.4 375.18h1.2M96 375.18h1.2M102 375.18h2.4M108.6 375.18h0.6M109.8 375.18h0.6M114 375.18h0.6M115.2 375.18h0.6M118.8 375.18h0.6M122.4 375.18h0.6M124.2 375.18h0.6M127.2 375.18h0.6M133.2 375.18h0.6M136.2 375.18h0.6M138.6 375.18h0.6M72 379.29h0.6M73.2 379.29h0.6M81 379.29h0.6M85.8 379.29h0.6M91.2 379.29h0.6M93 379.29h0.6M96 379.29h0.6M114.6 379.29h0.6M123.6 379.29h1.2M130.8 379.29h0.6M87 383.4h0.6M97.8 383.4h1.2M102 383.4h0.6M109.8 383.4h0.6M75.6 403.96h0.6M97.8 403.96h0.6M123.6 403.96h0.6M132 403.96h0.6M72.6 408.07h0.6M79.2 408.07h0.6M85.8 408.07h0.6M87 408.07h0.6M109.8 408.07h0.6M115.2 408.07h0.6M120.6 408.07h0.6M129 408.07h0.6M131.4 408.07h1.2M135.6 408.07h1.2M138 408.07h0.6M83.4 416.29h0.6M94.2 416.29h0.6M100.8 416.29h0.6M108.6 416.29h0.6M112.8 416.29h0.6M123 416.29h1.2M76.2 424.52h0.6M84.6 424.52h0.6M102.6 424.52h0.6M133.2 424.52h0.6M76.8 428.63h0.6M81.6 428.63h1.2M84.6 428.63h0.6M87 428.63h0.6M88.8 428.63h0.6M94.2 428.63h0.6M103.2 428.63h0.6M109.2 428.63h1.2M123 428.63h0.6M124.8 428.63h1.8M127.2 428.63h0.6M132 428.63h1.2M137.4 428.63h0.6M76.8 432.74h0.6M81 432.74h0.6M84.6 432.74h0.6M88.8 432.74h0.6M91.2 432.74h1.2M94.2 432.74h0.6M100.2 432.74h0.6M102.6 432.74h0.6M109.8 432.74h0.6M112.2 432.74h0.6M115.2 432.74h0.6M123.6 432.74h0.6M129.6 432.74h1.2M132 432.74h0.6M139.2 432.74h0.6M79.2 436.85h0.6M97.2 436.85h1.2M103.8 436.85h0.6M109.8 436.85h0.6M112.8 436.85h1.2M122.4 436.85h0.6M123.6 436.85h0.6M127.2 436.85h0.6M136.2 436.85h0.6M73.2 449.19h0.6M75.6 449.19h0.6M77.4 449.19h1.2M80.4 449.19h0.6M82.8 449.19h0.6M85.8 449.19h0.6M92.4 449.19h1.2M94.2 449.19h0.6M96.6 449.19h0.6M99 449.19h1.2M101.4 449.19h0.6M105.6 449.19h0.6M111 449.19h0.6M115.8 449.19h0.6M117 449.19h0.6M118.8 449.19h0.6M126.6 449.19h0.6M129 449.19h0.6M132.6 449.19h0.6M135.6 449.19h0.6M137.4 449.19h1.2M79.2 457.41h0.6M90.6 457.41h0.6M91.8 457.41h0.6M106.8 457.41h2.4M112.8 457.41h1.2M118.8 457.41h0.6M123 457.41h1.2M72.6 461.52h0.6M81.6 461.52h1.2M83.4 461.52h1.8M85.8 461.52h1.8M91.2 461.52h0.6M96.6 461.52h0.6M99 461.52h0.6M100.2 461.52h0.6M102 461.52h0.6M106.2 461.52h0.6M107.4 461.52h0.6M111.6 461.52h0.6M112.8 461.52h0.6M118.8 461.52h0.6M123 461.52h0.6M128.4 461.52h0.6M130.2 461.52h0.6"/>
<path stroke="#161618" stroke-width="4.11" d="M98.4 371.07h0.6M105.6 371.07h0.6M76.8 375.18h0.6M79.2 375.18h0.6M91.8 375.18h0.6M95.4 375.18h0.6M97.8 375.18h0.6M100.2 375.18h0.6M101.4 375.18h0.6M105.6 375.18h0.6M107.4 375.18h1.2M114.6 375.18h0.6M123.6 375.18h0.6M129.6 375.18h0.6M83.4 432.74h0.6M97.2 432.74h1.8M101.4 432.74h0.6M103.2 432.74h0.6M105.6 432.74h0.6M106.8 432.74h2.4M112.8 432.74h2.4M123 432.74h0.6M124.2 432.74h0.6M126.6 432.74h1.8M130.8 432.74h1.2M133.2 432.74h0.6M136.2 432.74h0.6M138.6 432.74h0.6M76.2 436.85h1.2M91.8 436.85h1.2M101.4 436.85h0.6M103.2 436.85h0.6M106.8 436.85h1.8M115.8 436.85h0.6M123 436.85h0.6M124.2 436.85h0.6M130.8 436.85h1.8M133.2 436.85h0.6M73.8 449.19h0.6M76.2 449.19h1.2M78.6 449.19h1.8M83.4 449.19h2.4M86.4 449.19h1.2M88.8 449.19h0.6M90.6 449.19h1.8M95.4 449.19h0.6M97.2 449.19h1.8M100.2 449.19h1.2M103.2 449.19h0.6M106.2 449.19h4.2M112.8 449.19h3M118.2 449.19h0.6M120.6 449.19h0.6M122.4 449.19h2.4M126 449.19h0.6M127.2 449.19h1.2M129.6 449.19h0.6M130.8 449.19h1.8M133.2 449.19h0.6M135 449.19h0.6M136.2 449.19h0.6M138.6 449.19h1.7M76.2 461.52h1.2M85.2 461.52h0.6M88.8 461.52h0.6M90.6 461.52h0.6M91.8 461.52h1.2M96 461.52h0.6M97.2 461.52h1.8M100.8 461.52h1.2M102.6 461.52h1.8M105 461.52h1.2M106.8 461.52h0.6M108 461.52h0.6M109.8 461.52h0.6M113.4 461.52h3M124.2 461.52h0.6M126.6 461.52h1.8M129.6 461.52h0.6M130.8 461.52h1.8M133.2 461.52h0.6M135.6 461.52h0.6M137.4 461.52h0.6M138.6 461.52h1.7"/>
<path stroke="#5c669e" stroke-width="4.11" d="M98.4 366.96h0.6M103.8 366.96h0.6M105.6 366.96h0.6M129.6 366.96h0.6M131.4 366.96h1.2M76.8 371.07h0.6M85.8 371.07h1.2M91.8 371.07h0.6M100.8 371.07h0.6M103.2 371.07h0.6M106.8 371.07h0.6M114 371.07h0.6M123 371.07h0.6M127.8 371.07h0.6M130.8 371.07h0.6M135.6 371.07h0.6M86.4 375.18h0.6M98.4 375.18h0.6M106.8 375.18h0.6M123 375.18h0.6M72.6 379.29h0.6M76.8 379.29h0.6M79.8 379.29h0.6M91.8 379.29h0.6M97.2 379.29h0.6M100.2 379.29h0.6M101.4 379.29h0.6M107.4 379.29h1.2M109.8 379.29h0.6M113.4 379.29h0.6M115.2 379.29h0.6M133.2 379.29h0.6M138.6 379.29h0.6M139.8 379.29h0.5M97.2 383.4h0.6M101.4 383.4h0.6M108 383.4h1.2M112.8 383.4h0.6M123 383.4h0.6M127.2 383.4h0.6M130.8 383.4h1.2M135.6 383.4h0.6M91.8 387.51h0.6M97.2 387.51h0.6M106.8 387.51h1.2M118.8 387.51h0.6M76.2 403.96h0.6M79.2 403.96h1.2M81.6 403.96h0.6M84 403.96h1.2M87 403.96h0.6M88.8 403.96h0.6M91.8 403.96h0.6M96.6 403.96h0.6M103.2 403.96h0.6M107.4 403.96h0.6M108.6 403.96h1.8M113.4 403.96h1.2M115.2 403.96h0.6M118.8 403.96h0.6M127.8 403.96h1.2M130.2 403.96h0.6M132.6 403.96h1.2M136.2 403.96h0.6M138.6 403.96h0.6M78.6 408.07h0.6M86.4 408.07h0.6M88.8 408.07h0.6M91.2 408.07h0.6M95.4 408.07h0.6M100.8 408.07h1.2M103.2 408.07h0.6M107.4 408.07h0.6M115.8 408.07h0.6M127.8 408.07h0.6M129.6 408.07h0.6M132.6 408.07h1.2M78.6 412.18h0.6M81.6 412.18h0.6M88.8 412.18h0.6M90.6 412.18h0.6M94.2 412.18h1.8M99 412.18h0.6M100.8 412.18h0.6M106.2 412.18h0.6M109.2 412.18h0.6M112.8 412.18h0.6M118.2 412.18h0.6M126.6 412.18h0.6M127.8 412.18h0.6M129 412.18h0.6M132 412.18h0.6M135.6 412.18h1.2M139.2 412.18h0.6M76.8 416.29h0.6M79.2 416.29h0.6M84.6 416.29h1.8M88.8 416.29h0.6M92.4 416.29h1.8M95.4 416.29h0.6M97.8 416.29h1.2M101.4 416.29h0.6M103.8 416.29h0.6M106.2 416.29h0.6M108 416.29h0.6M109.8 416.29h0.6M111 416.29h0.6M115.2 416.29h0.6M122.4 416.29h0.6M126.6 416.29h0.6M129.6 416.29h0.6M130.8 416.29h0.6M132 416.29h0.6M133.2 416.29h0.6M138.6 416.29h1.2M88.8 420.41h0.6M91.8 420.41h0.6M107.4 420.41h0.6M108.6 420.41h0.6M118.8 420.41h0.6M122.4 420.41h1.2M127.2 420.41h0.6M129.6 420.41h0.6M131.4 420.41h1.2M85.8 424.52h0.6M90.6 424.52h0.6M92.4 424.52h0.6M95.4 424.52h0.6M96.6 424.52h0.6M100.8 424.52h1.8M105.6 424.52h0.6M108.6 424.52h0.6M109.8 424.52h0.6M111 424.52h0.6M112.8 424.52h0.6M114 424.52h0.6M115.2 424.52h0.6M124.2 424.52h1.2M126 424.52h0.6M127.8 424.52h0.6M130.2 424.52h1.8M72.6 428.63h0.6M76.2 428.63h0.6M79.2 428.63h0.6M94.8 428.63h0.6M96.6 428.63h0.6M100.8 428.63h1.2M102.6 428.63h0.6M103.8 428.63h0.6M107.4 428.63h0.6M112.8 428.63h1.8M115.2 428.63h1.2M118.8 428.63h0.6M120.6 428.63h0.6M121.8 428.63h1.2M123.6 428.63h1.2M126.6 428.63h0.6M127.8 428.63h0.6M129.6 428.63h0.6M130.8 428.63h0.6M133.8 428.63h1.2M76.2 440.96h0.6M90.6 440.96h1.2M103.8 440.96h0.6M106.8 440.96h0.6M109.8 440.96h0.6M123 440.96h0.6M129.6 440.96h0.6M135 440.96h0.6M139.8 440.96h0.5M75.6 453.3h0.6M76.8 453.3h0.6M79.2 453.3h1.2M81.6 453.3h0.6M85.2 453.3h0.6M87 453.3h0.6M90.6 453.3h0.6M94.2 453.3h0.6M100.8 453.3h1.2M103.2 453.3h1.2M106.8 453.3h0.6M108.6 453.3h0.6M112.8 453.3h1.2M127.2 453.3h0.6M132.6 453.3h0.6M133.8 453.3h0.6M135 453.3h0.6M136.2 453.3h0.6M139.2 453.3h1.1M83.4 465.63h0.6M101.4 465.63h1.8M115.8 465.63h0.6M124.2 465.63h0.6M129 465.63h0.6M132 465.63h0.6M136.2 465.63h0.6M72.6 469.74h0.6M85.8 469.74h0.6M87 469.74h0.6M91.8 469.74h0.6M106.2 469.74h0.6M107.4 469.74h0.6M108.6 469.74h0.6M113.4 469.74h0.6M122.4 469.74h0.6M127.2 469.74h0.6M129.6 469.74h1.8"/>
<path stroke="#3a4eba" stroke-width="4.11" d="M82.8 366.96h0.6M96 366.96h0.6M97.2 366.96h0.6M103.2 366.96h0.6M106.2 366.96h1.2M108 366.96h0.6M124.2 366.96h0.6M88.8 371.07h0.6M101.4 371.07h0.6M113.4 371.07h0.6M129.6 371.07h0.6M87 379.29h0.6M90.6 379.29h0.6M95.4 379.29h0.6M97.8 379.29h1.2M105.6 379.29h1.8M108.6 379.29h0.6M114 379.29h0.6M115.8 379.29h0.6M122.4 379.29h1.2M127.2 379.29h1.2M131.4 379.29h1.2M135.6 379.29h1.2M83.4 383.4h0.6M91.8 383.4h0.6M85.8 403.96h1.2M95.4 403.96h1.2M97.2 403.96h0.6M98.4 403.96h0.6M99.6 403.96h0.6M106.8 403.96h0.6M108 403.96h0.6M122.4 403.96h1.2M127.2 403.96h0.6M130.8 403.96h0.6M135.6 403.96h0.6M79.8 408.07h0.6M88.2 408.07h0.6M91.8 408.07h0.6M97.2 408.07h0.6M106.8 408.07h0.6M108 408.07h1.2M113.4 408.07h1.2M123 408.07h0.6M75.6 412.18h0.6M83.4 412.18h1.8M85.8 412.18h1.8M91.8 412.18h0.6M96.6 412.18h2.4M101.4 412.18h0.6M103.2 412.18h0.6M106.8 412.18h2.4M109.8 412.18h0.6M114 412.18h0.6M115.2 412.18h1.2M122.4 412.18h1.2M127.2 412.18h0.6M129.6 412.18h0.6M130.8 412.18h1.2M133.2 412.18h0.6M138 412.18h1.2M90.6 416.29h0.6M91.8 416.29h0.6M97.2 416.29h0.6M103.2 416.29h0.6M106.8 416.29h0.6M109.2 416.29h0.6M113.4 416.29h0.6M127.2 416.29h0.6M131.4 416.29h0.6M87 420.41h0.6M108 420.41h0.6M114 420.41h0.6M78.6 424.52h1.2M83.4 424.52h0.6M85.2 424.52h0.6M87 424.52h0.6M88.8 424.52h0.6M91.2 424.52h1.2M97.2 424.52h1.2M103.2 424.52h1.2M106.2 424.52h2.4M113.4 424.52h0.6M115.8 424.52h0.6M122.4 424.52h1.2M127.2 424.52h0.6M135 424.52h1.2M82.8 428.63h1.2M85.2 428.63h0.6M91.2 428.63h1.2M95.4 428.63h1.2M97.2 428.63h1.2M105.6 428.63h1.8M108 428.63h1.2M129 428.63h0.6M133.2 428.63h0.6M135.6 428.63h1.2M91.8 440.96h0.6M130.2 440.96h1.8M85.8 453.3h0.6M91.2 453.3h1.2M97.2 453.3h0.6M98.4 453.3h0.6M99.6 453.3h0.6M102 453.3h0.6M108 453.3h0.6M109.8 453.3h0.6M114 453.3h0.6M122.4 453.3h1.8M127.8 453.3h0.6M131.4 453.3h1.2M133.2 453.3h0.6M79.2 465.63h0.6M85.2 465.63h0.6M87 465.63h0.6M103.2 465.63h0.6M106.8 465.63h0.6M108 465.63h1.2M135.6 465.63h0.6M79.2 469.74h0.6M86.4 469.74h0.6M91.2 469.74h0.6M97.2 469.74h0.6M102.6 469.74h1.2M106.8 469.74h0.6M108 469.74h0.6"/>
<path stroke="#6f76c2" stroke-width="0.6" stroke-opacity="0.75" d="M72.3 364.9V471.8"/>
<path stroke="#5a66c0" stroke-width="0.7" stroke-opacity="0.8" d="M139.95 364.9V471.8"/>
<path stroke="#e6ec0e" stroke-width="4.11" d="M198.2 366.96h1.8M204.8 366.96h1.2M207.2 366.96h1.8M213.2 366.96h1.8M218.6 366.96h0.6M227 366.96h1.2M229.4 366.96h3M234.8 366.96h0.6M237.8 366.96h0.6M240.2 366.96h0.6M251 366.96h1.8M253.4 366.96h1.2M255.2 366.96h1.2M257 366.96h2.4M260 366.96h1.2M263.6 366.96h1.2M266.6 366.96h1.8M275.6 366.96h1.2M278 366.96h1.2M280.4 366.96h1.2M284 366.96h5.4M291.2 366.96h2.4M298.4 366.96h1.8M302.6 366.96h2.4M306.2 366.96h6M317 366.96h0.6M321.8 366.96h0.6M326.6 366.96h1.2M332 366.96h0.6M337.4 366.96h1.2M339.8 366.96h3.6M345.8 366.96h1.2M348.8 366.96h1.2M350.6 366.96h1.8M353 366.96h1.2M355.4 366.96h0.6M357.2 366.96h0.6M358.4 366.96h0.8M167 371.07h1.2M180.2 371.07h0.6M201.8 371.07h0.6M203 371.07h2.4M207.2 371.07h0.6M214.4 371.07h1.2M218.6 371.07h1.8M223.4 371.07h1.2M227.6 371.07h0.6M230.6 371.07h2.4M236 371.07h0.6M237.8 371.07h0.6M246.8 371.07h0.6M249.8 371.07h2.4M254.6 371.07h1.2M257 371.07h0.6M258.2 371.07h1.2M260 371.07h1.2M262.4 371.07h4.2M269.6 371.07h0.6M271.4 371.07h0.6M281 371.07h3.6M285.2 371.07h0.6M287 371.07h1.2M291.2 371.07h0.6M294.2 371.07h3.6M300.2 371.07h1.8M303.8 371.07h0.6M305 371.07h0.6M306.2 371.07h1.8M308.6 371.07h2.4M311.6 371.07h1.2M314 371.07h0.6M317.6 371.07h1.8M323 371.07h2.4M326.6 371.07h1.2M329.6 371.07h0.6M332 371.07h1.8M335.6 371.07h1.2M337.4 371.07h3.6M342.2 371.07h0.6M344 371.07h0.6M350.6 371.07h3M354.2 371.07h0.6M355.4 371.07h1.2M357.2 371.07h0.6M359 371.07h0.2M213.2 375.18h1.8M218.6 375.18h0.6M221.6 375.18h0.6M231.2 375.18h1.2M236 375.18h1.2M246.8 375.18h0.6M251 375.18h1.2M254.6 375.18h3.6M260 375.18h1.2M263 375.18h1.2M265.4 375.18h0.6M267.2 375.18h1.2M275 375.18h0.6M277.4 375.18h2.4M283.4 375.18h0.6M286.4 375.18h0.6M295.4 375.18h0.6M297.8 375.18h0.6M301.4 375.18h0.6M303.2 375.18h2.4M306.2 375.18h2.4M309.2 375.18h0.6M314.6 375.18h1.2M320 375.18h0.6M325.4 375.18h2.4M332.6 375.18h1.2M335 375.18h1.2M336.8 375.18h1.2M342.2 375.18h1.2M345.8 375.18h1.8M348.2 375.18h0.6M350.6 375.18h3M354.8 375.18h1.2M358.4 375.18h0.6M180.2 379.29h1.2M197 379.29h0.6M198.8 379.29h1.8M201.2 379.29h1.2M203 379.29h12M215.6 379.29h1.8M218.6 379.29h4.2M223.4 379.29h0.6M225.2 379.29h0.6M226.4 379.29h2.4M229.4 379.29h11.4M241.4 379.29h0.6M243.2 379.29h2.4M246.8 379.29h0.6M248 379.29h0.6M249.2 379.29h15M264.8 379.29h14.4M280.4 379.29h4.2M285.2 379.29h33M318.8 379.29h10.2M331.4 379.29h9M341 379.29h6.6M348.8 379.29h10.4M198.2 383.4h0.6M199.4 383.4h3M204.2 383.4h0.6M205.4 383.4h1.2M208.4 383.4h1.8M211.4 383.4h8.4M220.4 383.4h2.4M225.8 383.4h0.6M227 383.4h8.4M236 383.4h0.6M237.8 383.4h3M243.2 383.4h0.6M244.4 383.4h0.6M248.6 383.4h1.2M251 383.4h3.6M255.2 383.4h1.2M257 383.4h0.6M258.8 383.4h9M269 383.4h3.6M273.2 383.4h3.6M277.4 383.4h1.2M279.2 383.4h1.8M281.6 383.4h0.6M282.8 383.4h8.4M291.8 383.4h4.8M297.2 383.4h1.8M299.6 383.4h1.2M301.4 383.4h1.2M303.2 383.4h4.8M310.4 383.4h0.6M311.6 383.4h0.6M313.4 383.4h0.6M315.2 383.4h1.2M317 383.4h2.4M320 383.4h0.6M323 383.4h6.6M332 383.4h1.8M334.4 383.4h1.2M336.2 383.4h2.4M339.2 383.4h4.2M344.6 383.4h3M348.2 383.4h2.4M351.8 383.4h2.4M356.6 383.4h2.6M198.8 387.51h4.2M203.6 387.51h1.8M206 387.51h0.6M207.2 387.51h1.2M209 387.51h1.2M211.4 387.51h3.6M216.8 387.51h0.6M220.4 387.51h0.6M223.4 387.51h1.8M225.8 387.51h0.6M227.6 387.51h1.2M230 387.51h1.2M233.6 387.51h0.6M236.6 387.51h0.6M239 387.51h1.2M240.8 387.51h1.2M243.2 387.51h0.6M249.2 387.51h0.6M251 387.51h0.6M252.2 387.51h3M258.2 387.51h3M261.8 387.51h3M265.4 387.51h1.2M268.4 387.51h0.6M271.4 387.51h0.6M273.8 387.51h0.6M276.2 387.51h0.6M281.6 387.51h3M285.8 387.51h3M289.4 387.51h0.6M290.6 387.51h1.2M293.6 387.51h1.8M297.8 387.51h0.6M301.4 387.51h0.6M303.2 387.51h4.8M309.2 387.51h1.8M311.6 387.51h0.6M314 387.51h0.6M315.2 387.51h0.6M321.2 387.51h1.2M323 387.51h0.6M326 387.51h2.4M332 387.51h1.2M334.4 387.51h0.6M337.4 387.51h0.6M339.8 387.51h2.4M344 387.51h0.6M347 387.51h1.2M348.8 387.51h1.2M350.6 387.51h2.4M356 387.51h0.6M358.4 387.51h0.8M199.4 391.62h1.8M201.8 391.62h1.8M204.2 391.62h2.4M207.8 391.62h0.6M212.6 391.62h2.4M215.6 391.62h1.2M218.6 391.62h1.2M221.6 391.62h0.6M225.2 391.62h1.2M227.6 391.62h1.2M230 391.62h1.2M232.4 391.62h1.2M236 391.62h1.2M242 391.62h0.6M243.2 391.62h1.8M249.2 391.62h0.6M251 391.62h3.6M258.8 391.62h2.4M261.8 391.62h5.4M271.4 391.62h0.6M274.4 391.62h1.8M277.4 391.62h1.8M281.6 391.62h2.4M285.2 391.62h1.8M295.4 391.62h0.6M297.2 391.62h0.6M301.4 391.62h0.6M303.2 391.62h5.4M311 391.62h1.2M315.2 391.62h0.6M320 391.62h0.6M321.8 391.62h1.2M324.8 391.62h1.8M327.2 391.62h1.2M337.4 391.62h0.6M339.8 391.62h0.6M350.6 391.62h3M355.4 391.62h0.6M200 395.74h0.6M201.2 395.74h0.6M203 395.74h1.2M204.8 395.74h0.6M206 395.74h1.8M208.4 395.74h0.6M210.2 395.74h0.6M211.4 395.74h6.6M218.6 395.74h1.8M221 395.74h1.8M224 395.74h0.6M227 395.74h1.2M230 395.74h3.6M237.2 395.74h1.8M240.8 395.74h0.6M242.6 395.74h1.2M246.2 395.74h1.2M249.2 395.74h2.4M252.8 395.74h3.6M257.6 395.74h3.6M261.8 395.74h1.2M265.4 395.74h1.2M267.2 395.74h1.8M274.4 395.74h1.2M276.8 395.74h1.8M279.8 395.74h0.6M281 395.74h0.6M282.2 395.74h2.4M285.8 395.74h2.4M290.6 395.74h0.6M292.4 395.74h0.6M293.6 395.74h1.2M297.8 395.74h1.2M299.6 395.74h1.2M302.6 395.74h2.4M306.2 395.74h1.2M308 395.74h2.4M313.4 395.74h1.2M315.2 395.74h1.8M318.8 395.74h0.6M320 395.74h0.6M324.2 395.74h2.4M327.2 395.74h0.6M337.4 395.74h0.6M339.8 395.74h1.8M342.2 395.74h0.6M347 395.74h0.6M351.8 395.74h2.4M358.4 395.74h0.8M199.4 399.85h1.2M203.6 399.85h1.8M206 399.85h1.2M208.4 399.85h2.4M211.4 399.85h0.6M212.6 399.85h2.4M215.6 399.85h1.8M219.2 399.85h0.6M221 399.85h1.2M223.4 399.85h1.2M227.6 399.85h1.2M230.6 399.85h1.2M236 399.85h0.6M239 399.85h3M243.2 399.85h1.2M248.6 399.85h1.8M251 399.85h1.2M252.8 399.85h1.8M255.8 399.85h0.6M257 399.85h11.4M269 399.85h4.2M274.4 399.85h3.6M280.4 399.85h7.8M289.4 399.85h1.2M291.2 399.85h1.8M294.2 399.85h1.2M299 399.85h1.2M301.4 399.85h1.2M303.2 399.85h6M309.8 399.85h1.8M314.6 399.85h1.2M320 399.85h1.2M323 399.85h5.4M332.6 399.85h0.6M336.2 399.85h4.2M341 399.85h0.6M342.2 399.85h1.2M346.4 399.85h0.6M348.8 399.85h1.2M350.6 399.85h0.6M351.8 399.85h3.6M356.6 399.85h1.8M359 399.85h0.2M158.6 403.96h2.4M191 403.96h1.2M197.6 403.96h1.2M200 403.96h0.6M202.4 403.96h2.4M206 403.96h0.6M207.2 403.96h2.4M212 403.96h7.8M221 403.96h0.6M222.8 403.96h3.6M227.6 403.96h0.6M228.8 403.96h3.6M233 403.96h0.6M236 403.96h1.2M237.8 403.96h1.2M243.2 403.96h0.6M245 403.96h1.2M246.8 403.96h3.6M251.6 403.96h1.8M254 403.96h1.2M258.2 403.96h3M262.4 403.96h1.2M264.2 403.96h3M268.4 403.96h0.6M270.2 403.96h0.6M271.4 403.96h0.6M273.2 403.96h0.6M274.4 403.96h1.2M276.8 403.96h0.6M278.6 403.96h1.8M281 403.96h1.2M282.8 403.96h1.8M286.4 403.96h3M290.6 403.96h0.6M294.2 403.96h6M301.4 403.96h2.4M304.4 403.96h7.8M313.4 403.96h0.6M314.6 403.96h1.8M320 403.96h0.6M321.8 403.96h3.6M326 403.96h2.4M329.6 403.96h4.8M335.6 403.96h3M339.8 403.96h3M346.4 403.96h1.2M349.4 403.96h0.6M351.2 403.96h3M357.2 403.96h1.2M359 403.96h0.2M200 408.07h2.4M203 408.07h2.4M206 408.07h1.8M208.4 408.07h1.2M212 408.07h0.6M213.8 408.07h1.2M216.8 408.07h1.2M218.6 408.07h0.6M220.4 408.07h4.2M225.8 408.07h0.6M227.6 408.07h1.2M229.4 408.07h0.6M231.2 408.07h0.6M232.4 408.07h1.8M236 408.07h0.6M239.6 408.07h1.2M245.6 408.07h2.4M248.6 408.07h0.6M251 408.07h1.8M254.6 408.07h3M258.2 408.07h3M261.8 408.07h1.2M266 408.07h1.8M270.2 408.07h0.6M271.4 408.07h1.2M275.6 408.07h0.6M277.4 408.07h1.8M281.6 408.07h9M291.2 408.07h3.6M295.4 408.07h1.2M298.4 408.07h0.6M301.4 408.07h0.6M302.6 408.07h6.6M311 408.07h1.2M318.8 408.07h1.8M324.2 408.07h1.2M326 408.07h0.6M327.2 408.07h1.2M331.4 408.07h1.8M336.2 408.07h1.8M339.2 408.07h2.4M342.2 408.07h0.6M345.2 408.07h2.4M350.6 408.07h3M355.4 408.07h0.6M357.8 408.07h1.4M167 412.18h1.2M174.8 412.18h0.6M176.6 412.18h0.6M185 412.18h0.6M199.4 412.18h4.2M204.2 412.18h1.2M206 412.18h1.8M208.4 412.18h1.2M210.2 412.18h1.2M212 412.18h3.6M216.2 412.18h1.2M218.6 412.18h1.2M221 412.18h2.4M225.2 412.18h3M230 412.18h1.2M231.8 412.18h0.6M236 412.18h0.6M237.8 412.18h3M243.2 412.18h0.6M244.4 412.18h1.2M246.8 412.18h1.2M248.6 412.18h1.8M251 412.18h0.6M253.4 412.18h1.8M255.8 412.18h1.8M258.8 412.18h1.8M261.8 412.18h4.8M267.8 412.18h4.2M273.2 412.18h0.6M275.6 412.18h0.6M280.4 412.18h0.6M281.6 412.18h2.4M284.6 412.18h1.8M291.2 412.18h1.8M293.6 412.18h1.2M296 412.18h1.8M303.2 412.18h1.8M305.6 412.18h2.4M309.8 412.18h1.8M312.2 412.18h0.6M313.4 412.18h1.2M315.8 412.18h0.6M321.2 412.18h3.6M326.6 412.18h1.8M330.2 412.18h0.6M332.6 412.18h0.6M335 412.18h1.2M336.8 412.18h3.6M342.2 412.18h0.6M344 412.18h0.6M346.4 412.18h0.6M347.6 412.18h1.8M350.6 412.18h0.6M351.8 412.18h1.2M356.6 412.18h0.6M357.8 412.18h1.4M198.8 416.29h1.2M201.2 416.29h0.6M203 416.29h1.2M207.2 416.29h0.6M210.2 416.29h0.6M211.4 416.29h2.4M214.4 416.29h6M221 416.29h1.2M224.6 416.29h1.8M227 416.29h1.8M231.8 416.29h1.8M236 416.29h0.6M238.4 416.29h1.8M243.2 416.29h2.4M246.8 416.29h0.6M249.2 416.29h0.6M251 416.29h4.2M255.8 416.29h1.8M260 416.29h1.2M261.8 416.29h0.6M263 416.29h1.2M266 416.29h2.4M269.6 416.29h1.2M271.4 416.29h0.6M272.6 416.29h3.6M278 416.29h1.2M279.8 416.29h8.4M288.8 416.29h1.8M297.2 416.29h1.2M299.6 416.29h0.6M301.4 416.29h0.6M303.8 416.29h0.6M305.6 416.29h1.8M310.4 416.29h1.8M315.2 416.29h0.6M320 416.29h0.6M322.4 416.29h1.2M325.4 416.29h1.2M327.2 416.29h0.6M332 416.29h0.6M337.4 416.29h0.6M339.2 416.29h1.8M342.2 416.29h3M346.4 416.29h1.8M350 416.29h1.2M351.8 416.29h1.8M357.8 416.29h1.4M199.4 420.41h0.6M201.2 420.41h5.4M207.2 420.41h2.4M210.2 420.41h0.6M212 420.41h1.8M214.4 420.41h1.8M216.8 420.41h1.2M218.6 420.41h1.2M220.4 420.41h1.8M227 420.41h1.8M229.4 420.41h6M236 420.41h0.6M237.2 420.41h1.2M244.4 420.41h0.6M246.8 420.41h3M251 420.41h1.8M253.4 420.41h3M258.2 420.41h3M261.8 420.41h3M265.4 420.41h1.2M269 420.41h3.6M274.4 420.41h1.8M277.4 420.41h0.6M281 420.41h0.6M283.4 420.41h1.8M286.4 420.41h1.8M289.4 420.41h1.2M292.4 420.41h4.2M297.2 420.41h1.2M299.6 420.41h2.4M302.6 420.41h1.8M306.8 420.41h1.2M308.6 420.41h3.6M317 420.41h0.6M318.8 420.41h1.8M321.2 420.41h2.4M324.2 420.41h1.2M327.2 420.41h1.8M329.6 420.41h0.6M331.4 420.41h1.8M336.2 420.41h4.8M342.2 420.41h1.2M345.2 420.41h2.4M349.4 420.41h1.2M351.2 420.41h3.6M357.8 420.41h1.2M199.4 424.52h0.6M201.2 424.52h0.6M203.6 424.52h0.6M204.8 424.52h0.6M207.2 424.52h5.4M213.2 424.52h1.8M216.2 424.52h0.6M218.6 424.52h0.6M221 424.52h1.2M222.8 424.52h0.6M231.2 424.52h2.4M235.4 424.52h1.8M237.8 424.52h0.6M239 424.52h0.6M240.2 424.52h1.2M242 424.52h0.6M244.4 424.52h1.2M246.8 424.52h0.6M248.6 424.52h1.8M252.8 424.52h2.4M259.4 424.52h1.2M261.8 424.52h1.8M265.4 424.52h1.2M267.2 424.52h1.2M270.2 424.52h1.8M273.8 424.52h2.4M277.4 424.52h1.2M281 424.52h1.2M282.8 424.52h1.2M284.6 424.52h0.6M286.4 424.52h2.4M291.2 424.52h1.2M294.2 424.52h2.4M298.4 424.52h0.6M299.6 424.52h1.2M301.4 424.52h1.2M303.2 424.52h7.2M311 424.52h0.6M313.4 424.52h1.2M315.2 424.52h1.2M317 424.52h0.6M318.8 424.52h1.2M321.8 424.52h2.4M326 424.52h0.6M329.6 424.52h0.6M331.4 424.52h1.8M337.4 424.52h1.8M339.8 424.52h3.6M344 424.52h0.6M345.8 424.52h1.8M348.2 424.52h0.6M350 424.52h9.2M157.4 428.63h3M161 428.63h3M166.4 428.63h0.6M167.6 428.63h1.2M170.6 428.63h2.4M174.2 428.63h7.2M183.8 428.63h0.6M185 428.63h0.6M186.8 428.63h4.2M191.6 428.63h1.8M194.6 428.63h1.8M197 428.63h3M201.2 428.63h3M204.8 428.63h1.8M207.2 428.63h2.4M210.2 428.63h4.8M216.2 428.63h1.2M218 428.63h1.8M221 428.63h1.2M227 428.63h2.4M230 428.63h1.2M231.8 428.63h2.4M236 428.63h0.6M241.4 428.63h1.2M243.2 428.63h3M246.8 428.63h0.6M251 428.63h0.6M252.8 428.63h1.8M255.8 428.63h0.6M257 428.63h0.6M260.6 428.63h1.2M263 428.63h0.6M268.4 428.63h0.6M274.4 428.63h1.8M277.4 428.63h0.6M279.2 428.63h0.6M281 428.63h3M285.2 428.63h1.8M287.6 428.63h0.6M291.2 428.63h0.6M292.4 428.63h1.2M297.2 428.63h2.4M304.4 428.63h3.6M308.6 428.63h0.6M311.6 428.63h0.6M314 428.63h0.6M318.8 428.63h0.6M321.2 428.63h1.2M324.8 428.63h0.6M326 428.63h3M335.6 428.63h0.6M337.4 428.63h0.6M339.2 428.63h1.2M341 428.63h1.8M345.2 428.63h1.8M348.2 428.63h0.6M352.4 428.63h2.4M357.8 428.63h1.4M198.2 432.74h0.6M201.8 432.74h1.8M204.8 432.74h3M213.2 432.74h0.6M218.6 432.74h0.6M221.6 432.74h0.6M224 432.74h0.6M225.8 432.74h0.6M229.4 432.74h1.2M231.2 432.74h2.4M236.6 432.74h0.6M242 432.74h1.8M245 432.74h0.6M248.6 432.74h1.8M253.4 432.74h2.4M257 432.74h0.6M259.4 432.74h1.2M264.8 432.74h1.2M267.2 432.74h1.2M275 432.74h0.6M276.2 432.74h0.6M277.4 432.74h0.6M281.6 432.74h1.2M287 432.74h1.2M289.4 432.74h0.6M297.8 432.74h0.6M299.6 432.74h1.2M306.2 432.74h1.8M311.6 432.74h0.6M318.8 432.74h0.6M320 432.74h0.6M323 432.74h0.6M326.6 432.74h0.6M332 432.74h1.2M337.4 432.74h0.6M342.2 432.74h1.2M344 432.74h0.6M349.4 432.74h0.6M351.8 432.74h1.2M280.4 436.85h0.6M199.4 440.96h0.6M209.6 440.96h0.6M214.4 440.96h1.2M227.6 440.96h0.6M254 440.96h0.6M255.2 440.96h1.2M259.4 440.96h3.6M275 440.96h1.2M283.4 440.96h1.2M294.2 440.96h0.6M299 440.96h0.6M303.2 440.96h0.6M306.2 440.96h1.8M339.2 440.96h1.2M359 440.96h0.2M200 445.07h1.2M204.8 445.07h0.6M209 445.07h0.6M211.4 445.07h1.2M213.2 445.07h2.4M218.6 445.07h0.6M221.6 445.07h0.6M223.4 445.07h1.2M228.2 445.07h0.6M233 445.07h0.6M242.6 445.07h1.2M251 445.07h1.2M253.4 445.07h0.6M254.6 445.07h1.8M257 445.07h1.2M258.8 445.07h0.6M260 445.07h3.6M266 445.07h0.6M275.6 445.07h0.6M277.4 445.07h0.6M280.4 445.07h1.8M285.2 445.07h0.6M287.6 445.07h0.6M291.8 445.07h0.6M294.2 445.07h0.6M295.4 445.07h0.6M300.2 445.07h0.6M303.2 445.07h1.8M306.2 445.07h1.8M309.2 445.07h0.6M310.4 445.07h1.8M313.4 445.07h0.6M315.2 445.07h0.6M320 445.07h0.6M324.8 445.07h2.4M335.6 445.07h0.6M337.4 445.07h1.2M339.8 445.07h1.2M345.8 445.07h0.6M347 445.07h1.2M353.6 445.07h0.6M355.4 445.07h1.8M357.8 445.07h1.4M202.4 449.19h1.2M213.8 449.19h1.8M217.4 449.19h0.6M218.6 449.19h0.6M227.6 449.19h0.6M233 449.19h0.6M254 449.19h0.6M260.6 449.19h1.2M270.2 449.19h0.6M274.4 449.19h1.2M278 449.19h0.6M281.6 449.19h1.8M158.6 453.3h2.4M190.4 453.3h0.6M197 453.3h0.6M198.8 453.3h0.6M203 453.3h1.2M204.8 453.3h0.6M206 453.3h3.6M210.2 453.3h0.6M214.4 453.3h1.8M218.6 453.3h1.2M227 453.3h1.8M231.2 453.3h2.4M235.4 453.3h1.2M237.8 453.3h0.6M241.4 453.3h1.2M244.4 453.3h1.2M246.8 453.3h1.2M252.2 453.3h2.4M255.2 453.3h0.6M259.4 453.3h1.8M261.8 453.3h1.8M264.8 453.3h1.8M269 453.3h0.6M274.4 453.3h1.2M276.8 453.3h2.4M280.4 453.3h1.8M284 453.3h0.6M285.8 453.3h1.2M287.6 453.3h2.4M290.6 453.3h0.6M292.4 453.3h0.6M294.2 453.3h0.6M295.4 453.3h4.8M301.4 453.3h0.6M304.4 453.3h0.6M305.6 453.3h3.6M310.4 453.3h3M324.2 453.3h3M327.8 453.3h0.6M336.8 453.3h0.6M338.6 453.3h2.4M344 453.3h1.2M345.8 453.3h0.6M350 453.3h4.2M356.6 453.3h0.6M357.8 453.3h1.4M199.4 457.41h1.8M203 457.41h0.6M206 457.41h0.6M209 457.41h6.6M216.8 457.41h1.2M221.6 457.41h0.6M230.6 457.41h0.6M231.8 457.41h0.6M243.2 457.41h1.2M246.8 457.41h0.6M254 457.41h0.6M257 457.41h0.6M259.4 457.41h1.2M276.2 457.41h0.6M279.8 457.41h1.2M285.2 457.41h0.6M291.8 457.41h0.6M294.2 457.41h0.6M306.8 457.41h1.2M311.6 457.41h0.6M315.8 457.41h0.6M326 457.41h1.2M332 457.41h0.6M339.8 457.41h0.6M342.2 457.41h1.2M347 457.41h1.2M351.8 457.41h1.8M212 461.52h0.6M214.4 461.52h1.2M218.6 461.52h0.6M221 461.52h1.2M231.8 461.52h1.2M260 461.52h1.2M266 461.52h0.6M278 461.52h0.6M282.8 461.52h0.6M285.2 461.52h0.6M297.8 461.52h0.6M306.2 461.52h1.8M200 465.63h1.2M204.2 465.63h0.6M206 465.63h0.6M210.8 465.63h0.6M213.8 465.63h1.2M218.6 465.63h0.6M227.6 465.63h0.6M230.6 465.63h2.4M253.4 465.63h1.2M255.2 465.63h1.8M258.2 465.63h1.2M261.8 465.63h1.8M265.4 465.63h0.6M267.2 465.63h0.6M271.4 465.63h0.6M278 465.63h1.2M284 465.63h1.8M286.4 465.63h2.4M301.4 465.63h0.6M303.2 465.63h2.4M306.8 465.63h2.4M309.8 465.63h1.2M323.6 465.63h3M327.2 465.63h0.6M338.6 465.63h1.2M342.8 465.63h0.6M351.2 465.63h3M158.6 469.74h0.6M171.8 469.74h0.6M180.2 469.74h0.6M195.2 469.74h1.2M199.4 469.74h0.6M201.8 469.74h0.6M206 469.74h3M211.4 469.74h2.4M214.4 469.74h1.2M216.8 469.74h1.2M218.6 469.74h1.8M225.2 469.74h1.2M227.6 469.74h1.2M230.6 469.74h1.8M234.2 469.74h1.2M240.2 469.74h1.2M246.8 469.74h0.6M251 469.74h0.6M253.4 469.74h3M257 469.74h1.8M263 469.74h1.8M267.2 469.74h1.8M270.2 469.74h0.6M275 469.74h1.2M278 469.74h0.6M280.4 469.74h0.6M283.4 469.74h1.2M285.2 469.74h4.8M293.6 469.74h1.2M297.2 469.74h0.6M300.8 469.74h1.2M302.6 469.74h7.8M314 469.74h1.2M320 469.74h0.6M324.8 469.74h1.2M326.6 469.74h1.2M339.8 469.74h0.6M342.8 469.74h0.6M344 469.74h0.6M346.4 469.74h3M351.8 469.74h2.4M356 469.74h1.2M357.8 469.74h1.4"/>
<path stroke="#8e8c2a" stroke-width="4.11" d="M184.4 366.96h1.2M188.6 366.96h1.8M191.6 366.96h0.6M200 366.96h0.6M203 366.96h1.8M206 366.96h0.6M215 366.96h0.6M217.4 366.96h1.2M226.4 366.96h0.6M234.2 366.96h0.6M245 366.96h0.6M254.6 366.96h0.6M261.2 366.96h1.2M263 366.96h0.6M264.8 366.96h1.8M270.2 366.96h0.6M271.4 366.96h0.6M274.4 366.96h1.2M276.8 366.96h0.6M283.4 366.96h0.6M289.4 366.96h0.6M294.2 366.96h0.6M300.2 366.96h0.6M313.4 366.96h0.6M317.6 366.96h1.2M321.2 366.96h0.6M327.8 366.96h1.2M332.6 366.96h0.6M339.2 366.96h0.6M344 366.96h0.6M354.2 366.96h1.2M357.8 366.96h0.6M162.2 371.07h0.6M168.2 371.07h1.2M170.6 371.07h0.6M171.8 371.07h0.6M176.6 371.07h0.6M185 371.07h0.6M189.8 371.07h0.6M192.8 371.07h0.6M197.6 371.07h0.6M202.4 371.07h0.6M206 371.07h0.6M208.4 371.07h1.2M210.2 371.07h0.6M215.6 371.07h0.6M221.6 371.07h0.6M224.6 371.07h0.6M235.4 371.07h0.6M239 371.07h0.6M245 371.07h0.6M248.6 371.07h0.6M254 371.07h0.6M259.4 371.07h0.6M275.6 371.07h0.6M280.4 371.07h0.6M291.8 371.07h0.6M299.6 371.07h0.6M302.6 371.07h1.2M320 371.07h0.6M321.2 371.07h0.6M322.4 371.07h0.6M325.4 371.07h1.2M327.8 371.07h0.6M329 371.07h0.6M334.4 371.07h1.2M341 371.07h0.6M344.6 371.07h0.6M349.4 371.07h0.6M353.6 371.07h0.6M354.8 371.07h0.6M357.8 371.07h1.2M202.4 375.18h1.2M212.6 375.18h0.6M215 375.18h0.6M216.2 375.18h0.6M221 375.18h0.6M222.2 375.18h0.6M224 375.18h0.6M228.2 375.18h0.6M241.4 375.18h1.2M261.2 375.18h0.6M264.2 375.18h0.6M268.4 375.18h0.6M274.4 375.18h0.6M276.8 375.18h0.6M285.8 375.18h0.6M288.2 375.18h0.6M291.8 375.18h0.6M294.2 375.18h0.6M296.6 375.18h1.2M298.4 375.18h0.6M300.8 375.18h0.6M308.6 375.18h0.6M309.8 375.18h0.6M314 375.18h0.6M317.6 375.18h0.6M319.4 375.18h0.6M324.2 375.18h0.6M331.4 375.18h0.6M336.2 375.18h0.6M338.6 375.18h0.6M339.8 375.18h0.6M344 375.18h1.8M359 375.18h0.2M167.6 379.29h1.2M174.8 379.29h0.6M179 379.29h0.6M181.4 379.29h0.6M189.2 379.29h0.6M202.4 379.29h0.6M215 379.29h0.6M217.4 379.29h0.6M222.8 379.29h0.6M224 379.29h1.2M225.8 379.29h0.6M228.8 379.29h0.6M240.8 379.29h0.6M242 379.29h1.2M248.6 379.29h0.6M264.2 379.29h0.6M279.2 379.29h0.6M284.6 379.29h0.6M318.2 379.29h0.6M329 379.29h1.2M347.6 379.29h1.2M159.8 383.4h1.2M223.4 383.4h0.6M224.6 383.4h1.2M226.4 383.4h0.6M245 383.4h0.6M246.8 383.4h0.6M249.8 383.4h1.2M254.6 383.4h0.6M256.4 383.4h0.6M267.8 383.4h0.6M272.6 383.4h0.6M278.6 383.4h0.6M282.2 383.4h0.6M291.2 383.4h0.6M296.6 383.4h0.6M299 383.4h0.6M300.8 383.4h0.6M302.6 383.4h0.6M308.6 383.4h0.6M311 383.4h0.6M312.8 383.4h0.6M314 383.4h1.2M316.4 383.4h0.6M320.6 383.4h0.6M322.4 383.4h0.6M331.4 383.4h0.6M338.6 383.4h0.6M347.6 383.4h0.6M350.6 383.4h0.6M354.2 383.4h0.6M164 387.51h0.6M170.6 387.51h0.6M171.8 387.51h1.2M180.2 387.51h0.6M197.6 387.51h0.6M203 387.51h0.6M205.4 387.51h0.6M208.4 387.51h0.6M219.2 387.51h0.6M221 387.51h0.6M225.2 387.51h0.6M226.4 387.51h0.6M232.4 387.51h0.6M234.2 387.51h0.6M236 387.51h0.6M242.6 387.51h0.6M255.2 387.51h0.6M267.8 387.51h0.6M269.6 387.51h0.6M274.4 387.51h0.6M277.4 387.51h1.2M280.4 387.51h0.6M285.2 387.51h0.6M288.8 387.51h0.6M311 387.51h0.6M315.8 387.51h0.6M318.2 387.51h0.6M335 387.51h1.2M342.2 387.51h0.6M343.4 387.51h0.6M353 387.51h1.2M159.2 391.62h1.2M167 391.62h0.6M180.2 391.62h0.6M229.4 391.62h0.6M233.6 391.62h0.6M239.6 391.62h1.2M242.6 391.62h0.6M245 391.62h0.6M246.8 391.62h0.6M248.6 391.62h0.6M261.2 391.62h0.6M269.6 391.62h1.2M280.4 391.62h1.2M284.6 391.62h0.6M287.6 391.62h0.6M288.8 391.62h1.2M294.8 391.62h0.6M297.8 391.62h0.6M299.6 391.62h0.6M308.6 391.62h1.2M326.6 391.62h0.6M329.6 391.62h0.6M332.6 391.62h0.6M339.2 391.62h0.6M344 391.62h0.6M345.2 391.62h0.6M348.2 391.62h0.6M358.4 391.62h0.6M159.2 395.74h1.2M180.2 395.74h0.6M190.4 395.74h0.6M218 395.74h0.6M225.8 395.74h0.6M233.6 395.74h0.6M236.6 395.74h0.6M240.2 395.74h0.6M242 395.74h0.6M243.8 395.74h2.4M261.2 395.74h0.6M266.6 395.74h0.6M270.2 395.74h0.6M278.6 395.74h1.2M281.6 395.74h0.6M285.2 395.74h0.6M288.2 395.74h0.6M290 395.74h0.6M297.2 395.74h0.6M305 395.74h0.6M307.4 395.74h0.6M310.4 395.74h0.6M314.6 395.74h0.6M323 395.74h1.2M327.8 395.74h0.6M331.4 395.74h0.6M338 395.74h0.6M347.6 395.74h0.6M350 395.74h0.6M354.2 395.74h1.2M163.4 399.85h0.6M174.8 399.85h0.6M179.6 399.85h1.2M203 399.85h0.6M210.8 399.85h0.6M212 399.85h0.6M215 399.85h0.6M217.4 399.85h0.6M218.6 399.85h0.6M220.4 399.85h0.6M222.2 399.85h0.6M224.6 399.85h0.6M230 399.85h0.6M236.6 399.85h0.6M237.8 399.85h1.2M242.6 399.85h0.6M268.4 399.85h0.6M273.2 399.85h0.6M290.6 399.85h0.6M296 399.85h0.6M300.2 399.85h1.2M302.6 399.85h0.6M309.2 399.85h0.6M313.4 399.85h1.2M321.2 399.85h0.6M328.4 399.85h0.6M340.4 399.85h0.6M341.6 399.85h0.6M344 399.85h0.6M345.8 399.85h0.6M347.6 399.85h0.6M350 399.85h0.6M351.2 399.85h0.6M356 399.85h0.6M156.8 403.96h1.8M161.6 403.96h0.6M163.4 403.96h0.6M167 403.96h1.2M174.8 403.96h0.6M176.6 403.96h1.2M178.4 403.96h1.2M189.2 403.96h0.6M190.4 403.96h0.6M195.8 403.96h0.6M197 403.96h0.6M200.6 403.96h1.2M205.4 403.96h0.6M206.6 403.96h0.6M222.2 403.96h0.6M228.2 403.96h0.6M232.4 403.96h0.6M234.2 403.96h0.6M239.6 403.96h0.6M242.6 403.96h0.6M246.2 403.96h0.6M250.4 403.96h1.2M255.2 403.96h0.6M257.6 403.96h0.6M261.2 403.96h0.6M263.6 403.96h0.6M270.8 403.96h0.6M272.6 403.96h0.6M280.4 403.96h0.6M285.2 403.96h0.6M291.2 403.96h0.6M303.8 403.96h0.6M312.8 403.96h0.6M314 403.96h0.6M316.4 403.96h2.4M325.4 403.96h0.6M334.4 403.96h1.2M343.4 403.96h0.6M348.8 403.96h0.6M354.2 403.96h0.6M355.4 403.96h0.6M358.4 403.96h0.6M167.6 408.07h0.6M182.6 408.07h0.6M195.2 408.07h0.6M199.4 408.07h0.6M202.4 408.07h0.6M212.6 408.07h0.6M218 408.07h0.6M219.2 408.07h0.6M230 408.07h0.6M231.8 408.07h0.6M240.8 408.07h0.6M242.6 408.07h0.6M245 408.07h0.6M250.4 408.07h0.6M257.6 408.07h0.6M261.2 408.07h0.6M263.6 408.07h0.6M270.8 408.07h0.6M276.2 408.07h0.6M281 408.07h0.6M294.8 408.07h0.6M297.2 408.07h1.2M299 408.07h1.8M309.2 408.07h0.6M323 408.07h1.2M325.4 408.07h0.6M329.6 408.07h1.2M347.6 408.07h0.6M354.2 408.07h1.2M357.2 408.07h0.6M165.8 412.18h0.6M172.4 412.18h0.6M176 412.18h0.6M180.2 412.18h1.2M184.4 412.18h0.6M188.6 412.18h1.2M194.6 412.18h0.6M211.4 412.18h0.6M217.4 412.18h0.6M220.4 412.18h0.6M231.2 412.18h0.6M232.4 412.18h0.6M234.8 412.18h1.2M240.8 412.18h0.6M251.6 412.18h0.6M252.8 412.18h0.6M257.6 412.18h0.6M267.2 412.18h0.6M274.4 412.18h0.6M278 412.18h0.6M279.2 412.18h0.6M284 412.18h0.6M287 412.18h0.6M290 412.18h1.2M299 412.18h0.6M308 412.18h0.6M309.2 412.18h0.6M317.6 412.18h0.6M320 412.18h1.2M324.8 412.18h0.6M326 412.18h0.6M329.6 412.18h0.6M333.8 412.18h0.6M336.2 412.18h0.6M345.2 412.18h0.6M347 412.18h0.6M349.4 412.18h0.6M354.2 412.18h0.6M357.2 412.18h0.6M159.8 416.29h0.6M167.6 416.29h0.6M171.8 416.29h1.2M191 416.29h0.6M200 416.29h0.6M201.8 416.29h0.6M205.4 416.29h1.2M209.6 416.29h0.6M213.8 416.29h0.6M220.4 416.29h0.6M222.2 416.29h2.4M228.8 416.29h0.6M234.2 416.29h0.6M236.6 416.29h0.6M240.2 416.29h0.6M248.6 416.29h0.6M258.8 416.29h0.6M261.2 416.29h0.6M276.2 416.29h0.6M279.2 416.29h0.6M288.2 416.29h0.6M291.8 416.29h0.6M299 416.29h0.6M302 416.29h0.6M303.2 416.29h0.6M307.4 416.29h0.6M309.8 416.29h0.6M317 416.29h0.6M319.4 416.29h0.6M321.8 416.29h0.6M329.6 416.29h0.6M332.6 416.29h0.6M336.8 416.29h0.6M345.8 416.29h0.6M354.2 416.29h1.2M159.8 420.41h0.6M162.8 420.41h1.8M188.6 420.41h0.6M189.8 420.41h1.2M198.2 420.41h1.2M211.4 420.41h0.6M213.8 420.41h0.6M219.8 420.41h0.6M225.8 420.41h0.6M236.6 420.41h0.6M245 420.41h0.6M250.4 420.41h0.6M252.8 420.41h0.6M257 420.41h0.6M261.2 420.41h0.6M264.8 420.41h0.6M268.4 420.41h0.6M278 420.41h1.8M280.4 420.41h0.6M285.8 420.41h0.6M288.2 420.41h1.2M305.6 420.41h1.2M308 420.41h0.6M313.4 420.41h1.2M326.6 420.41h0.6M329 420.41h0.6M330.2 420.41h0.6M334.4 420.41h0.6M341 420.41h0.6M343.4 420.41h1.8M350.6 420.41h0.6M167.6 424.52h0.6M177.8 424.52h0.6M200 424.52h0.6M201.8 424.52h0.6M203 424.52h0.6M204.2 424.52h0.6M206.6 424.52h0.6M215.6 424.52h0.6M219.8 424.52h0.6M222.2 424.52h0.6M224 424.52h0.6M227.6 424.52h0.6M230.6 424.52h0.6M241.4 424.52h0.6M245.6 424.52h1.2M251.6 424.52h0.6M258.2 424.52h0.6M269.6 424.52h0.6M273.2 424.52h0.6M276.2 424.52h1.2M279.2 424.52h1.2M289.4 424.52h0.6M293.6 424.52h0.6M297.8 424.52h0.6M310.4 424.52h0.6M311.6 424.52h0.6M324.2 424.52h0.6M325.4 424.52h0.6M327.2 424.52h0.6M330.2 424.52h0.6M333.2 424.52h0.6M336.8 424.52h0.6M348.8 424.52h0.6M164 428.63h0.6M165.2 428.63h1.2M167 428.63h0.6M168.8 428.63h1.2M183.2 428.63h0.6M184.4 428.63h0.6M191 428.63h0.6M193.4 428.63h1.2M196.4 428.63h0.6M217.4 428.63h0.6M219.8 428.63h1.2M222.2 428.63h0.6M223.4 428.63h0.6M225.8 428.63h0.6M229.4 428.63h0.6M234.2 428.63h0.6M236.6 428.63h0.6M239.6 428.63h0.6M242.6 428.63h0.6M251.6 428.63h1.2M254.6 428.63h0.6M257.6 428.63h0.6M259.4 428.63h1.2M261.8 428.63h1.2M263.6 428.63h1.8M267.8 428.63h0.6M270.2 428.63h0.6M271.4 428.63h0.6M273.2 428.63h0.6M279.8 428.63h1.2M284.6 428.63h0.6M287 428.63h0.6M288.2 428.63h0.6M295.4 428.63h0.6M299.6 428.63h0.6M301.4 428.63h0.6M303.2 428.63h0.6M309.2 428.63h2.4M312.2 428.63h0.6M313.4 428.63h0.6M320 428.63h0.6M322.4 428.63h0.6M333.2 428.63h0.6M335 428.63h0.6M336.2 428.63h0.6M338.6 428.63h0.6M340.4 428.63h0.6M342.8 428.63h0.6M347 428.63h1.2M348.8 428.63h0.6M350.6 428.63h0.6M356 428.63h1.2M157.4 432.74h0.6M160.4 432.74h0.6M165.8 432.74h0.6M175.4 432.74h0.6M176.6 432.74h1.2M179 432.74h0.6M182 432.74h1.2M185 432.74h0.6M189.2 432.74h1.2M208.4 432.74h1.2M210.2 432.74h0.6M212.6 432.74h0.6M213.8 432.74h0.6M216.2 432.74h0.6M217.4 432.74h1.2M221 432.74h0.6M225.2 432.74h0.6M230.6 432.74h0.6M234.8 432.74h0.6M236 432.74h0.6M237.2 432.74h0.6M239.6 432.74h0.6M245.6 432.74h1.2M251.6 432.74h1.8M263 432.74h0.6M275.6 432.74h0.6M278 432.74h0.6M285.8 432.74h0.6M288.8 432.74h0.6M290.6 432.74h0.6M291.8 432.74h1.8M303.2 432.74h0.6M304.4 432.74h0.6M308 432.74h1.2M311 432.74h0.6M312.2 432.74h0.6M324.8 432.74h1.8M327.2 432.74h0.6M331.4 432.74h0.6M339.8 432.74h2.4M348.8 432.74h0.6M350 432.74h1.8M353 432.74h0.6M357.8 432.74h1.4M199.4 436.85h0.6M202.4 436.85h1.8M207.8 436.85h0.6M214.4 436.85h0.6M218.6 436.85h0.6M224 436.85h0.6M260.6 436.85h1.2M267.2 436.85h0.6M271.4 436.85h0.6M281 436.85h1.8M285.2 436.85h1.2M287 436.85h1.2M292.4 436.85h0.6M297.8 436.85h0.6M306.2 436.85h1.2M327.2 436.85h0.6M339.8 436.85h0.6M342.2 436.85h1.2M353 436.85h1.2M200 440.96h0.6M202.4 440.96h0.6M203.6 440.96h1.8M207.2 440.96h0.6M209 440.96h0.6M210.2 440.96h0.6M213.8 440.96h0.6M224 440.96h1.2M229.4 440.96h0.6M232.4 440.96h1.2M236 440.96h0.6M248.6 440.96h1.2M251.6 440.96h1.2M254.6 440.96h0.6M256.4 440.96h0.6M258.8 440.96h0.6M263 440.96h0.6M266 440.96h1.8M270.8 440.96h1.2M274.4 440.96h0.6M280.4 440.96h1.2M285.8 440.96h0.6M287.6 440.96h0.6M298.4 440.96h0.6M299.6 440.96h0.6M303.8 440.96h0.6M305 440.96h0.6M308 440.96h0.6M310.4 440.96h1.8M313.4 440.96h0.6M318.2 440.96h0.6M323 440.96h0.6M324.2 440.96h0.6M325.4 440.96h1.2M330.8 440.96h0.6M332 440.96h0.6M345.8 440.96h0.6M351.8 440.96h1.8M356.6 440.96h1.8M159.8 445.07h0.6M163.4 445.07h0.6M169.4 445.07h1.8M190.4 445.07h0.6M201.2 445.07h0.6M206 445.07h0.6M209.6 445.07h1.2M212.6 445.07h0.6M215.6 445.07h0.6M218 445.07h0.6M222.8 445.07h0.6M227.6 445.07h0.6M228.8 445.07h0.6M231.2 445.07h1.8M235.4 445.07h1.2M237.8 445.07h0.6M239 445.07h0.6M240.2 445.07h1.2M248.6 445.07h1.2M252.2 445.07h1.2M256.4 445.07h0.6M263.6 445.07h0.6M266.6 445.07h0.6M269.6 445.07h1.2M275 445.07h0.6M276.8 445.07h0.6M282.2 445.07h0.6M287 445.07h0.6M291.2 445.07h0.6M297.8 445.07h0.6M299.6 445.07h0.6M300.8 445.07h0.6M305 445.07h1.2M308.6 445.07h0.6M309.8 445.07h0.6M315.8 445.07h1.8M322.4 445.07h0.6M327.2 445.07h0.6M332 445.07h0.6M336.2 445.07h1.2M341 445.07h1.8M344 445.07h1.8M346.4 445.07h0.6M348.2 445.07h0.6M351.2 445.07h0.6M354.2 445.07h0.6M357.2 445.07h0.6M200 449.19h0.6M204.8 449.19h0.6M207.8 449.19h0.6M209 449.19h1.2M210.8 449.19h0.6M213.2 449.19h0.6M215.6 449.19h0.6M218 449.19h0.6M219.2 449.19h0.6M221 449.19h0.6M231.8 449.19h1.2M236 449.19h3M243.8 449.19h0.6M248.6 449.19h1.2M251 449.19h0.6M253.4 449.19h0.6M257 449.19h0.6M260 449.19h0.6M262.4 449.19h1.2M266 449.19h1.8M270.8 449.19h1.2M272.6 449.19h0.6M277.4 449.19h0.6M278.6 449.19h0.6M281 449.19h0.6M285.8 449.19h0.6M288.2 449.19h1.8M298.4 449.19h0.6M299.6 449.19h0.6M305.6 449.19h2.4M317.6 449.19h0.6M322.4 449.19h0.6M324.8 449.19h1.8M328.4 449.19h0.6M336.8 449.19h1.2M341.6 449.19h3M345.2 449.19h1.2M347 449.19h1.2M350.6 449.19h3M357.2 449.19h2M156.8 453.3h1.8M161 453.3h0.6M166.4 453.3h0.6M171.8 453.3h1.2M192.2 453.3h0.6M216.8 453.3h0.6M230.6 453.3h0.6M236.6 453.3h0.6M243.2 453.3h0.6M249.8 453.3h0.6M263.6 453.3h0.6M268.4 453.3h0.6M275.6 453.3h1.2M282.2 453.3h0.6M285.2 453.3h0.6M287 453.3h0.6M291.2 453.3h1.2M293 453.3h0.6M294.8 453.3h0.6M302 453.3h0.6M303.8 453.3h0.6M313.4 453.3h0.6M317.6 453.3h0.6M319.4 453.3h1.8M323.6 453.3h0.6M331.4 453.3h1.8M333.8 453.3h1.2M336.2 453.3h0.6M337.4 453.3h0.6M341 453.3h0.6M342.8 453.3h0.6M345.2 453.3h0.6M346.4 453.3h0.6M348.8 453.3h0.6M201.2 457.41h0.6M204.8 457.41h1.2M216.2 457.41h0.6M218.6 457.41h0.6M222.2 457.41h0.6M227.6 457.41h0.6M232.4 457.41h0.6M242.6 457.41h0.6M244.4 457.41h0.6M252.2 457.41h0.6M253.4 457.41h0.6M257.6 457.41h0.6M258.8 457.41h0.6M260.6 457.41h0.6M271.4 457.41h0.6M276.8 457.41h0.6M281 457.41h0.6M282.2 457.41h0.6M285.8 457.41h0.6M287 457.41h0.6M292.4 457.41h0.6M297.2 457.41h1.2M301.4 457.41h0.6M304.4 457.41h1.2M308 457.41h1.8M310.4 457.41h0.6M312.2 457.41h0.6M324.2 457.41h0.6M332.6 457.41h0.6M335 457.41h0.6M340.4 457.41h0.6M345.8 457.41h1.2M358.4 457.41h0.8M201.8 461.52h1.2M206 461.52h0.6M212.6 461.52h0.6M216.8 461.52h0.6M219.2 461.52h0.6M222.2 461.52h0.6M223.4 461.52h1.2M228.2 461.52h0.6M239 461.52h0.6M246.8 461.52h0.6M253.4 461.52h0.6M255.2 461.52h0.6M263 461.52h0.6M265.4 461.52h0.6M266.6 461.52h0.6M270.8 461.52h0.6M278.6 461.52h0.6M280.4 461.52h0.6M283.4 461.52h0.6M284.6 461.52h0.6M285.8 461.52h0.6M287.6 461.52h0.6M291.2 461.52h0.6M293.6 461.52h0.6M300.8 461.52h1.8M305 461.52h1.2M308 461.52h0.6M310.4 461.52h0.6M311.6 461.52h0.6M321.8 461.52h1.2M324.8 461.52h0.6M326.6 461.52h0.6M335 461.52h0.6M336.2 461.52h0.6M337.4 461.52h0.6M339.8 461.52h0.6M345.8 461.52h0.6M352.4 461.52h0.6M353.6 461.52h1.2M356.6 461.52h2.6M180.2 465.63h1.2M190.4 465.63h0.6M191.6 465.63h0.6M194.6 465.63h0.6M197 465.63h1.2M203 465.63h1.2M204.8 465.63h1.2M210.2 465.63h0.6M211.4 465.63h1.2M215 465.63h0.6M219.2 465.63h0.6M222.2 465.63h2.4M225.8 465.63h0.6M236 465.63h0.6M237.8 465.63h0.6M245 465.63h0.6M249.2 465.63h0.6M257 465.63h0.6M259.4 465.63h2.4M263.6 465.63h1.8M266 465.63h0.6M268.4 465.63h0.6M270.2 465.63h0.6M277.4 465.63h0.6M280.4 465.63h0.6M282.8 465.63h0.6M293.6 465.63h1.2M300.2 465.63h1.2M306.2 465.63h0.6M309.2 465.63h0.6M311.6 465.63h0.6M321.8 465.63h0.6M323 465.63h0.6M326.6 465.63h0.6M330.2 465.63h0.6M335.6 465.63h0.6M339.8 465.63h0.6M342.2 465.63h0.6M347.6 465.63h0.6M350 465.63h1.2M357.8 465.63h0.6M156.8 469.74h1.8M159.8 469.74h0.6M170.6 469.74h0.6M172.4 469.74h0.6M174.8 469.74h0.6M182.6 469.74h0.6M186.8 469.74h0.6M190.4 469.74h0.6M192.2 469.74h0.6M194.6 469.74h0.6M202.4 469.74h0.6M209 469.74h0.6M213.8 469.74h0.6M215.6 469.74h1.2M222.8 469.74h0.6M236.6 469.74h0.6M237.8 469.74h0.6M239.6 469.74h0.6M258.8 469.74h0.6M262.4 469.74h0.6M264.8 469.74h0.6M266 469.74h0.6M271.4 469.74h0.6M273.2 469.74h0.6M284.6 469.74h0.6M290 469.74h1.2M293 469.74h0.6M298.4 469.74h1.2M310.4 469.74h0.6M323.6 469.74h0.6M326 469.74h0.6M331.4 469.74h0.6M336.8 469.74h1.2M341 469.74h0.6M351.2 469.74h0.6"/>
<path stroke="#565524" stroke-width="4.11" d="M159.8 432.74h0.6M168.2 432.74h0.6M174.8 432.74h0.6M188.6 432.74h0.6M194.6 432.74h0.6M197.6 432.74h0.6M290 432.74h0.6M297.2 432.74h0.6M298.4 432.74h1.2M301.4 432.74h0.6M303.8 432.74h0.6M309.2 432.74h0.6M315.2 432.74h0.6M321.8 432.74h1.2M333.2 432.74h1.2M336.8 432.74h0.6M338 432.74h1.2M343.4 432.74h0.6M353.6 432.74h0.6M291.8 436.85h0.6M297.2 436.85h0.6M298.4 436.85h0.6M301.4 436.85h0.6M305 436.85h0.6M309.8 436.85h0.6M311 436.85h3.6M319.4 436.85h1.2M321.8 436.85h1.2M325.4 436.85h0.6M331.4 436.85h0.6M340.4 436.85h0.6M341.6 436.85h0.6M352.4 436.85h0.6M354.2 436.85h0.6M291.2 449.19h1.2M294.2 449.19h0.6M304.4 449.19h0.6M321.8 449.19h0.6M335.6 449.19h1.2M339.2 449.19h0.6M344.6 449.19h0.6M350 449.19h0.6"/>
<path stroke="#161618" stroke-width="4.11" d="M157.4 375.18h0.6M167.6 375.18h1.2M174.8 375.18h0.6M185 375.18h0.6M189.8 375.18h0.6M191.6 375.18h0.6M197 375.18h0.6M198.8 375.18h1.8M201.8 375.18h0.6M203.6 375.18h1.8M206 375.18h0.6M207.2 375.18h0.6M208.4 375.18h0.6M211.4 375.18h1.2M215.6 375.18h0.6M218 375.18h0.6M219.2 375.18h1.8M222.8 375.18h1.2M224.6 375.18h0.6M227 375.18h1.2M230.6 375.18h0.6M232.4 375.18h0.6M235.4 375.18h0.6M240.2 375.18h1.2M244.4 375.18h1.2M246.2 375.18h0.6M247.4 375.18h0.6M248.6 375.18h1.2M252.2 375.18h2.4M258.2 375.18h0.6M259.4 375.18h0.6M261.8 375.18h1.2M264.8 375.18h0.6M266 375.18h1.2M270.2 375.18h4.2M275.6 375.18h0.6M279.8 375.18h1.2M284 375.18h1.8M287 375.18h1.2M288.8 375.18h0.6M290 375.18h1.8M292.4 375.18h0.6M294.8 375.18h0.6M296 375.18h0.6M299 375.18h0.6M300.2 375.18h0.6M302.6 375.18h0.6M305.6 375.18h0.6M310.4 375.18h1.8M313.4 375.18h0.6M315.8 375.18h0.6M317 375.18h0.6M318.2 375.18h1.2M320.6 375.18h0.6M321.8 375.18h2.4M324.8 375.18h0.6M327.8 375.18h0.6M329.6 375.18h0.6M332 375.18h0.6M333.8 375.18h1.2M338 375.18h0.6M339.2 375.18h0.6M340.4 375.18h1.8M343.4 375.18h0.6M347.6 375.18h0.6M348.8 375.18h0.6M350 375.18h0.6M356 375.18h2.4M156.8 436.85h4.2M162.8 436.85h1.2M165.2 436.85h1.2M167 436.85h0.6M168.2 436.85h0.6M169.4 436.85h1.8M172.4 436.85h1.2M174.8 436.85h0.6M176 436.85h1.8M178.4 436.85h1.2M180.2 436.85h1.2M182.6 436.85h1.2M184.4 436.85h3M188.6 436.85h2.4M191.6 436.85h1.2M194 436.85h1.2M195.8 436.85h0.6M197.6 436.85h0.6M198.8 436.85h0.6M200 436.85h2.4M204.2 436.85h1.2M206 436.85h1.8M208.4 436.85h1.2M210.2 436.85h4.2M215 436.85h1.2M216.8 436.85h0.6M219.2 436.85h4.8M224.6 436.85h0.6M225.8 436.85h2.4M229.4 436.85h0.6M230.6 436.85h3M234.2 436.85h0.6M236 436.85h0.6M243.8 436.85h1.8M246.8 436.85h0.6M248 436.85h1.8M250.4 436.85h1.2M252.8 436.85h1.8M255.2 436.85h2.4M258.8 436.85h1.8M261.8 436.85h0.6M263 436.85h4.2M267.8 436.85h3.6M272 436.85h8.4M282.8 436.85h2.4M286.4 436.85h0.6M288.2 436.85h3.6M293 436.85h1.8M295.4 436.85h1.8M300.2 436.85h1.2M302 436.85h0.6M303.2 436.85h1.8M305.6 436.85h0.6M307.4 436.85h2.4M310.4 436.85h0.6M314.6 436.85h0.6M315.8 436.85h2.4M318.8 436.85h0.6M321.2 436.85h0.6M323 436.85h2.4M326 436.85h1.2M327.8 436.85h3.6M332 436.85h1.2M335 436.85h1.2M337.4 436.85h2.4M341 436.85h0.6M343.4 436.85h7.8M351.8 436.85h0.6M354.8 436.85h0.6M356.6 436.85h2.6M158.6 440.96h2.4M162.8 440.96h1.2M167.6 440.96h0.6M170.6 440.96h1.2M172.4 440.96h1.2M176.6 440.96h0.6M185 440.96h0.6M186.8 440.96h0.6M188.6 440.96h1.2M194.6 440.96h1.2M203 440.96h0.6M208.4 440.96h0.6M212.6 440.96h0.6M215.6 440.96h0.6M216.8 440.96h1.2M221 440.96h0.6M223.4 440.96h0.6M227 440.96h0.6M228.2 440.96h0.6M230 440.96h0.6M234.8 440.96h0.6M236.6 440.96h0.6M237.8 440.96h1.8M243.2 440.96h1.2M249.8 440.96h0.6M251 440.96h0.6M253.4 440.96h0.6M258.2 440.96h0.6M264.2 440.96h1.8M270.2 440.96h0.6M272 440.96h1.2M277.4 440.96h0.6M278.6 440.96h0.6M281.6 440.96h0.6M282.8 440.96h0.6M284.6 440.96h1.2M287 440.96h0.6M288.2 440.96h2.4M294.8 440.96h1.8M297.2 440.96h1.2M300.2 440.96h1.8M302.6 440.96h0.6M304.4 440.96h0.6M305.6 440.96h0.6M308.6 440.96h0.6M312.8 440.96h0.6M314 440.96h0.6M316.4 440.96h0.6M317.6 440.96h0.6M323.6 440.96h0.6M327.2 440.96h1.8M330.2 440.96h0.6M333.8 440.96h0.6M335.6 440.96h0.6M337.4 440.96h1.8M342.2 440.96h1.2M347 440.96h0.6M350 440.96h1.8M353.6 440.96h0.6M354.8 440.96h0.6M358.4 440.96h0.6M159.2 449.19h1.2M161 449.19h1.2M163.4 449.19h0.6M165.8 449.19h0.6M167.6 449.19h1.2M172.4 449.19h0.6M175.4 449.19h1.2M180.2 449.19h0.6M182.6 449.19h0.6M185 449.19h1.2M190.4 449.19h0.6M199.4 449.19h0.6M200.6 449.19h1.8M205.4 449.19h1.2M207.2 449.19h0.6M208.4 449.19h0.6M210.2 449.19h0.6M211.4 449.19h1.8M216.2 449.19h1.2M221.6 449.19h1.8M225.2 449.19h2.4M228.2 449.19h0.6M230.6 449.19h1.2M233.6 449.19h0.6M235.4 449.19h0.6M239 449.19h1.2M242.6 449.19h1.2M244.4 449.19h1.2M246.8 449.19h1.8M249.8 449.19h1.2M251.6 449.19h0.6M255.8 449.19h0.6M257.6 449.19h1.2M261.8 449.19h0.6M263.6 449.19h2.4M267.8 449.19h0.6M269.6 449.19h0.6M272 449.19h0.6M273.8 449.19h0.6M275.6 449.19h1.8M279.2 449.19h0.6M280.4 449.19h0.6M283.4 449.19h1.2M285.2 449.19h0.6M286.4 449.19h1.8M290 449.19h1.2M292.4 449.19h0.6M293.6 449.19h0.6M295.4 449.19h0.6M297.8 449.19h0.6M299 449.19h0.6M300.2 449.19h0.6M301.4 449.19h3M305 449.19h0.6M308 449.19h2.4M311.6 449.19h1.8M314 449.19h1.8M317 449.19h0.6M318.2 449.19h0.6M320 449.19h1.2M323 449.19h0.6M324.2 449.19h0.6M326.6 449.19h1.8M329 449.19h1.2M332 449.19h1.2M333.8 449.19h1.8M338 449.19h1.2M339.8 449.19h0.6M341 449.19h0.6M346.4 449.19h0.6M348.2 449.19h1.8M353.6 449.19h3.6M159.8 461.52h2.4M163.4 461.52h0.6M166.4 461.52h1.8M171.8 461.52h3.6M176.6 461.52h0.6M186.8 461.52h1.2M188.6 461.52h0.6M194 461.52h1.2M199.4 461.52h2.4M203 461.52h3M206.6 461.52h1.2M210.2 461.52h1.8M213.2 461.52h1.2M215.6 461.52h1.2M217.4 461.52h1.2M222.8 461.52h0.6M225.8 461.52h0.6M227 461.52h1.2M228.8 461.52h1.2M230.6 461.52h0.6M233 461.52h4.2M237.8 461.52h1.2M243.2 461.52h0.6M244.4 461.52h0.6M246.2 461.52h0.6M248 461.52h1.2M249.8 461.52h1.2M251.6 461.52h1.8M254 461.52h1.2M256.4 461.52h1.2M258.2 461.52h0.6M262.4 461.52h0.6M263.6 461.52h0.6M264.8 461.52h0.6M267.2 461.52h0.6M270.2 461.52h0.6M271.4 461.52h0.6M272.6 461.52h1.2M274.4 461.52h2.4M277.4 461.52h0.6M279.2 461.52h1.2M281 461.52h1.8M284 461.52h0.6M286.4 461.52h1.2M288.2 461.52h0.6M290 461.52h1.2M291.8 461.52h1.8M294.2 461.52h0.6M297.2 461.52h0.6M298.4 461.52h0.6M299.6 461.52h1.2M302.6 461.52h1.2M308.6 461.52h1.8M311 461.52h0.6M315.8 461.52h1.2M320 461.52h0.6M321.2 461.52h0.6M323.6 461.52h1.2M325.4 461.52h1.2M327.2 461.52h1.8M329.6 461.52h0.6M332.6 461.52h1.8M335.6 461.52h0.6M336.8 461.52h0.6M338 461.52h1.8M340.4 461.52h3M344 461.52h0.6M346.4 461.52h0.6M348.8 461.52h2.4M351.8 461.52h0.6M353 461.52h0.6M354.8 461.52h1.8"/>
<path stroke="#222868" stroke-width="4.11" d="M156.8 375.18h0.6M158 375.18h4.2M162.8 375.18h1.8M165.8 375.18h1.8M168.8 375.18h6M175.4 375.18h9.6M185.6 375.18h4.2M190.4 375.18h1.2M192.2 375.18h4.8M197.6 375.18h1.2M200.6 375.18h1.2M205.4 375.18h0.6M206.6 375.18h0.6M207.8 375.18h0.6M209 375.18h2.4M216.8 375.18h1.2M225.2 375.18h1.8M228.8 375.18h1.8M233 375.18h2.4M237.2 375.18h3M242.6 375.18h1.8M245.6 375.18h0.6M248 375.18h0.6M249.8 375.18h1.2M258.8 375.18h0.6M269 375.18h1.2M276.2 375.18h0.6M281 375.18h2.4M289.4 375.18h0.6M293 375.18h1.2M299.6 375.18h0.6M302 375.18h0.6M312.2 375.18h1.2M316.4 375.18h0.6M321.2 375.18h0.6M328.4 375.18h1.2M330.2 375.18h1.2M349.4 375.18h0.6M353.6 375.18h1.2M291.2 432.74h0.6M294.2 432.74h1.2M296.6 432.74h0.6M300.8 432.74h0.6M305 432.74h1.2M310.4 432.74h0.6M314 432.74h0.6M315.8 432.74h0.6M317 432.74h0.6M318.2 432.74h0.6M324.2 432.74h0.6M327.8 432.74h0.6M344.6 432.74h0.6M345.8 432.74h1.2M348.2 432.74h0.6M356.6 432.74h1.2M161 436.85h1.8M164 436.85h1.2M166.4 436.85h0.6M167.6 436.85h0.6M168.8 436.85h0.6M171.2 436.85h1.2M173.6 436.85h1.2M175.4 436.85h0.6M177.8 436.85h0.6M179.6 436.85h0.6M181.4 436.85h1.2M183.8 436.85h0.6M188 436.85h0.6M191 436.85h0.6M192.8 436.85h0.6M195.2 436.85h0.6M196.4 436.85h1.2M198.2 436.85h0.6M205.4 436.85h0.6M209.6 436.85h0.6M216.2 436.85h0.6M217.4 436.85h1.2M225.2 436.85h0.6M228.2 436.85h1.2M230 436.85h0.6M233.6 436.85h0.6M234.8 436.85h1.2M236.6 436.85h7.2M245.6 436.85h1.2M247.4 436.85h0.6M249.8 436.85h0.6M251.6 436.85h1.2M254.6 436.85h0.6M257.6 436.85h1.2M262.4 436.85h0.6M294.8 436.85h0.6M299 436.85h1.2M302.6 436.85h0.6M315.2 436.85h0.6M318.2 436.85h0.6M320.6 436.85h0.6M333.2 436.85h1.8M336.2 436.85h1.2M351.2 436.85h0.6M355.4 436.85h1.2M156.8 440.96h1.8M161 440.96h0.6M165.8 440.96h1.8M168.2 440.96h1.8M171.8 440.96h0.6M173.6 440.96h0.6M174.8 440.96h1.8M177.2 440.96h1.8M179.6 440.96h2.4M182.6 440.96h1.8M185.6 440.96h1.2M187.4 440.96h0.6M189.8 440.96h1.2M191.6 440.96h0.6M194 440.96h0.6M195.8 440.96h0.6M197 440.96h2.4M200.6 440.96h1.8M205.4 440.96h1.8M207.8 440.96h0.6M210.8 440.96h1.8M213.2 440.96h0.6M216.2 440.96h0.6M218 440.96h3M221.6 440.96h1.8M225.2 440.96h1.8M228.8 440.96h0.6M230.6 440.96h1.8M233.6 440.96h1.2M235.4 440.96h0.6M237.2 440.96h0.6M239.6 440.96h3.6M244.4 440.96h4.2M250.4 440.96h0.6M252.8 440.96h0.6M257 440.96h1.2M263.6 440.96h0.6M267.8 440.96h2.4M273.2 440.96h1.2M276.2 440.96h1.2M278 440.96h0.6M279.2 440.96h1.2M282.2 440.96h0.6M286.4 440.96h0.6M290.6 440.96h3.6M296.6 440.96h0.6M302 440.96h0.6M309.2 440.96h1.2M312.2 440.96h0.6M314.6 440.96h1.8M317 440.96h0.6M318.8 440.96h4.2M324.8 440.96h0.6M326.6 440.96h0.6M329 440.96h1.2M331.4 440.96h0.6M332.6 440.96h1.2M334.4 440.96h1.2M336.2 440.96h1.2M340.4 440.96h1.8M343.4 440.96h2.4M346.4 440.96h0.6M347.6 440.96h2.4M354.2 440.96h0.6M355.4 440.96h1.2M156.8 449.19h2.4M160.4 449.19h0.6M162.2 449.19h1.2M164 449.19h0.6M166.4 449.19h1.2M168.8 449.19h0.6M171.2 449.19h1.2M173 449.19h2.4M176.6 449.19h3.6M180.8 449.19h0.6M182 449.19h0.6M183.2 449.19h1.8M186.2 449.19h4.2M191 449.19h2.4M194 449.19h5.4M203.6 449.19h1.2M206.6 449.19h0.6M219.8 449.19h1.2M223.4 449.19h1.8M228.8 449.19h1.8M234.2 449.19h1.2M240.2 449.19h2.4M245.6 449.19h1.2M252.2 449.19h1.2M254.6 449.19h1.2M256.4 449.19h0.6M258.8 449.19h1.2M268.4 449.19h1.2M273.2 449.19h0.6M279.8 449.19h0.6M284.6 449.19h0.6M293 449.19h0.6M294.8 449.19h0.6M296 449.19h1.8M300.8 449.19h0.6M310.4 449.19h1.2M313.4 449.19h0.6M315.8 449.19h1.2M318.8 449.19h1.2M321.2 449.19h0.6M323.6 449.19h0.6M330.2 449.19h1.8M333.2 449.19h0.6M340.4 449.19h0.6M294.8 457.41h0.6M303.2 457.41h1.2M306.2 457.41h0.6M315.2 457.41h0.6M320 457.41h0.6M321.8 457.41h0.6M323.6 457.41h0.6M324.8 457.41h1.2M327.2 457.41h0.6M331.4 457.41h0.6M335.6 457.41h0.6M338 457.41h0.6M339.2 457.41h0.6M341.6 457.41h0.6M344 457.41h0.6M345.2 457.41h0.6M156.8 461.52h3M162.2 461.52h1.2M164 461.52h0.6M165.2 461.52h1.2M168.2 461.52h1.2M170 461.52h1.8M175.4 461.52h1.2M177.2 461.52h1.2M179 461.52h3M182.6 461.52h4.2M188 461.52h0.6M189.2 461.52h4.8M195.2 461.52h4.2M207.8 461.52h2.4M219.8 461.52h1.2M224.6 461.52h1.2M226.4 461.52h0.6M230 461.52h0.6M231.2 461.52h0.6M237.2 461.52h0.6M239.6 461.52h3.6M243.8 461.52h0.6M245 461.52h1.2M247.4 461.52h0.6M249.2 461.52h0.6M251 461.52h0.6M255.8 461.52h0.6M257.6 461.52h0.6M258.8 461.52h1.2M261.2 461.52h1.2M264.2 461.52h0.6M267.8 461.52h2.4M272 461.52h0.6M273.8 461.52h0.6M276.8 461.52h0.6M288.8 461.52h1.2M294.8 461.52h2.4M299 461.52h0.6M303.8 461.52h1.2M312.2 461.52h3.6M317 461.52h3M320.6 461.52h0.6M323 461.52h0.6M329 461.52h0.6M330.2 461.52h2.4M334.4 461.52h0.6M343.4 461.52h0.6M344.6 461.52h1.2M347 461.52h1.8M351.2 461.52h0.6M158.6 465.63h1.2M160.4 465.63h0.6M167.6 465.63h1.2M181.4 465.63h0.6M183.2 465.63h0.6M191 465.63h0.6M194 465.63h0.6M291.8 465.63h1.8M296.6 465.63h0.6M305.6 465.63h0.6M311 465.63h0.6M314 465.63h0.6M320 465.63h0.6M322.4 465.63h0.6M327.8 465.63h0.6M331.4 465.63h0.6M341 465.63h0.6M345.2 465.63h1.2M347 465.63h0.6M348.2 465.63h0.6M354.8 465.63h1.2M356.6 465.63h0.6M358.4 465.63h0.6"/>
<path stroke="#5c669e" stroke-width="4.11" d="M159.8 366.96h1.2M167.6 366.96h0.6M175.4 366.96h0.6M180.2 366.96h1.2M183.2 366.96h0.6M190.4 366.96h0.6M200.6 366.96h0.6M202.4 366.96h0.6M206.6 366.96h0.6M212 366.96h0.6M222.8 366.96h1.2M225.8 366.96h0.6M233 366.96h0.6M236 366.96h0.6M240.8 366.96h0.6M252.8 366.96h0.6M262.4 366.96h0.6M269.6 366.96h0.6M282.8 366.96h0.6M296 366.96h1.8M315.8 366.96h1.2M323 366.96h0.6M331.4 366.96h0.6M348.2 366.96h0.6M350 366.96h0.6M356 366.96h0.6M198.2 371.07h0.6M207.8 371.07h0.6M213.8 371.07h0.6M218 371.07h0.6M222.2 371.07h1.2M228.2 371.07h0.6M234.8 371.07h0.6M236.6 371.07h0.6M248 371.07h0.6M249.2 371.07h0.6M252.2 371.07h0.6M255.8 371.07h0.6M272.6 371.07h0.6M278 371.07h0.6M285.8 371.07h0.6M288.8 371.07h0.6M290 371.07h1.2M293.6 371.07h0.6M304.4 371.07h0.6M317 371.07h0.6M321.8 371.07h0.6M331.4 371.07h0.6M342.8 371.07h0.6M347 371.07h0.6M350 371.07h0.6M356.6 371.07h0.6M162.2 375.18h0.6M164.6 375.18h1.2M218 379.29h0.6M245.6 379.29h0.6M161 383.4h0.6M169.4 383.4h0.6M180.2 383.4h0.6M219.8 383.4h0.6M222.8 383.4h0.6M235.4 383.4h0.6M236.6 383.4h1.2M241.4 383.4h1.2M243.8 383.4h0.6M246.2 383.4h0.6M268.4 383.4h0.6M276.8 383.4h0.6M281 383.4h0.6M312.2 383.4h0.6M344 383.4h0.6M351.2 383.4h0.6M173 387.51h0.6M174.8 387.51h0.6M185 387.51h0.6M186.8 387.51h0.6M189.8 387.51h1.2M215 387.51h0.6M217.4 387.51h1.2M219.8 387.51h0.6M222.8 387.51h0.6M229.4 387.51h0.6M231.2 387.51h0.6M233 387.51h0.6M237.8 387.51h0.6M251.6 387.51h0.6M257.6 387.51h0.6M269 387.51h0.6M291.8 387.51h0.6M299.6 387.51h0.6M312.2 387.51h0.6M313.4 387.51h0.6M318.8 387.51h0.6M320 387.51h0.6M323.6 387.51h0.6M333.2 387.51h0.6M336.8 387.51h0.6M342.8 387.51h0.6M215 391.62h0.6M221 391.62h0.6M222.8 391.62h0.6M224.6 391.62h0.6M228.8 391.62h0.6M231.2 391.62h1.2M239 391.62h0.6M255.2 391.62h0.6M270.8 391.62h0.6M273.2 391.62h0.6M279.2 391.62h0.6M287 391.62h0.6M288.2 391.62h0.6M298.4 391.62h1.2M300.2 391.62h0.6M310.4 391.62h0.6M314 391.62h1.2M315.8 391.62h0.6M335.6 391.62h1.2M340.4 391.62h0.6M342.8 391.62h0.6M356 391.62h0.6M180.8 395.74h0.6M184.4 395.74h1.2M197.6 395.74h0.6M223.4 395.74h0.6M224.6 395.74h1.2M226.4 395.74h0.6M228.2 395.74h0.6M234.8 395.74h0.6M263 395.74h1.2M270.8 395.74h0.6M273.2 395.74h1.2M280.4 395.74h0.6M294.8 395.74h0.6M300.8 395.74h1.8M305.6 395.74h0.6M311.6 395.74h1.8M318.2 395.74h0.6M319.4 395.74h0.6M328.4 395.74h0.6M333.2 395.74h0.6M335.6 395.74h0.6M336.8 395.74h0.6M341.6 395.74h0.6M355.4 395.74h0.6M356.6 395.74h0.6M161.6 399.85h0.6M175.4 399.85h0.6M200.6 399.85h0.6M205.4 399.85h0.6M207.2 399.85h1.2M225.8 399.85h1.2M228.8 399.85h1.2M242 399.85h0.6M246.8 399.85h0.6M279.8 399.85h0.6M315.8 399.85h0.6M317.6 399.85h0.6M334.4 399.85h0.6M355.4 399.85h0.6M358.4 399.85h0.6M201.8 403.96h0.6M204.8 403.96h0.6M211.4 403.96h0.6M233.6 403.96h0.6M235.4 403.96h0.6M239 403.96h0.6M242 403.96h0.6M253.4 403.96h0.6M261.8 403.96h0.6M272 403.96h0.6M276.2 403.96h0.6M278 403.96h0.6M282.2 403.96h0.6M284.6 403.96h0.6M290 403.96h0.6M291.8 403.96h0.6M338.6 403.96h1.2M342.8 403.96h0.6M344 403.96h0.6M345.2 403.96h1.2M347.6 403.96h0.6M175.4 408.07h0.6M207.8 408.07h0.6M210.2 408.07h0.6M230.6 408.07h0.6M235.4 408.07h0.6M236.6 408.07h0.6M239 408.07h0.6M249.2 408.07h1.2M254 408.07h0.6M263 408.07h0.6M265.4 408.07h0.6M267.8 408.07h0.6M275 408.07h0.6M276.8 408.07h0.6M280.4 408.07h0.6M300.8 408.07h0.6M326.6 408.07h0.6M330.8 408.07h0.6M333.2 408.07h0.6M334.4 408.07h1.2M342.8 408.07h0.6M348.8 408.07h1.2M353.6 408.07h0.6M356.6 408.07h0.6M203.6 412.18h0.6M223.4 412.18h0.6M229.4 412.18h0.6M243.8 412.18h0.6M248 412.18h0.6M252.2 412.18h0.6M255.2 412.18h0.6M261.2 412.18h0.6M273.8 412.18h0.6M277.4 412.18h0.6M279.8 412.18h0.6M295.4 412.18h0.6M297.8 412.18h0.6M301.4 412.18h0.6M308.6 412.18h0.6M311.6 412.18h0.6M315.2 412.18h0.6M318.2 412.18h0.6M328.4 412.18h0.6M332 412.18h0.6M345.8 412.18h0.6M351.2 412.18h0.6M356 412.18h0.6M185 416.29h0.6M191.6 416.29h1.2M202.4 416.29h0.6M204.8 416.29h0.6M208.4 416.29h1.2M210.8 416.29h0.6M230.6 416.29h0.6M245.6 416.29h1.2M272 416.29h0.6M293 416.29h0.6M298.4 416.29h0.6M304.4 416.29h0.6M308 416.29h0.6M313.4 416.29h0.6M315.8 416.29h0.6M318.2 416.29h0.6M324.8 416.29h0.6M327.8 416.29h0.6M335 416.29h0.6M351.2 416.29h0.6M353.6 416.29h0.6M356 416.29h0.6M174.8 420.41h0.6M176.6 420.41h0.6M182.6 420.41h0.6M197.6 420.41h0.6M200 420.41h0.6M206.6 420.41h0.6M228.8 420.41h0.6M235.4 420.41h0.6M267.8 420.41h0.6M272.6 420.41h1.2M281.6 420.41h0.6M285.2 420.41h0.6M298.4 420.41h0.6M302 420.41h0.6M304.4 420.41h0.6M312.2 420.41h0.6M317.6 420.41h1.2M323.6 420.41h0.6M333.8 420.41h0.6M335.6 420.41h0.6M341.6 420.41h0.6M347.6 420.41h0.6M348.8 420.41h0.6M354.8 420.41h0.6M359 420.41h0.2M189.8 424.52h1.2M198.8 424.52h0.6M200.6 424.52h0.6M215 424.52h0.6M219.2 424.52h0.6M220.4 424.52h0.6M223.4 424.52h0.6M227 424.52h0.6M228.2 424.52h0.6M237.2 424.52h0.6M238.4 424.52h0.6M242.6 424.52h0.6M247.4 424.52h0.6M258.8 424.52h0.6M263.6 424.52h0.6M264.8 424.52h0.6M282.2 424.52h0.6M288.8 424.52h0.6M292.4 424.52h1.2M299 424.52h0.6M302.6 424.52h0.6M314.6 424.52h0.6M317.6 424.52h0.6M321.2 424.52h0.6M324.8 424.52h0.6M326.6 424.52h0.6M339.2 424.52h0.6M343.4 424.52h0.6M156.8 428.63h0.6M160.4 428.63h0.6M164.6 428.63h0.6M170 428.63h0.6M173 428.63h1.2M181.4 428.63h1.8M185.6 428.63h1.2M200 428.63h0.6M209.6 428.63h0.6M215.6 428.63h0.6M222.8 428.63h0.6M234.8 428.63h0.6M239 428.63h0.6M246.2 428.63h0.6M250.4 428.63h0.6M255.2 428.63h0.6M258.8 428.63h0.6M273.8 428.63h0.6M276.2 428.63h0.6M288.8 428.63h0.6M290 428.63h0.6M296 428.63h1.2M300.2 428.63h1.2M303.8 428.63h0.6M308 428.63h0.6M315.8 428.63h0.6M319.4 428.63h0.6M320.6 428.63h0.6M323 428.63h0.6M324.2 428.63h0.6M329 428.63h1.8M332 428.63h0.6M334.4 428.63h0.6M336.8 428.63h0.6M344 428.63h0.6M349.4 428.63h1.2M357.2 428.63h0.6M209.6 432.74h0.6M212 432.74h0.6M216.8 432.74h0.6M228.2 432.74h0.6M233.6 432.74h0.6M235.4 432.74h0.6M246.8 432.74h0.6M260.6 432.74h0.6M261.8 432.74h1.2M266 432.74h1.2M270.2 432.74h0.6M271.4 432.74h0.6M274.4 432.74h0.6M284 432.74h0.6M288.2 432.74h0.6M187.4 436.85h0.6M193.4 436.85h0.6M161.6 440.96h1.2M164 440.96h1.8M170 440.96h0.6M174.2 440.96h0.6M179 440.96h0.6M182 440.96h0.6M184.4 440.96h0.6M188 440.96h0.6M191 440.96h0.6M192.2 440.96h1.8M196.4 440.96h0.6M159.2 445.07h0.6M171.8 445.07h0.6M192.8 445.07h0.6M195.2 445.07h0.6M197 445.07h0.6M204.2 445.07h0.6M208.4 445.07h0.6M216.2 445.07h0.6M219.2 445.07h0.6M224.6 445.07h0.6M225.8 445.07h0.6M229.4 445.07h0.6M258.2 445.07h0.6M264.2 445.07h0.6M267.2 445.07h0.6M271.4 445.07h0.6M276.2 445.07h0.6M284.6 445.07h0.6M285.8 445.07h1.2M292.4 445.07h1.2M294.8 445.07h0.6M297.2 445.07h0.6M299 445.07h0.6M301.4 445.07h0.6M312.2 445.07h1.2M314 445.07h0.6M318.2 445.07h0.6M323 445.07h1.8M330.2 445.07h0.6M331.4 445.07h0.6M333.8 445.07h1.2M348.8 445.07h0.6M353 445.07h0.6M164.6 449.19h1.2M169.4 449.19h1.8M181.4 449.19h0.6M193.4 449.19h0.6M224 453.3h0.6M228.8 453.3h0.6M246.2 453.3h0.6M258.8 453.3h0.6M269.6 453.3h0.6M279.8 453.3h0.6M290 453.3h0.6M300.2 453.3h1.2M302.6 453.3h0.6M305 453.3h0.6M309.2 453.3h1.2M318.2 453.3h1.2M323 453.3h0.6M329.6 453.3h0.6M335.6 453.3h0.6M338 453.3h0.6M341.6 453.3h1.2M343.4 453.3h0.6M348.2 453.3h0.6M349.4 453.3h0.6M354.2 453.3h0.6M355.4 453.3h0.6M165.8 457.41h0.6M167.6 457.41h1.2M171.2 457.41h0.6M190.4 457.41h0.6M192.8 457.41h0.6M195.8 457.41h0.6M215.6 457.41h0.6M218 457.41h0.6M219.8 457.41h0.6M228.2 457.41h0.6M238.4 457.41h0.6M241.4 457.41h0.6M252.8 457.41h0.6M254.6 457.41h0.6M270.8 457.41h0.6M275 457.41h1.2M279.2 457.41h0.6M286.4 457.41h0.6M287.6 457.41h0.6M291.2 457.41h0.6M293 457.41h1.2M298.4 457.41h0.6M300.2 457.41h0.6M311 457.41h0.6M333.2 457.41h0.6M338.6 457.41h0.6M348.2 457.41h0.6M353.6 457.41h0.6M164.6 461.52h0.6M169.4 461.52h0.6M178.4 461.52h0.6M182 461.52h0.6M198.8 465.63h0.6M207.2 465.63h0.6M212.6 465.63h1.2M215.6 465.63h0.6M216.8 465.63h0.6M221 465.63h0.6M233 465.63h0.6M249.8 465.63h0.6M254.6 465.63h0.6M267.8 465.63h0.6M282.2 465.63h0.6M285.8 465.63h0.6M198.8 469.74h0.6M201.2 469.74h0.6M203.6 469.74h0.6M204.8 469.74h0.6M209.6 469.74h0.6M220.4 469.74h0.6M232.4 469.74h0.6M252.2 469.74h0.6M273.8 469.74h1.2M276.2 469.74h0.6M279.8 469.74h0.6M281 469.74h0.6M291.8 469.74h1.2M297.8 469.74h0.6M300.2 469.74h0.6M315.2 469.74h0.6M324.2 469.74h0.6M330.2 469.74h0.6M335.6 469.74h0.6M338 469.74h0.6M340.4 469.74h0.6M341.6 469.74h1.2M343.4 469.74h0.6M344.6 469.74h0.6M350.6 469.74h0.6M354.2 469.74h0.6M355.4 469.74h0.6M357.2 469.74h0.6"/>
<path stroke="#3a4eba" stroke-width="4.11" d="M156.8 366.96h3M161 366.96h6.6M168.2 366.96h7.2M176 366.96h4.2M181.4 366.96h1.8M183.8 366.96h0.6M185.6 366.96h3M191 366.96h0.6M192.2 366.96h6M201.2 366.96h1.2M209 366.96h3M212.6 366.96h0.6M215.6 366.96h1.8M219.2 366.96h3.6M224 366.96h1.8M228.2 366.96h1.2M232.4 366.96h0.6M233.6 366.96h0.6M235.4 366.96h0.6M236.6 366.96h1.2M238.4 366.96h1.8M241.4 366.96h3.6M245.6 366.96h5.4M256.4 366.96h0.6M259.4 366.96h0.6M268.4 366.96h1.2M270.8 366.96h0.6M272 366.96h2.4M277.4 366.96h0.6M279.2 366.96h1.2M281.6 366.96h1.2M290 366.96h1.2M293.6 366.96h0.6M294.8 366.96h1.2M297.8 366.96h0.6M300.8 366.96h1.8M305 366.96h1.2M312.2 366.96h1.2M314 366.96h1.8M318.8 366.96h2.4M322.4 366.96h0.6M323.6 366.96h3M329 366.96h2.4M333.2 366.96h4.2M338.6 366.96h0.6M343.4 366.96h0.6M344.6 366.96h1.2M347 366.96h1.2M352.4 366.96h0.6M356.6 366.96h0.6M156.8 371.07h5.4M162.8 371.07h4.2M169.4 371.07h1.2M171.2 371.07h0.6M172.4 371.07h4.2M177.2 371.07h3M180.8 371.07h4.2M185.6 371.07h4.2M190.4 371.07h2.4M193.4 371.07h4.2M198.8 371.07h3M205.4 371.07h0.6M206.6 371.07h0.6M209.6 371.07h0.6M210.8 371.07h3M216.2 371.07h1.8M220.4 371.07h1.2M225.2 371.07h2.4M228.8 371.07h1.8M233 371.07h1.8M237.2 371.07h0.6M238.4 371.07h0.6M239.6 371.07h5.4M245.6 371.07h1.2M247.4 371.07h0.6M252.8 371.07h1.2M256.4 371.07h0.6M257.6 371.07h0.6M261.2 371.07h1.2M266.6 371.07h3M270.2 371.07h1.2M272 371.07h0.6M273.2 371.07h2.4M276.2 371.07h1.8M278.6 371.07h1.8M284.6 371.07h0.6M286.4 371.07h0.6M288.2 371.07h0.6M289.4 371.07h0.6M292.4 371.07h1.2M297.8 371.07h1.8M302 371.07h0.6M305.6 371.07h0.6M308 371.07h0.6M311 371.07h0.6M312.8 371.07h1.2M314.6 371.07h2.4M319.4 371.07h0.6M320.6 371.07h0.6M328.4 371.07h0.6M330.2 371.07h1.2M333.8 371.07h0.6M336.8 371.07h0.6M341.6 371.07h0.6M343.4 371.07h0.6M345.2 371.07h1.8M347.6 371.07h1.8M156.8 379.29h10.8M168.8 379.29h6M175.4 379.29h3.6M179.6 379.29h0.6M182 379.29h7.2M189.8 379.29h7.2M197.6 379.29h1.2M200.6 379.29h0.6M246.2 379.29h0.6M247.4 379.29h0.6M279.8 379.29h0.6M330.2 379.29h1.2M340.4 379.29h0.6M156.8 383.4h3M161.6 383.4h7.8M170 383.4h10.2M180.8 383.4h17.4M198.8 383.4h0.6M202.4 383.4h1.8M204.8 383.4h0.6M206.6 383.4h1.8M210.2 383.4h1.2M224 383.4h0.6M240.8 383.4h0.6M242.6 383.4h0.6M245.6 383.4h0.6M247.4 383.4h1.2M257.6 383.4h1.2M308 383.4h0.6M309.2 383.4h1.2M319.4 383.4h0.6M321.2 383.4h1.2M329.6 383.4h1.8M333.8 383.4h0.6M335.6 383.4h0.6M343.4 383.4h0.6M354.8 383.4h1.8M156.8 387.51h7.2M164.6 387.51h6M171.2 387.51h0.6M173.6 387.51h1.2M175.4 387.51h4.8M180.8 387.51h4.2M185.6 387.51h1.2M187.4 387.51h2.4M191 387.51h6.6M198.2 387.51h0.6M206.6 387.51h0.6M210.2 387.51h1.2M215.6 387.51h1.2M218.6 387.51h0.6M221.6 387.51h1.2M227 387.51h0.6M228.8 387.51h0.6M231.8 387.51h0.6M234.8 387.51h1.2M237.2 387.51h0.6M238.4 387.51h0.6M240.2 387.51h0.6M242 387.51h0.6M243.8 387.51h5.4M249.8 387.51h1.2M255.8 387.51h1.8M261.2 387.51h0.6M264.8 387.51h0.6M266.6 387.51h1.2M270.2 387.51h1.2M272 387.51h1.8M275 387.51h1.2M276.8 387.51h0.6M278.6 387.51h1.8M281 387.51h0.6M284.6 387.51h0.6M290 387.51h0.6M292.4 387.51h1.2M295.4 387.51h2.4M298.4 387.51h1.2M300.2 387.51h1.2M302 387.51h1.2M308 387.51h1.2M312.8 387.51h0.6M314.6 387.51h0.6M316.4 387.51h1.8M319.4 387.51h0.6M320.6 387.51h0.6M322.4 387.51h0.6M324.2 387.51h1.8M328.4 387.51h3.6M333.8 387.51h0.6M336.2 387.51h0.6M338 387.51h1.8M344.6 387.51h2.4M348.2 387.51h0.6M350 387.51h0.6M354.2 387.51h1.8M356.6 387.51h1.8M156.8 391.62h2.4M160.4 391.62h6.6M167.6 391.62h12.6M180.8 391.62h18.6M201.2 391.62h0.6M203.6 391.62h0.6M206.6 391.62h1.2M208.4 391.62h4.2M216.8 391.62h1.8M219.8 391.62h1.2M222.2 391.62h0.6M223.4 391.62h1.2M226.4 391.62h1.2M234.2 391.62h1.8M237.2 391.62h1.8M240.8 391.62h1.2M245.6 391.62h1.2M247.4 391.62h1.2M249.8 391.62h1.2M254.6 391.62h0.6M255.8 391.62h3M267.2 391.62h2.4M272 391.62h1.2M273.8 391.62h0.6M276.2 391.62h1.2M279.8 391.62h0.6M284 391.62h0.6M290 391.62h4.8M296 391.62h1.2M300.8 391.62h0.6M302 391.62h1.2M309.8 391.62h0.6M312.2 391.62h1.8M316.4 391.62h3.6M320.6 391.62h1.2M323 391.62h1.8M328.4 391.62h1.2M330.2 391.62h2.4M333.2 391.62h2.4M336.8 391.62h0.6M338 391.62h1.2M341 391.62h1.8M343.4 391.62h0.6M344.6 391.62h0.6M345.8 391.62h2.4M348.8 391.62h1.8M353.6 391.62h1.8M356.6 391.62h1.8M359 391.62h0.2M156.8 395.74h2.4M160.4 395.74h19.8M181.4 395.74h3M185.6 395.74h4.8M191 395.74h6.6M198.2 395.74h1.8M200.6 395.74h0.6M201.8 395.74h1.2M204.2 395.74h0.6M205.4 395.74h0.6M207.8 395.74h0.6M209 395.74h1.2M210.8 395.74h0.6M220.4 395.74h0.6M222.8 395.74h0.6M228.8 395.74h1.2M234.2 395.74h0.6M235.4 395.74h1.2M239 395.74h1.2M241.4 395.74h0.6M247.4 395.74h1.8M251.6 395.74h1.2M256.4 395.74h1.2M264.2 395.74h1.2M269 395.74h1.2M271.4 395.74h1.8M275.6 395.74h1.2M284.6 395.74h0.6M288.8 395.74h1.2M291.2 395.74h1.2M293 395.74h0.6M295.4 395.74h1.8M299 395.74h0.6M311 395.74h0.6M317 395.74h1.2M320.6 395.74h2.4M326.6 395.74h0.6M329 395.74h2.4M332 395.74h1.2M333.8 395.74h1.8M336.2 395.74h0.6M338.6 395.74h1.2M342.8 395.74h4.2M348.2 395.74h1.8M350.6 395.74h1.2M356 395.74h0.6M357.2 395.74h1.2M156.8 399.85h4.8M162.2 399.85h1.2M164 399.85h10.8M176 399.85h3.6M180.8 399.85h18.6M201.2 399.85h1.8M218 399.85h0.6M219.8 399.85h0.6M222.8 399.85h0.6M225.2 399.85h0.6M227 399.85h0.6M231.8 399.85h4.2M237.2 399.85h0.6M244.4 399.85h2.4M247.4 399.85h1.2M250.4 399.85h0.6M252.2 399.85h0.6M254.6 399.85h1.2M256.4 399.85h0.6M273.8 399.85h0.6M278 399.85h1.8M288.2 399.85h1.2M293 399.85h1.2M295.4 399.85h0.6M296.6 399.85h2.4M311.6 399.85h1.8M316.4 399.85h1.2M318.2 399.85h1.8M321.8 399.85h1.2M329 399.85h3.6M333.2 399.85h1.2M335 399.85h1.2M343.4 399.85h0.6M344.6 399.85h1.2M347 399.85h0.6M348.2 399.85h0.6M161 403.96h0.6M162.2 403.96h1.2M164 403.96h3M168.2 403.96h6.6M175.4 403.96h1.2M177.8 403.96h0.6M179.6 403.96h9.6M189.8 403.96h0.6M192.2 403.96h3.6M196.4 403.96h0.6M198.8 403.96h1.2M209.6 403.96h1.8M219.8 403.96h1.2M221.6 403.96h0.6M226.4 403.96h1.2M234.8 403.96h0.6M237.2 403.96h0.6M240.2 403.96h1.8M243.8 403.96h1.2M255.8 403.96h1.8M267.2 403.96h1.2M269 403.96h1.2M273.8 403.96h0.6M275.6 403.96h0.6M277.4 403.96h0.6M285.8 403.96h0.6M289.4 403.96h0.6M292.4 403.96h1.8M300.2 403.96h1.2M312.2 403.96h0.6M318.8 403.96h1.2M320.6 403.96h1.2M328.4 403.96h1.2M344.6 403.96h0.6M348.2 403.96h0.6M350 403.96h1.2M354.8 403.96h0.6M356 403.96h1.2M156.8 408.07h10.8M168.2 408.07h7.2M176 408.07h6.6M183.2 408.07h12M195.8 408.07h3.6M205.4 408.07h0.6M209.6 408.07h0.6M210.8 408.07h1.2M213.2 408.07h0.6M215 408.07h1.8M219.8 408.07h0.6M224.6 408.07h1.2M226.4 408.07h1.2M228.8 408.07h0.6M234.2 408.07h1.2M237.2 408.07h1.8M241.4 408.07h1.2M243.2 408.07h1.8M248 408.07h0.6M252.8 408.07h1.2M264.2 408.07h1.2M268.4 408.07h1.8M272.6 408.07h2.4M279.2 408.07h1.2M290.6 408.07h0.6M296.6 408.07h0.6M302 408.07h0.6M309.8 408.07h1.2M312.2 408.07h6.6M320.6 408.07h2.4M328.4 408.07h1.2M333.8 408.07h0.6M335.6 408.07h0.6M338 408.07h1.2M341.6 408.07h0.6M343.4 408.07h1.8M348.2 408.07h0.6M350 408.07h0.6M356 408.07h0.6M156.8 412.18h9M166.4 412.18h0.6M168.2 412.18h4.2M173 412.18h1.8M175.4 412.18h0.6M177.2 412.18h3M181.4 412.18h3M185.6 412.18h3M189.8 412.18h4.8M195.2 412.18h4.2M205.4 412.18h0.6M207.8 412.18h0.6M209.6 412.18h0.6M215.6 412.18h0.6M218 412.18h0.6M219.8 412.18h0.6M224 412.18h1.2M228.2 412.18h1.2M233 412.18h1.8M236.6 412.18h1.2M241.4 412.18h1.8M245.6 412.18h1.2M250.4 412.18h0.6M258.2 412.18h0.6M260.6 412.18h0.6M266.6 412.18h0.6M272 412.18h1.2M275 412.18h0.6M276.2 412.18h1.2M278.6 412.18h0.6M281 412.18h0.6M286.4 412.18h0.6M287.6 412.18h2.4M293 412.18h0.6M294.8 412.18h0.6M298.4 412.18h0.6M299.6 412.18h1.8M302 412.18h1.2M305 412.18h0.6M312.8 412.18h0.6M314.6 412.18h0.6M316.4 412.18h1.2M318.8 412.18h1.2M325.4 412.18h0.6M329 412.18h0.6M330.8 412.18h1.2M333.2 412.18h0.6M334.4 412.18h0.6M340.4 412.18h1.8M342.8 412.18h1.2M344.6 412.18h0.6M350 412.18h0.6M353 412.18h1.2M354.8 412.18h1.2M156.8 416.29h3M160.4 416.29h7.2M168.2 416.29h3.6M173 416.29h12M185.6 416.29h5.4M192.8 416.29h6M200.6 416.29h0.6M204.2 416.29h0.6M206.6 416.29h0.6M207.8 416.29h0.6M226.4 416.29h0.6M229.4 416.29h1.2M231.2 416.29h0.6M233.6 416.29h0.6M234.8 416.29h1.2M237.2 416.29h1.2M240.8 416.29h2.4M247.4 416.29h1.2M249.8 416.29h1.2M255.2 416.29h0.6M257.6 416.29h1.2M259.4 416.29h0.6M262.4 416.29h0.6M264.2 416.29h1.8M268.4 416.29h1.2M270.8 416.29h0.6M276.8 416.29h1.2M290.6 416.29h1.2M292.4 416.29h0.6M293.6 416.29h3.6M300.2 416.29h1.2M302.6 416.29h0.6M305 416.29h0.6M308.6 416.29h1.2M312.2 416.29h1.2M314 416.29h1.2M316.4 416.29h0.6M317.6 416.29h0.6M318.8 416.29h0.6M320.6 416.29h1.2M323.6 416.29h1.2M326.6 416.29h0.6M328.4 416.29h1.2M330.2 416.29h1.8M333.2 416.29h1.8M335.6 416.29h1.2M338 416.29h1.2M341 416.29h1.2M345.2 416.29h0.6M348.2 416.29h1.8M355.4 416.29h0.6M356.6 416.29h1.2M156.8 420.41h3M160.4 420.41h2.4M164.6 420.41h10.2M175.4 420.41h1.2M177.2 420.41h5.4M183.2 420.41h5.4M189.2 420.41h0.6M191 420.41h6.6M200.6 420.41h0.6M209.6 420.41h0.6M210.8 420.41h0.6M216.2 420.41h0.6M218 420.41h0.6M222.2 420.41h3.6M226.4 420.41h0.6M238.4 420.41h6M245.6 420.41h1.2M249.8 420.41h0.6M256.4 420.41h0.6M257.6 420.41h0.6M266.6 420.41h1.2M273.8 420.41h0.6M276.2 420.41h1.2M279.8 420.41h0.6M282.2 420.41h1.2M290.6 420.41h1.8M296.6 420.41h0.6M299 420.41h0.6M305 420.41h0.6M312.8 420.41h0.6M314.6 420.41h2.4M320.6 420.41h0.6M325.4 420.41h1.2M330.8 420.41h0.6M333.2 420.41h0.6M335 420.41h0.6M348.2 420.41h0.6M355.4 420.41h2.4M156.8 424.52h10.8M168.2 424.52h9.6M178.4 424.52h11.4M191 424.52h7.8M202.4 424.52h0.6M205.4 424.52h1.2M212.6 424.52h0.6M216.8 424.52h1.8M224.6 424.52h2.4M228.8 424.52h1.8M233.6 424.52h1.8M239.6 424.52h0.6M243.2 424.52h1.2M248 424.52h0.6M250.4 424.52h1.2M252.2 424.52h0.6M255.2 424.52h3M260.6 424.52h1.2M264.2 424.52h0.6M266.6 424.52h0.6M268.4 424.52h1.2M272 424.52h1.2M278.6 424.52h0.6M280.4 424.52h0.6M284 424.52h0.6M285.2 424.52h1.2M290 424.52h1.2M296.6 424.52h1.2M300.8 424.52h0.6M312.2 424.52h1.2M316.4 424.52h0.6M318.2 424.52h0.6M320 424.52h1.2M327.8 424.52h1.8M330.8 424.52h0.6M333.8 424.52h3M344.6 424.52h1.2M347.6 424.52h0.6M349.4 424.52h0.6M200.6 428.63h0.6M204.2 428.63h0.6M206.6 428.63h0.6M215 428.63h0.6M224 428.63h1.8M226.4 428.63h0.6M231.2 428.63h0.6M235.4 428.63h0.6M237.2 428.63h1.8M240.2 428.63h1.2M247.4 428.63h3M256.4 428.63h0.6M258.2 428.63h0.6M265.4 428.63h2.4M269 428.63h1.2M270.8 428.63h0.6M272 428.63h1.2M276.8 428.63h0.6M278 428.63h1.2M284 428.63h0.6M289.4 428.63h0.6M290.6 428.63h0.6M291.8 428.63h0.6M293.6 428.63h1.8M302 428.63h1.2M312.8 428.63h0.6M314.6 428.63h1.2M316.4 428.63h2.4M323.6 428.63h0.6M325.4 428.63h0.6M330.8 428.63h1.2M332.6 428.63h0.6M333.8 428.63h0.6M338 428.63h0.6M343.4 428.63h0.6M344.6 428.63h0.6M351.2 428.63h1.2M354.8 428.63h1.2M156.8 432.74h0.6M158 432.74h1.8M161 432.74h4.8M166.4 432.74h1.8M168.8 432.74h6M176 432.74h0.6M177.8 432.74h1.2M179.6 432.74h2.4M183.2 432.74h1.8M185.6 432.74h3M190.4 432.74h4.2M195.2 432.74h2.4M198.8 432.74h3M203.6 432.74h1.2M207.8 432.74h0.6M210.8 432.74h1.2M214.4 432.74h1.8M219.2 432.74h1.8M222.2 432.74h1.8M224.6 432.74h0.6M226.4 432.74h1.8M228.8 432.74h0.6M234.2 432.74h0.6M237.8 432.74h1.8M240.2 432.74h1.8M243.8 432.74h1.2M247.4 432.74h1.2M250.4 432.74h1.2M255.8 432.74h1.2M257.6 432.74h1.8M261.2 432.74h0.6M263.6 432.74h1.2M268.4 432.74h1.8M270.8 432.74h0.6M272 432.74h2.4M276.8 432.74h0.6M278.6 432.74h3M282.8 432.74h1.2M284.6 432.74h1.2M286.4 432.74h0.6M293.6 432.74h0.6M295.4 432.74h1.2M302 432.74h1.2M309.8 432.74h0.6M312.8 432.74h1.2M314.6 432.74h0.6M316.4 432.74h0.6M317.6 432.74h0.6M319.4 432.74h0.6M320.6 432.74h1.2M323.6 432.74h0.6M328.4 432.74h3M334.4 432.74h2.4M339.2 432.74h0.6M345.2 432.74h0.6M347 432.74h1.2M354.2 432.74h2.4M156.8 445.07h2.4M160.4 445.07h3M164 445.07h5.4M171.2 445.07h0.6M172.4 445.07h18M191 445.07h1.8M193.4 445.07h1.8M195.8 445.07h1.2M197.6 445.07h2.4M201.8 445.07h2.4M205.4 445.07h0.6M206.6 445.07h1.8M210.8 445.07h0.6M216.8 445.07h1.2M219.8 445.07h1.8M222.2 445.07h0.6M225.2 445.07h0.6M226.4 445.07h1.2M230 445.07h1.2M233.6 445.07h1.8M236.6 445.07h1.2M238.4 445.07h0.6M239.6 445.07h0.6M241.4 445.07h1.2M243.8 445.07h4.8M249.8 445.07h1.2M254 445.07h0.6M259.4 445.07h0.6M264.8 445.07h1.2M267.8 445.07h1.8M270.8 445.07h0.6M272 445.07h3M278 445.07h2.4M282.8 445.07h1.8M288.2 445.07h3M293.6 445.07h0.6M296 445.07h1.2M298.4 445.07h0.6M302 445.07h1.2M308 445.07h0.6M314.6 445.07h0.6M317.6 445.07h0.6M318.8 445.07h1.2M320.6 445.07h1.8M327.8 445.07h2.4M330.8 445.07h0.6M332.6 445.07h1.2M335 445.07h0.6M338.6 445.07h1.2M342.8 445.07h1.2M349.4 445.07h1.8M351.8 445.07h1.2M354.8 445.07h0.6M161.6 453.3h4.8M167 453.3h4.8M173 453.3h17.4M191 453.3h1.2M192.8 453.3h4.2M197.6 453.3h1.2M199.4 453.3h3.6M204.2 453.3h0.6M205.4 453.3h0.6M209.6 453.3h0.6M210.8 453.3h3.6M216.2 453.3h0.6M217.4 453.3h1.2M219.8 453.3h4.2M224.6 453.3h2.4M229.4 453.3h1.2M233.6 453.3h1.8M237.2 453.3h0.6M238.4 453.3h3M242.6 453.3h0.6M243.8 453.3h0.6M245.6 453.3h0.6M248 453.3h1.8M250.4 453.3h1.8M254.6 453.3h0.6M255.8 453.3h3M261.2 453.3h0.6M264.2 453.3h0.6M266.6 453.3h1.8M270.2 453.3h4.2M279.2 453.3h0.6M282.8 453.3h1.2M284.6 453.3h0.6M293.6 453.3h0.6M303.2 453.3h0.6M314 453.3h3.6M321.2 453.3h1.8M327.2 453.3h0.6M328.4 453.3h1.2M330.2 453.3h1.2M333.2 453.3h0.6M335 453.3h0.6M347 453.3h1.2M354.8 453.3h0.6M356 453.3h0.6M357.2 453.3h0.6M156.8 457.41h9M166.4 457.41h1.2M168.8 457.41h2.4M171.8 457.41h18.6M191 457.41h1.8M193.4 457.41h2.4M196.4 457.41h3M201.8 457.41h1.2M203.6 457.41h1.2M206.6 457.41h2.4M219.2 457.41h0.6M220.4 457.41h1.2M222.8 457.41h4.8M228.8 457.41h1.8M231.2 457.41h0.6M233 457.41h5.4M239 457.41h2.4M242 457.41h0.6M245 457.41h1.8M247.4 457.41h4.8M255.2 457.41h1.8M258.2 457.41h0.6M261.2 457.41h9.6M272 457.41h3M277.4 457.41h1.8M281.6 457.41h0.6M282.8 457.41h2.4M288.2 457.41h3M295.4 457.41h1.8M299 457.41h1.2M300.8 457.41h0.6M302 457.41h1.2M305.6 457.41h0.6M309.8 457.41h0.6M312.8 457.41h2.4M316.4 457.41h3.6M320.6 457.41h1.2M322.4 457.41h1.2M327.8 457.41h3.6M333.8 457.41h1.2M336.2 457.41h1.8M341 457.41h0.6M343.4 457.41h0.6M344.6 457.41h0.6M348.8 457.41h3M354.2 457.41h4.2M156.8 465.63h1.8M159.8 465.63h0.6M161 465.63h6.6M168.8 465.63h11.4M182 465.63h1.2M183.8 465.63h6.6M192.2 465.63h1.8M195.2 465.63h1.8M198.2 465.63h0.6M199.4 465.63h0.6M201.2 465.63h1.8M206.6 465.63h0.6M207.8 465.63h2.4M216.2 465.63h0.6M217.4 465.63h1.2M219.8 465.63h1.2M221.6 465.63h0.6M224.6 465.63h1.2M226.4 465.63h1.2M228.2 465.63h2.4M233.6 465.63h2.4M236.6 465.63h1.2M238.4 465.63h6.6M245.6 465.63h3.6M250.4 465.63h3M257.6 465.63h0.6M266.6 465.63h0.6M269 465.63h1.2M270.8 465.63h0.6M272 465.63h5.4M279.2 465.63h1.2M281 465.63h1.2M283.4 465.63h0.6M288.8 465.63h3M294.8 465.63h1.8M297.2 465.63h3M302 465.63h1.2M312.2 465.63h1.8M314.6 465.63h5.4M320.6 465.63h1.2M328.4 465.63h1.8M330.8 465.63h0.6M332 465.63h3.6M336.2 465.63h2.4M340.4 465.63h0.6M341.6 465.63h0.6M343.4 465.63h1.8M346.4 465.63h0.6M348.8 465.63h1.2M354.2 465.63h0.6M356 465.63h0.6M357.2 465.63h0.6M359 465.63h0.2M159.2 469.74h0.6M160.4 469.74h10.2M171.2 469.74h0.6M173 469.74h1.8M175.4 469.74h4.8M180.8 469.74h1.8M183.2 469.74h3.6M187.4 469.74h3M191 469.74h1.2M192.8 469.74h1.8M196.4 469.74h2.4M200 469.74h1.2M203 469.74h0.6M204.2 469.74h0.6M205.4 469.74h0.6M210.2 469.74h1.2M218 469.74h0.6M221 469.74h1.8M223.4 469.74h1.8M226.4 469.74h1.2M228.8 469.74h1.8M233 469.74h1.2M235.4 469.74h1.2M237.2 469.74h0.6M238.4 469.74h1.2M241.4 469.74h5.4M247.4 469.74h3.6M251.6 469.74h0.6M252.8 469.74h0.6M256.4 469.74h0.6M259.4 469.74h3M265.4 469.74h0.6M266.6 469.74h0.6M269 469.74h1.2M270.8 469.74h0.6M272 469.74h1.2M276.8 469.74h1.2M278.6 469.74h1.2M281.6 469.74h1.8M291.2 469.74h0.6M294.8 469.74h2.4M299.6 469.74h0.6M302 469.74h0.6M311 469.74h3M315.8 469.74h4.2M320.6 469.74h3M327.8 469.74h2.4M330.8 469.74h0.6M332 469.74h3.6M336.2 469.74h0.6M338.6 469.74h1.2M345.2 469.74h1.2M349.4 469.74h1.2M354.8 469.74h0.6"/>
<path stroke="#6f76c2" stroke-width="0.6" stroke-opacity="0.75" d="M157.1 364.9V471.8"/>
<path stroke="#e6ec0e" stroke-width="4.86" d="M11.8 519.83h14.4M28.6 519.83h9.6M40.6 519.83h10.4M52.6 519.83h8M63 519.83h7.2M73.4 519.83h4.8M79.8 519.83h10.4M92.6 519.83h4.8M99.8 519.83h3.2M105.4 519.83h0.8M108.6 519.83h12.8M125.4 519.83h5.6M131.8 519.83h2.4M135 519.83h7.2M144.6 519.83h6.4M151.8 519.83h5.6M159 519.83h3.2M163.8 519.83h6.4M173.4 519.83h2.4M187.8 519.83h7.2M199.8 519.83h16M219 519.83h8M228.6 519.83h8M237.4 519.83h2.4M241.4 519.83h1.9M11.8 524.69h7.2M19.8 524.69h6.4M28.6 524.69h9.6M39.8 524.69h15.2M57.4 524.69h0.8M60.6 524.69h10.4M72.6 524.69h5.6M79.8 524.69h8M89.4 524.69h3.2M94.2 524.69h5.6M102.2 524.69h3.2M106.2 524.69h23.2M130.2 524.69h1.6M133.4 524.69h42.4M179.8 524.69h14.4M195.8 524.69h28.8M225.4 524.69h8.8M237.4 524.69h5.9M19 529.55h1.6M29.4 529.55h2.4M35.8 529.55h1.6M44.6 529.55h5.6M51 529.55h4M57.4 529.55h14.4M73.4 529.55h4.8M81.4 529.55h3.2M86.2 529.55h1.6M95 529.55h2.4M99.8 529.55h0.8M109.4 529.55h1.6M112.6 529.55h6.4M120.6 529.55h9.6M135 529.55h1.6M139.8 529.55h2.4M145.4 529.55h3.2M152.6 529.55h2.4M160.6 529.55h0.8M165.4 529.55h3.2M172.6 529.55h5.6M179.8 529.55h1.6M184.6 529.55h0.8M187.8 529.55h5.6M195.8 529.55h4M202.2 529.55h0.8M204.6 529.55h3.2M210.2 529.55h3.2M217.4 529.55h4.8M226.2 529.55h2.4M230.2 529.55h3.2M235 529.55h4.8M240.6 529.55h2.7M11.8 534.41h5.6M19 534.41h6.4M27 534.41h2.4M31 534.41h4.8M36.6 534.41h0.8M38.2 534.41h10.4M51 534.41h4M58.2 534.41h2.4M62.2 534.41h9.6M72.6 534.41h12M86.2 534.41h2.4M91 534.41h2.4M95.8 534.41h4M101.4 534.41h1.6M107.8 534.41h1.6M112.6 534.41h6.4M127.8 534.41h0.8M132.6 534.41h4M139.8 534.41h1.6M142.2 534.41h1.6M145.4 534.41h3.2M151 534.41h7.2M159.8 534.41h3.2M164.6 534.41h14.4M180.6 534.41h4M186.2 534.41h7.2M195 534.41h7.2M204.6 534.41h5.6M212.6 534.41h3.2M216.6 534.41h9.6M227 534.41h2.4M232.6 534.41h4M238.2 534.41h5.1M13.4 539.27h0.8M15.8 539.27h0.8M18.2 539.27h3.2M23 539.27h4M31.8 539.27h8M43 539.27h0.8M44.6 539.27h10.4M57.4 539.27h14.4M74.2 539.27h3.2M78.2 539.27h2.4M82.2 539.27h10.4M95.8 539.27h1.6M98.2 539.27h7.2M108.6 539.27h7.2M117.4 539.27h1.6M122.2 539.27h4.8M128.6 539.27h3.2M132.6 539.27h4M145.4 539.27h14.4M164.6 539.27h3.2M175.8 539.27h0.8M179.8 539.27h2.4M183 539.27h4M187.8 539.27h0.8M191 539.27h3.2M196.6 539.27h8.8M207 539.27h1.6M212.6 539.27h0.8M214.2 539.27h0.8M219 539.27h3.2M223.8 539.27h2.4M230.2 539.27h1.6M238.2 539.27h1.6M241.4 539.27h1.6"/>
<path stroke="#8e8c2a" stroke-width="4.86" d="M26.2 519.83h0.8M27.8 519.83h0.8M38.2 519.83h2.4M51 519.83h1.6M62.2 519.83h0.8M78.2 519.83h1.6M90.2 519.83h0.8M91.8 519.83h0.8M97.4 519.83h0.8M99 519.83h0.8M103 519.83h2.4M106.2 519.83h0.8M121.4 519.83h2.4M131 519.83h0.8M134.2 519.83h0.8M151 519.83h0.8M158.2 519.83h0.8M170.2 519.83h3.2M185.4 519.83h0.8M195.8 519.83h1.6M199 519.83h0.8M218.2 519.83h0.8M227 519.83h1.6M236.6 519.83h0.8M240.6 519.83h0.8M19 524.69h0.8M26.2 524.69h2.4M38.2 524.69h1.6M71 524.69h1.6M78.2 524.69h1.6M87.8 524.69h1.6M92.6 524.69h1.6M99.8 524.69h2.4M105.4 524.69h0.8M129.4 524.69h0.8M131.8 524.69h1.6M194.2 524.69h1.6M224.6 524.69h0.8M234.2 524.69h3.2M50.2 529.55h0.8M55 529.55h0.8M56.6 529.55h0.8M71.8 529.55h1.6M78.2 529.55h0.8M80.6 529.55h0.8M100.6 529.55h0.8M106.2 529.55h0.8M131 529.55h0.8M134.2 529.55h0.8M148.6 529.55h0.8M156.6 529.55h0.8M159.8 529.55h0.8M178.2 529.55h0.8M187 529.55h0.8M203 529.55h1.6M207.8 529.55h0.8M215 529.55h2.4M229.4 529.55h0.8M233.4 529.55h1.6M239.8 529.55h0.8M17.4 534.41h0.8M25.4 534.41h1.6M29.4 534.41h0.8M48.6 534.41h0.8M50.2 534.41h0.8M55 534.41h0.8M60.6 534.41h0.8M71.8 534.41h0.8M84.6 534.41h1.6M95 534.41h0.8M109.4 534.41h0.8M121.4 534.41h0.8M125.4 534.41h0.8M127 534.41h0.8M128.6 534.41h0.8M136.6 534.41h0.8M141.4 534.41h0.8M158.2 534.41h1.6M163 534.41h0.8M179 534.41h1.6M184.6 534.41h0.8M193.4 534.41h1.6M202.2 534.41h2.4M210.2 534.41h0.8M226.2 534.41h0.8M229.4 534.41h3.2M11.8 539.27h1.6M14.2 539.27h1.6M16.6 539.27h1.6M21.4 539.27h1.6M27 539.27h0.8M28.6 539.27h1.6M31 539.27h0.8M39.8 539.27h0.8M42.2 539.27h0.8M43.8 539.27h0.8M55 539.27h0.8M73.4 539.27h0.8M80.6 539.27h1.6M94.2 539.27h0.8M97.4 539.27h0.8M115.8 539.27h1.6M119 539.27h1.6M127.8 539.27h0.8M131.8 539.27h0.8M136.6 539.27h2.4M172.6 539.27h0.8M175 539.27h0.8M178.2 539.27h0.8M213.4 539.27h0.8M226.2 539.27h0.8"/>
<path stroke="#565524" stroke-width="4.86" d="M27 519.83h0.8M70.2 519.83h3.2M91 519.83h0.8M98.2 519.83h0.8M107 519.83h1.6M123.8 519.83h1.6M142.2 519.83h2.4M157.4 519.83h0.8M162.2 519.83h1.6M180.6 519.83h4.8M186.2 519.83h1.6M195 519.83h0.8M197.4 519.83h1.6M215.8 519.83h2.4M239.8 519.83h0.8M21.4 529.55h1.6M35 529.55h0.8M55.8 529.55h0.8M79 529.55h1.6M179 529.55h0.8M181.4 529.55h3.2M185.4 529.55h1.6M193.4 529.55h2.4M199.8 529.55h2.4M208.6 529.55h1.6M213.4 529.55h1.6M222.2 529.55h4M228.6 529.55h0.8M18.2 534.41h0.8M49.4 534.41h0.8M55.8 534.41h2.4M61.4 534.41h0.8M88.6 534.41h0.8M93.4 534.41h0.8M107 534.41h0.8M110.2 534.41h0.8M111.8 534.41h0.8M119 534.41h0.8M120.6 534.41h0.8M122.2 534.41h0.8M129.4 534.41h0.8M131.8 534.41h0.8M137.4 534.41h0.8M143.8 534.41h0.8M148.6 534.41h0.8M150.2 534.41h0.8M163.8 534.41h0.8M27.8 539.27h0.8M30.2 539.27h0.8M40.6 539.27h1.6M55.8 539.27h1.6M71.8 539.27h1.6M77.4 539.27h0.8"/>
<path stroke="#161618" stroke-width="4.86" d="M11.8 529.55h4.8M18.2 529.55h0.8M20.6 529.55h0.8M23 529.55h2.4M28.6 529.55h0.8M31.8 529.55h3.2M37.4 529.55h0.8M42.2 529.55h2.4M84.6 529.55h1.6M87.8 529.55h4M93.4 529.55h1.6M97.4 529.55h0.8M99 529.55h0.8M101.4 529.55h4.8M107 529.55h0.8M108.6 529.55h0.8M111.8 529.55h0.8M130.2 529.55h0.8M131.8 529.55h0.8M133.4 529.55h0.8M136.6 529.55h0.8M138.2 529.55h1.6M144.6 529.55h0.8M149.4 529.55h3.2M155 529.55h1.6M157.4 529.55h0.8M159 529.55h0.8M161.4 529.55h0.8M164.6 529.55h0.8M168.6 529.55h4"/>
<path stroke="#5c669e" stroke-width="4.86" d="M16.6 529.55h1.6M25.4 529.55h3.2M38.2 529.55h4M91.8 529.55h1.6M98.2 529.55h0.8M107.8 529.55h0.8M111 529.55h0.8M119 529.55h1.6M132.6 529.55h0.8M137.4 529.55h0.8M142.2 529.55h2.4M158.2 529.55h0.8M162.2 529.55h2.4M89.4 534.41h1.6M94.2 534.41h0.8M99.8 534.41h1.6M103 534.41h4M111 534.41h0.8M119.8 534.41h0.8M123 534.41h2.4M126.2 534.41h0.8M130.2 534.41h1.6M138.2 534.41h1.6M144.6 534.41h0.8M149.4 534.41h0.8M185.4 534.41h0.8M211 534.41h1.6M215.8 534.41h0.8M236.6 534.41h1.6M92.6 539.27h1.6M95 539.27h0.8M105.4 539.27h3.2M120.6 539.27h1.6M127 539.27h0.8M139 539.27h6.4M159.8 539.27h4.8M167.8 539.27h4.8M173.4 539.27h1.6M176.6 539.27h1.6M179 539.27h0.8M182.2 539.27h0.8M187 539.27h0.8M188.6 539.27h2.4M194.2 539.27h2.4M205.4 539.27h1.6M208.6 539.27h4M215 539.27h4M222.2 539.27h1.6M227 539.27h3.2M231.8 539.27h6.4M239.8 539.27h1.6M243 539.27h0.3"/>
<path stroke="#3a4eba" stroke-width="4.86" d="M60.6 519.83h1.6M175.8 519.83h4.8M55 524.69h2.4M58.2 524.69h2.4M175.8 524.69h4M30.2 534.41h0.8M35.8 534.41h0.8M37.4 534.41h0.8"/>
<path stroke="#6f76c2" stroke-width="0.6" stroke-opacity="0.75" d="M12.1 517.4V541.7"/>
<path stroke="#e6ec0e" stroke-width="4.86" d="M252.5 519.83h1.6M270.9 519.83h2.4M302.9 519.83h0.8M306.1 519.83h0.8M347.7 519.83h4.8M353.3 519.83h4.8M362.9 519.83h0.8M366.1 519.83h0.8M384.5 519.83h1.6M393.3 519.83h1.6M349.3 524.69h5.6M355.7 529.55h1.6M252.5 534.41h7.2M262.1 534.41h4M266.9 534.41h1.6M269.3 534.41h1.6M319.7 534.41h7.2M327.7 534.41h2.4M350.1 534.41h1.6M357.3 534.41h1.6M362.9 534.41h0.8M370.9 534.41h1.6M374.9 534.41h2.4M378.9 534.41h5.6M390.1 534.41h0.8M394.1 534.41h1.6M252.5 539.27h6.4M263.7 539.27h4M271.7 539.27h1.6M274.9 539.27h3.2M299.7 539.27h1.6M302.1 539.27h1.6M304.5 539.27h10.4M315.7 539.27h80.1"/>
<path stroke="#8e8c2a" stroke-width="4.86" d="M257.3 519.83h0.8M265.3 519.83h2.4M273.3 519.83h0.8M291.7 519.83h0.8M305.3 519.83h0.8M306.9 519.83h0.8M329.3 519.83h0.8M341.3 519.83h1.6M346.1 519.83h0.8M352.5 519.83h0.8M358.1 519.83h1.6M360.5 519.83h2.4M365.3 519.83h0.8M366.9 519.83h0.8M392.5 519.83h0.8M394.9 519.83h0.8M256.5 524.69h1.6M294.1 524.69h1.6M340.5 524.69h2.4M254.9 529.55h1.6M304.5 529.55h0.8M310.9 529.55h1.6M336.5 529.55h0.8M348.5 529.55h1.6M350.9 529.55h0.8M354.9 529.55h0.8M357.3 529.55h0.8M259.7 534.41h2.4M266.1 534.41h0.8M268.5 534.41h0.8M271.7 534.41h0.8M277.3 534.41h0.8M282.9 534.41h0.8M294.1 534.41h1.6M326.9 534.41h0.8M335.7 534.41h0.8M345.3 534.41h0.8M349.3 534.41h0.8M351.7 534.41h0.8M353.3 534.41h2.4M361.3 534.41h1.6M363.7 534.41h0.8M370.1 534.41h0.8M374.1 534.41h0.8M384.5 534.41h1.6M389.3 534.41h0.8M390.9 534.41h0.8M393.3 534.41h0.8M258.9 539.27h2.4M278.1 539.27h0.8M301.3 539.27h0.8M303.7 539.27h0.8M314.9 539.27h0.8"/>
<path stroke="#565524" stroke-width="4.86" d="M252.5 529.55h2.4M256.5 529.55h0.8M262.1 529.55h3.2M269.3 529.55h0.8M261.3 539.27h0.8M267.7 539.27h0.8M269.3 539.27h2.4M273.3 539.27h1.6M280.5 539.27h1.6"/>
<path stroke="#161618" stroke-width="4.86" d="M257.3 529.55h4.8M265.3 529.55h4M270.1 529.55h2.4M274.9 529.55h6.4M282.9 529.55h1.6M287.7 529.55h2.4M292.5 529.55h6.4M300.5 529.55h4M305.3 529.55h5.6M312.5 529.55h0.8M315.7 529.55h1.6M318.1 529.55h1.6M322.1 529.55h1.6M326.1 529.55h0.8M332.5 529.55h4M337.3 529.55h0.8M340.5 529.55h2.4M345.3 529.55h3.2M350.1 529.55h0.8M351.7 529.55h3.2M358.1 529.55h1.6M361.3 529.55h0.8M362.9 529.55h4.8M368.5 529.55h6.4M378.9 529.55h8M388.5 529.55h1.6M391.7 529.55h4M262.1 539.27h1.6M268.5 539.27h0.8M278.9 539.27h1.6"/>
<path stroke="#222868" stroke-width="4.86" d="M272.5 529.55h2.4M281.3 529.55h1.6M284.5 529.55h3.2M290.1 529.55h2.4M298.9 529.55h1.6M313.3 529.55h2.4M317.3 529.55h0.8M319.7 529.55h2.4M323.7 529.55h2.4M326.9 529.55h5.6M338.1 529.55h2.4M342.9 529.55h2.4M359.7 529.55h1.6M362.1 529.55h0.8M367.7 529.55h0.8M374.9 529.55h4M386.9 529.55h1.6M390.1 529.55h1.6M395.7 529.55h0.1M272.5 534.41h0.8M275.7 534.41h1.6M278.1 534.41h0.8M282.1 534.41h0.8M283.7 534.41h0.8M295.7 534.41h2.4M303.7 534.41h2.4M306.9 534.41h2.4M316.5 534.41h1.6M336.5 534.41h0.8M340.5 534.41h1.6M344.5 534.41h0.8M346.1 534.41h0.8M282.1 539.27h14.4"/>
<path stroke="#3a4eba" stroke-width="4.86" d="M254.1 519.83h3.2M258.1 519.83h7.2M267.7 519.83h3.2M274.1 519.83h17.6M292.5 519.83h10.4M303.7 519.83h1.6M307.7 519.83h21.6M330.1 519.83h11.2M342.9 519.83h3.2M346.9 519.83h0.8M359.7 519.83h0.8M363.7 519.83h1.6M367.7 519.83h16.8M386.1 519.83h6.4M395.7 519.83h0.1M252.5 524.69h4M258.1 524.69h36M295.7 524.69h44.8M342.9 524.69h6.4M354.9 524.69h40.9M270.9 534.41h0.8M273.3 534.41h2.4M278.9 534.41h3.2M284.5 534.41h9.6M298.1 534.41h5.6M306.1 534.41h0.8M309.3 534.41h7.2M318.1 534.41h1.6M330.1 534.41h5.6M337.3 534.41h3.2M342.1 534.41h2.4M346.9 534.41h2.4M352.5 534.41h0.8M355.7 534.41h1.6M358.9 534.41h2.4M364.5 534.41h5.6M372.5 534.41h1.6M377.3 534.41h1.6M386.1 534.41h3.2M391.7 534.41h1.6M395.7 534.41h0.1M296.5 539.27h3.2"/>
<path stroke="#6f76c2" stroke-width="0.6" stroke-opacity="0.75" d="M252.8 517.4V541.7"/>
</g>
<!-- gene labels -->
<g class="m" font-size="6.3">
<text x="355.5" y="97.4" textLength="23.1" lengthAdjust="spacingAndGlyphs">SIGLEC1</text>
<text x="355.5" y="103.09" textLength="16.5" lengthAdjust="spacingAndGlyphs">CD163</text>
<text x="355.5" y="108.78" textLength="16.5" lengthAdjust="spacingAndGlyphs">MS4A1</text>
<text x="355.5" y="114.47" textLength="13.2" lengthAdjust="spacingAndGlyphs">CCL2</text>
<text x="355.5" y="120.16" textLength="13.2" lengthAdjust="spacingAndGlyphs">CCL8</text>
<text x="355.5" y="125.85" textLength="19.8" lengthAdjust="spacingAndGlyphs">CXCL13</text>
<text x="355.5" y="131.54" textLength="19.8" lengthAdjust="spacingAndGlyphs">CXCL11</text>
<text x="355.5" y="137.23" textLength="19.8" lengthAdjust="spacingAndGlyphs">CXCL10</text>
<text x="355.5" y="142.92" textLength="16.5" lengthAdjust="spacingAndGlyphs">CXCL9</text>
<text x="355.5" y="148.61" textLength="13.2" lengthAdjust="spacingAndGlyphs">CCL3</text>
<text x="355.5" y="154.3" textLength="16.5" lengthAdjust="spacingAndGlyphs">CCL18</text>
<text x="355.5" y="159.99" textLength="13.2" lengthAdjust="spacingAndGlyphs">CCL4</text>
<text x="355.5" y="165.68" textLength="16.5" lengthAdjust="spacingAndGlyphs">CCL21</text>
<text x="355.5" y="171.37" textLength="13.2" lengthAdjust="spacingAndGlyphs">CCL5</text>
<text x="355.5" y="177.06" textLength="16.5" lengthAdjust="spacingAndGlyphs">CCL19</text>
</g>
<g class="m" font-size="7.6" style="font-weight:normal;stroke:#222;stroke-width:0.28px">
<text x="306.4" y="235.4" textLength="28.21" lengthAdjust="spacingAndGlyphs">SIGLEC1</text>
<text x="306.4" y="242.25" textLength="24.18" lengthAdjust="spacingAndGlyphs">UBE2G2</text>
<text x="306.4" y="249.1" textLength="16.12" lengthAdjust="spacingAndGlyphs">CCL4</text>
<text x="306.4" y="255.95" textLength="28.21" lengthAdjust="spacingAndGlyphs">TNFRSF4</text>
<text x="306.4" y="262.8" textLength="16.12" lengthAdjust="spacingAndGlyphs">CD19</text>
<text x="306.4" y="269.65" textLength="16.12" lengthAdjust="spacingAndGlyphs">CD38</text>
<text x="306.4" y="276.5" textLength="16.12" lengthAdjust="spacingAndGlyphs">GZMB</text>
<text x="306.4" y="283.35" textLength="16.12" lengthAdjust="spacingAndGlyphs">CD1D</text>
<text x="306.4" y="290.2" textLength="20.15" lengthAdjust="spacingAndGlyphs">TGFB1</text>
<text x="306.4" y="297.05" textLength="16.12" lengthAdjust="spacingAndGlyphs">CCL2</text>
<text x="306.4" y="303.9" textLength="12.09" lengthAdjust="spacingAndGlyphs">CD5</text>
<text x="306.4" y="310.75" textLength="16.12" lengthAdjust="spacingAndGlyphs">IL10</text>
</g>
<g class="m" font-size="4.3" style="font-weight:normal;stroke:#2a2a2a;stroke-width:0.14px">
<text x="360.8" y="369.8" textLength="16.38" lengthAdjust="spacingAndGlyphs">SIGLEC1</text>
<text x="360.8" y="373.87" textLength="11.7" lengthAdjust="spacingAndGlyphs">CD163</text>
<text x="360.8" y="377.94" textLength="11.7" lengthAdjust="spacingAndGlyphs">MS4A1</text>
<text x="360.8" y="382.01" textLength="9.36" lengthAdjust="spacingAndGlyphs">CCL2</text>
<text x="360.8" y="386.08" textLength="9.36" lengthAdjust="spacingAndGlyphs">CCL8</text>
<text x="360.8" y="390.15" textLength="14.04" lengthAdjust="spacingAndGlyphs">CXCL13</text>
<text x="360.8" y="394.22" textLength="14.04" lengthAdjust="spacingAndGlyphs">CXCL11</text>
<text x="360.8" y="398.29" textLength="14.04" lengthAdjust="spacingAndGlyphs">CXCL10</text>
<text x="360.8" y="402.36" textLength="11.7" lengthAdjust="spacingAndGlyphs">CXCL9</text>
<text x="360.8" y="406.43" textLength="9.36" lengthAdjust="spacingAndGlyphs">CCL3</text>
<text x="360.8" y="410.5" textLength="11.7" lengthAdjust="spacingAndGlyphs">CCL18</text>
<text x="360.8" y="414.57" textLength="11.7" lengthAdjust="spacingAndGlyphs">CCL21</text>
<text x="360.8" y="418.64" textLength="9.36" lengthAdjust="spacingAndGlyphs">CCL5</text>
<text x="360.8" y="422.71" textLength="11.7" lengthAdjust="spacingAndGlyphs">CCL19</text>
<text x="360.8" y="426.78" textLength="9.36" lengthAdjust="spacingAndGlyphs">CCL4</text>
<text x="360.8" y="430.85" textLength="14.04" lengthAdjust="spacingAndGlyphs">UBE2G2</text>
<text x="360.8" y="434.92" textLength="16.38" lengthAdjust="spacingAndGlyphs">TNFRSF4</text>
<text x="360.8" y="438.99" textLength="9.36" lengthAdjust="spacingAndGlyphs">CD19</text>
<text x="360.8" y="443.06" textLength="9.36" lengthAdjust="spacingAndGlyphs">CD38</text>
<text x="360.8" y="447.13" textLength="9.36" lengthAdjust="spacingAndGlyphs">GZMB</text>
<text x="360.8" y="451.2" textLength="9.36" lengthAdjust="spacingAndGlyphs">CD1D</text>
<text x="360.8" y="455.27" textLength="11.7" lengthAdjust="spacingAndGlyphs">TGFB1</text>
<text x="360.8" y="459.34" textLength="7.02" lengthAdjust="spacingAndGlyphs">CD5</text>
<text x="360.8" y="463.41" textLength="9.36" lengthAdjust="spacingAndGlyphs">IL10</text>
<text x="360.8" y="467.48" textLength="11.7" lengthAdjust="spacingAndGlyphs">FOXP3</text>
<text x="360.8" y="471.55" textLength="7.02" lengthAdjust="spacingAndGlyphs">CD4</text>
</g>
<g class="m" font-size="5">
<text x="397.7" y="522.7" textLength="20.3" lengthAdjust="spacingAndGlyphs">SIGLEC1</text>
<text x="397.7" y="527.55" textLength="14.5" lengthAdjust="spacingAndGlyphs">CD163</text>
<text x="397.7" y="532.4" textLength="8.7" lengthAdjust="spacingAndGlyphs">LTA</text>
<text x="397.7" y="537.25" textLength="8.7" lengthAdjust="spacingAndGlyphs">LTB</text>
<text x="397.7" y="542.1" textLength="11.6" lengthAdjust="spacingAndGlyphs">CSF1</text>
</g>
<!-- brackets -->
<g fill="none" stroke="#111" stroke-width="1.2">
<path d="M375.5 112.3H388.6V174.5H375.5"/>
<path d="M337 239.8H350.4V309.6H337"/>
</g>
<g fill="none" stroke="#777" stroke-width="0.7">
<path d="M377.1 378.8H386.2V426.4H377.1M386.2 401H388"/>
<path d="M377 423.2H383.6V463.3M383.6 443.2H386.8"/>
<path d="M377 463.3H386.8V471.3H377M386.8 467.2H388.5"/>
</g>
<!-- signature labels -->
<g class="t">
<text class="s" transform="translate(399.9,145.7) rotate(-90)" text-anchor="middle" font-size="8" textLength="13" lengthAdjust="spacingAndGlyphs">TLS</text>
<text class="s" transform="translate(407.6,145.8) rotate(-90)" text-anchor="middle" font-size="7.3" textLength="49" lengthAdjust="spacingAndGlyphs">Gene Signature</text>
<text class="s" transform="translate(362.6,277) rotate(-90)" text-anchor="middle" font-size="7.6" textLength="14.5" lengthAdjust="spacingAndGlyphs">Breg</text>
<text class="s" transform="translate(370.6,276.7) rotate(-90)" text-anchor="middle" font-size="7.2" textLength="48.7" lengthAdjust="spacingAndGlyphs">Gene Signature</text>
<g font-size="5.5" text-anchor="middle" class="s">
<text x="402" y="401">TLS</text>
<text x="402.6" y="406.2" textLength="23.9" lengthAdjust="spacingAndGlyphs">Signature</text>
<text x="402" y="443.2">Breg</text>
<text x="401.7" y="448.4" textLength="23.3" lengthAdjust="spacingAndGlyphs">Signature</text>
<text x="402" y="465.2">Treg</text>
<text x="402.2" y="470.4" textLength="23.5" lengthAdjust="spacingAndGlyphs">Signature</text>
</g>
</g>
</svg>
</body></html>
